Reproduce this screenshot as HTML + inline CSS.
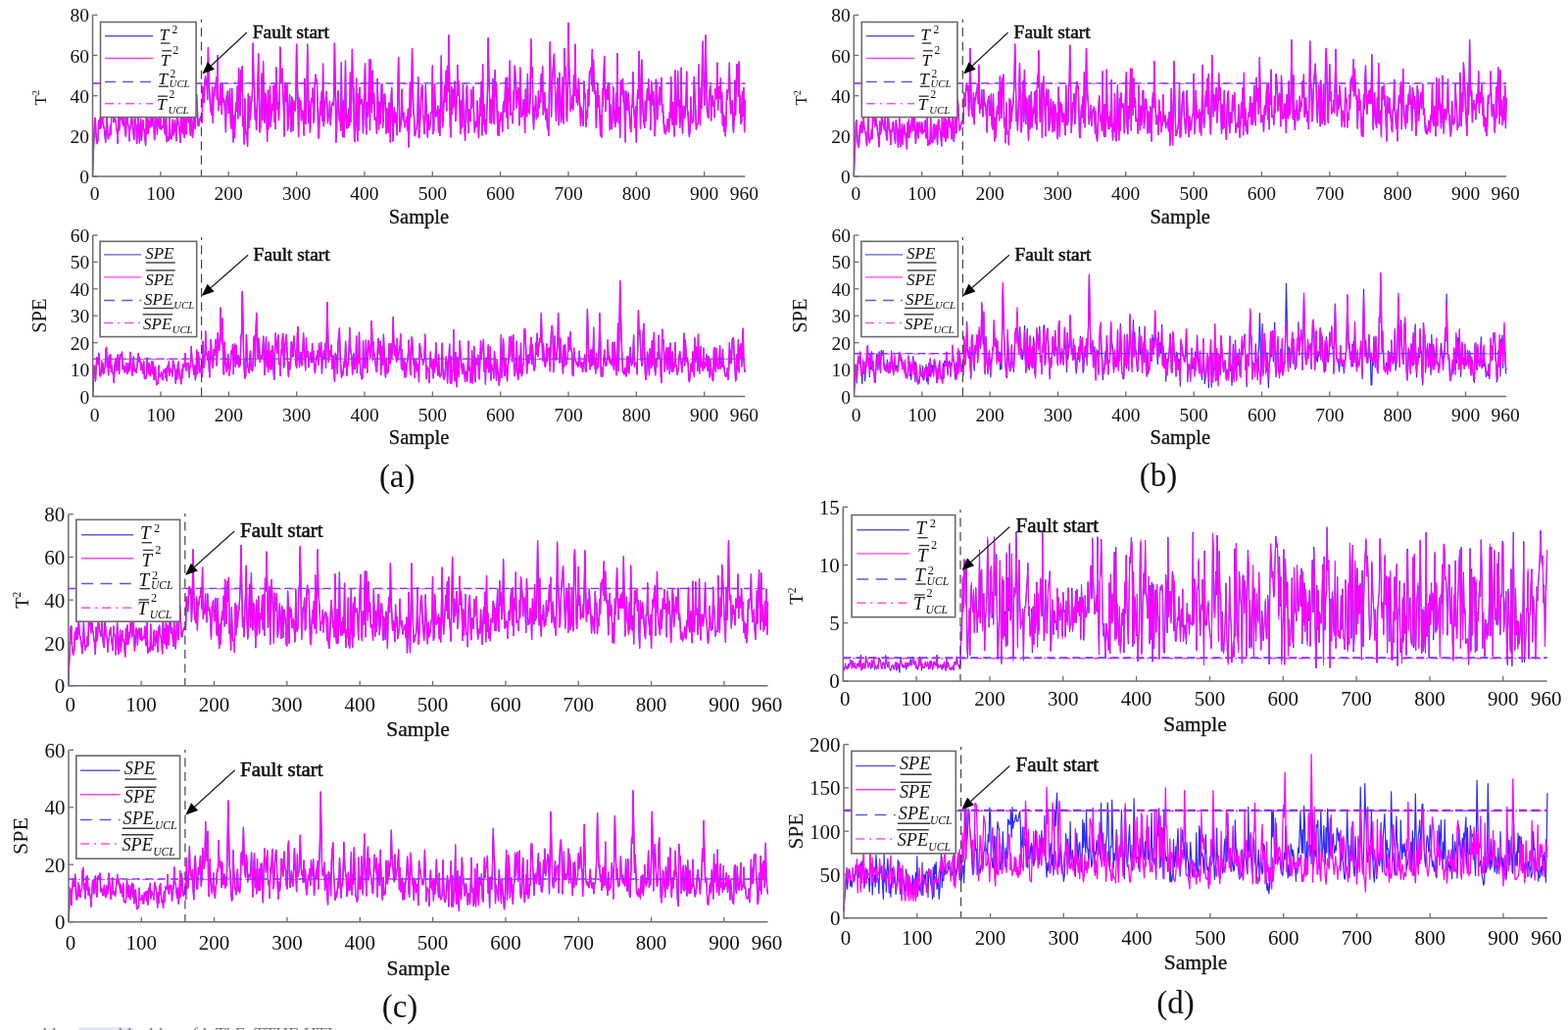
<!DOCTYPE html>
<html><head><meta charset="utf-8"><title>Fault detection charts</title>
<style>html,body{margin:0;padding:0;background:#fff;}svg{display:block;filter:blur(0.4px);}</style></head>
<body>
<svg width="1600" height="1051" viewBox="0 0 1600 1051" font-family='"Liberation Serif", "Times New Roman", serif' fill="#111">
<rect width="1600" height="1051" fill="#fff" stroke="none"/>
<polyline points="94.5,180.0 95.2,159.4 95.9,140.9 96.6,120.3 97.3,120.3 98.0,137.1 98.7,144.8 99.4,146.7 100.0,141.8 100.7,123.2 101.4,131.4 102.1,120.3 102.8,131.0 103.5,129.4 104.2,106.4 104.9,124.0 105.6,128.5 106.3,131.0 107.0,137.5 107.7,145.1 108.4,131.3 109.1,114.4 109.8,135.2 110.5,141.9 111.1,137.5 111.8,138.5 112.5,128.1 113.2,137.5 113.9,109.0 114.6,106.7 115.3,116.9 116.0,124.8 116.7,110.4 117.4,122.4 118.1,122.9 118.8,131.0 119.5,135.5 120.2,146.2 120.9,119.0 121.5,132.8 122.2,129.2 122.9,112.2 123.6,116.3 124.3,122.9 125.0,125.1 125.7,128.2 126.4,113.5 127.1,127.4 127.8,136.6 128.5,139.1 129.2,111.9 129.9,118.5 130.6,128.4 131.3,127.9 132.0,143.8 132.6,132.4 133.3,129.3 134.0,122.1 134.7,119.2 135.4,130.5 136.1,136.2 136.8,142.3 137.5,117.8 138.2,125.7 138.9,127.1 139.6,146.5 140.3,137.6 141.0,114.6 141.7,127.9 142.4,145.8 143.0,133.5 143.7,121.5 144.4,143.5 145.1,130.7 145.8,122.4 146.5,132.3 147.2,131.7 147.9,140.9 148.6,148.5 149.3,120.1 150.0,136.1 150.7,116.8 151.4,136.1 152.1,124.2 152.8,130.4 153.5,118.6 154.1,105.4 154.8,129.1 155.5,125.3 156.2,101.6 156.9,125.7 157.6,142.7 158.3,131.3 159.0,119.8 159.7,122.2 160.4,136.8 161.1,121.8 161.8,119.9 162.5,129.0 163.2,131.2 163.9,119.9 164.5,132.4 165.2,128.4 165.9,130.3 166.6,130.2 167.3,118.1 168.0,135.1 168.7,137.6 169.4,114.3 170.1,144.7 170.8,142.8 171.5,139.7 172.2,143.3 172.9,115.7 173.6,141.1 174.3,138.1 175.0,141.8 175.6,124.6 176.3,122.1 177.0,138.0 177.7,133.8 178.4,122.8 179.1,132.6 179.8,143.7 180.5,119.3 181.2,117.1 181.9,126.6 182.6,128.7 183.3,135.7 184.0,145.4 184.7,107.3 185.4,134.8 186.0,120.3 186.7,136.4 187.4,113.7 188.1,140.4 188.8,117.0 189.5,135.6 190.2,137.0 190.9,111.1 191.6,109.7 192.3,124.8 193.0,119.4 193.7,128.4 194.4,138.1 195.1,111.6 195.8,129.3 196.5,140.4 197.1,131.7 197.8,106.5 198.5,126.0 199.2,131.4 199.9,111.5 200.6,96.1 201.3,107.1 202.0,128.0 202.7,128.6 203.4,124.0 204.1,120.9 204.8,119.0 205.5,124.3 206.2,125.1 206.9,88.7 207.5,94.4 208.2,104.7 208.9,85.1 209.6,77.7 210.3,86.4 211.0,80.9 211.7,101.2 212.4,48.7 213.1,85.4 213.8,94.7 214.5,107.1 215.2,114.0 215.9,117.1 216.6,88.8 217.3,125.3 218.0,94.6 218.6,98.0 219.3,88.4 220.0,89.2 220.7,79.0 221.4,101.6 222.1,56.6 222.8,112.7 223.5,102.9 224.2,106.8 224.9,85.5 225.6,107.2 226.3,116.4 227.0,85.6 227.7,104.0 228.4,100.5 229.0,103.6 229.7,115.9 230.4,134.8 231.1,99.9 231.8,95.6 232.5,92.8 233.2,115.5 233.9,113.6 234.6,90.3 235.3,125.9 236.0,131.2 236.7,90.4 237.4,126.0 238.1,145.0 238.8,118.0 239.5,140.5 240.1,115.8 240.8,104.8 241.5,113.6 242.2,88.0 242.9,121.1 243.6,69.7 244.3,93.9 245.0,118.0 245.7,71.9 246.4,93.5 247.1,67.7 247.8,128.8 248.5,118.2 249.2,147.0 249.9,100.5 250.5,129.6 251.2,137.0 251.9,137.9 252.6,149.4 253.3,95.9 254.0,130.6 254.7,98.3 255.4,122.0 256.1,107.5 256.8,103.6 257.5,93.1 258.2,44.1 258.9,82.2 259.6,92.1 260.3,121.7 260.9,111.1 261.6,132.5 262.3,107.8 263.0,87.2 263.7,54.8 264.4,106.7 265.1,134.8 265.8,129.2 266.5,91.8 267.2,75.0 267.9,122.5 268.6,62.5 269.3,102.9 270.0,125.2 270.7,95.2 271.4,99.7 272.0,118.7 272.7,144.2 273.4,92.1 274.1,131.2 274.8,103.8 275.5,88.0 276.2,129.2 276.9,117.7 277.6,106.5 278.3,112.6 279.0,87.6 279.7,124.4 280.4,86.2 281.1,131.3 281.8,68.9 282.4,82.4 283.1,111.5 283.8,104.7 284.5,122.6 285.2,100.9 285.9,48.2 286.6,85.1 287.3,81.3 288.0,69.9 288.7,92.3 289.4,109.3 290.1,139.1 290.8,84.7 291.5,92.8 292.2,103.7 292.9,85.3 293.5,132.9 294.2,127.3 294.9,110.8 295.6,96.3 296.3,116.5 297.0,134.3 297.7,98.9 298.4,104.3 299.1,133.2 299.8,102.8 300.5,110.6 301.2,113.1 301.9,99.1 302.6,45.2 303.3,82.4 303.9,99.3 304.6,139.6 305.3,100.2 306.0,111.1 306.7,102.7 307.4,122.8 308.1,112.9 308.8,113.4 309.5,125.3 310.2,138.0 310.9,80.4 311.6,125.2 312.3,126.4 313.0,99.1 313.7,45.2 314.4,76.8 315.0,125.0 315.7,103.2 316.4,135.1 317.1,119.6 317.8,100.4 318.5,103.6 319.2,90.0 319.9,125.3 320.6,122.1 321.3,86.0 322.0,76.1 322.7,84.0 323.4,81.2 324.1,110.0 324.8,140.5 325.4,141.1 326.1,117.7 326.8,103.5 327.5,117.6 328.2,93.8 328.9,123.6 329.6,65.1 330.3,128.7 331.0,122.3 331.7,105.9 332.4,99.5 333.1,93.4 333.8,106.1 334.5,125.6 335.2,116.7 335.9,118.1 336.5,103.4 337.2,127.4 337.9,114.2 338.6,107.5 339.3,105.2 340.0,107.4 340.7,98.5 341.4,44.1 342.1,82.2 342.8,145.1 343.5,131.9 344.2,104.1 344.9,92.5 345.6,108.7 346.3,122.6 346.9,115.6 347.6,132.9 348.3,63.9 349.0,125.1 349.7,139.3 350.4,102.4 351.1,139.9 351.8,115.6 352.5,62.0 353.2,118.4 353.9,130.9 354.6,116.8 355.3,130.5 356.0,111.0 356.7,128.1 357.4,74.0 358.0,124.2 358.7,102.2 359.4,50.3 360.1,86.6 360.8,89.9 361.5,140.7 362.2,144.7 362.9,127.0 363.6,80.0 364.3,122.5 365.0,143.8 365.7,95.6 366.4,132.7 367.1,89.2 367.8,106.1 368.4,102.9 369.1,101.6 369.8,110.3 370.5,135.7 371.2,108.7 371.9,83.6 372.6,64.8 373.3,127.4 374.0,136.8 374.7,104.5 375.4,119.1 376.1,102.8 376.8,60.9 377.5,132.6 378.2,61.0 378.9,90.4 379.5,114.8 380.2,72.1 380.9,105.5 381.6,95.2 382.3,122.2 383.0,119.6 383.7,120.6 384.4,136.1 385.1,80.4 385.8,105.4 386.5,131.9 387.2,104.1 387.9,126.4 388.6,112.3 389.3,86.3 389.9,86.8 390.6,130.2 391.3,118.6 392.0,96.6 392.7,96.1 393.4,108.5 394.1,136.1 394.8,110.3 395.5,115.1 396.2,135.3 396.9,104.9 397.6,110.3 398.3,145.2 399.0,101.6 399.7,89.3 400.4,117.5 401.0,143.9 401.7,122.6 402.4,109.7 403.1,125.4 403.8,115.0 404.5,121.6 405.2,137.7 405.9,97.4 406.6,58.5 407.3,92.5 408.0,134.5 408.7,129.6 409.4,122.8 410.1,91.1 410.8,117.1 411.4,122.6 412.1,115.2 412.8,129.8 413.5,124.2 414.2,123.8 414.9,119.7 415.6,133.4 416.3,111.2 417.0,150.0 417.7,130.8 418.4,84.0 419.1,119.4 419.8,101.7 420.5,49.5 421.2,80.9 421.9,115.2 422.5,118.7 423.2,138.7 423.9,136.7 424.6,132.2 425.3,130.1 426.0,119.6 426.7,78.7 427.4,140.5 428.1,139.6 428.8,119.4 429.5,100.0 430.2,89.7 430.9,87.2 431.6,117.2 432.3,122.5 432.9,136.5 433.6,120.7 434.3,86.6 435.0,106.8 435.7,134.7 436.4,140.1 437.1,116.6 437.8,132.4 438.5,131.2 439.2,124.0 439.9,114.6 440.6,113.6 441.3,67.0 442.0,136.4 442.7,133.3 443.4,86.3 444.0,102.7 444.7,119.1 445.4,117.1 446.1,114.2 446.8,108.2 447.5,134.8 448.2,111.9 448.9,138.2 449.6,101.1 450.3,56.8 451.0,111.3 451.7,129.5 452.4,117.5 453.1,101.6 453.8,87.0 454.4,104.1 455.1,72.3 455.8,113.1 456.5,67.3 457.2,93.5 457.9,35.9 458.6,76.2 459.3,127.4 460.0,139.8 460.7,88.5 461.4,116.6 462.1,91.0 462.8,109.7 463.5,101.5 464.2,83.0 464.9,123.4 465.5,116.9 466.2,96.5 466.9,66.5 467.6,97.5 468.3,83.1 469.0,107.0 469.7,136.4 470.4,102.8 471.1,130.8 471.8,113.3 472.5,86.4 473.2,129.3 473.9,130.5 474.6,143.3 475.3,107.9 475.9,91.3 476.6,87.0 477.3,123.7 478.0,135.6 478.7,111.9 479.4,114.1 480.1,123.9 480.8,91.6 481.5,110.1 482.2,103.7 482.9,88.7 483.6,119.1 484.3,135.0 485.0,128.8 485.7,123.9 486.4,128.9 487.0,102.8 487.7,122.2 488.4,140.7 489.1,121.0 489.8,100.2 490.5,118.1 491.2,83.5 491.9,137.9 492.6,65.7 493.3,126.7 494.0,106.8 494.7,133.9 495.4,122.2 496.1,136.7 496.8,113.6 497.4,95.3 498.1,38.8 498.8,78.3 499.5,97.2 500.2,125.5 500.9,101.3 501.6,125.8 502.3,103.7 503.0,80.6 503.7,122.9 504.4,126.6 505.1,71.5 505.8,98.2 506.5,84.1 507.2,113.3 507.9,137.5 508.5,114.0 509.2,138.4 509.9,123.3 510.6,122.3 511.3,114.9 512.0,117.7 512.7,134.2 513.4,107.4 514.1,103.7 514.8,114.5 515.5,89.2 516.2,79.8 516.9,119.9 517.6,78.8 518.3,131.2 518.9,90.4 519.6,102.6 520.3,62.1 521.0,117.1 521.7,115.8 522.4,115.8 523.1,125.8 523.8,93.0 524.5,111.9 525.2,67.2 525.9,75.1 526.6,86.7 527.3,110.1 528.0,100.0 528.7,89.5 529.4,97.9 530.0,127.8 530.7,69.0 531.4,89.7 532.1,119.3 532.8,114.3 533.5,117.8 534.2,101.6 534.9,106.7 535.6,135.3 536.3,91.0 537.0,116.0 537.7,118.8 538.4,75.5 539.1,114.7 539.8,111.9 540.4,115.8 541.1,96.0 541.8,40.0 542.5,79.2 543.2,68.7 543.9,116.5 544.6,131.9 545.3,109.2 546.0,113.2 546.7,97.9 547.4,121.3 548.1,114.7 548.8,119.4 549.5,92.6 550.2,110.0 550.9,100.0 551.5,104.6 552.2,75.8 552.9,93.7 553.6,67.6 554.3,116.9 555.0,111.1 555.7,94.4 556.4,112.3 557.1,122.1 557.8,110.9 558.5,130.8 559.2,131.0 559.9,138.3 560.6,79.1 561.3,42.9 561.9,81.3 562.6,119.1 563.3,87.6 564.0,75.0 564.7,63.8 565.4,55.2 566.1,76.3 566.8,101.5 567.5,123.2 568.2,103.6 568.9,79.9 569.6,88.4 570.3,127.6 571.0,74.4 571.7,99.5 572.4,124.8 573.0,120.5 573.7,78.8 574.4,117.3 575.1,126.0 575.8,49.6 576.5,78.0 577.2,68.3 577.9,114.7 578.6,123.6 579.3,86.1 580.0,23.5 580.7,67.3 581.4,87.7 582.1,113.2 582.8,107.0 583.4,110.5 584.1,97.6 584.8,112.0 585.5,77.0 586.2,97.5 586.9,45.2 587.6,82.9 588.3,104.6 589.0,91.9 589.7,107.2 590.4,80.4 591.1,97.7 591.8,107.3 592.5,128.4 593.2,109.8 593.8,113.9 594.5,120.6 595.2,128.4 595.9,82.9 596.6,99.4 597.3,95.9 598.0,129.2 598.7,113.3 599.4,120.5 600.1,91.5 600.8,107.9 601.5,73.2 602.2,73.6 602.9,69.5 603.6,86.8 604.3,50.3 604.9,92.8 605.6,61.1 606.3,85.3 607.0,95.7 607.7,92.3 608.4,130.4 609.1,106.3 609.8,84.8 610.5,109.3 611.2,97.9 611.9,113.7 612.6,138.6 613.3,117.9 614.0,139.9 614.7,90.9 615.3,107.9 616.0,78.6 616.7,57.3 617.4,97.9 618.1,113.4 618.8,91.1 619.5,100.9 620.2,86.7 620.9,101.1 621.6,84.5 622.3,132.4 623.0,107.0 623.7,130.1 624.4,131.5 625.1,116.4 625.8,88.8 626.4,110.6 627.1,122.7 627.8,129.5 628.5,95.2 629.2,124.1 629.9,54.6 630.6,111.0 631.3,125.2 632.0,109.7 632.7,140.2 633.4,82.3 634.1,96.6 634.8,83.0 635.5,80.3 636.2,103.8 636.8,92.5 637.5,125.0 638.2,145.0 638.9,93.2 639.6,109.0 640.3,112.5 641.0,94.9 641.7,106.4 642.4,117.5 643.1,129.0 643.8,134.4 644.5,108.2 645.2,108.8 645.9,73.6 646.6,111.4 647.3,118.6 647.9,130.2 648.6,108.9 649.3,144.9 650.0,109.3 650.7,92.0 651.4,100.5 652.1,52.4 652.8,76.6 653.5,131.1 654.2,101.3 654.9,61.2 655.6,101.0 656.3,116.9 657.0,124.1 657.7,130.3 658.3,103.0 659.0,123.7 659.7,112.6 660.4,90.9 661.1,101.8 661.8,80.9 662.5,102.2 663.2,96.9 663.9,132.6 664.6,83.1 665.3,89.5 666.0,107.2 666.7,93.4 667.4,113.2 668.1,138.6 668.8,124.8 669.4,81.0 670.1,87.4 670.8,121.7 671.5,109.5 672.2,99.8 672.9,89.0 673.6,107.3 674.3,91.8 675.0,79.3 675.7,114.1 676.4,106.7 677.1,123.8 677.8,135.0 678.5,127.3 679.2,136.9 679.8,133.1 680.5,133.1 681.2,121.5 681.9,125.5 682.6,134.7 683.3,114.7 684.0,119.7 684.7,78.7 685.4,123.6 686.1,127.3 686.8,104.4 687.5,121.9 688.2,139.0 688.9,71.8 689.6,125.4 690.3,127.2 690.9,106.2 691.6,72.7 692.3,108.2 693.0,101.9 693.7,130.1 694.4,118.0 695.1,69.1 695.8,117.7 696.5,136.0 697.2,108.5 697.9,108.2 698.6,120.6 699.3,112.5 700.0,102.6 700.7,73.2 701.3,111.8 702.0,114.7 702.7,130.3 703.4,139.5 704.1,132.9 704.8,99.0 705.5,112.7 706.2,125.8 706.9,123.4 707.6,124.2 708.3,78.3 709.0,97.4 709.7,108.6 710.4,132.0 711.1,127.8 711.8,126.4 712.4,126.7 713.1,65.8 713.8,117.8 714.5,127.7 715.2,89.5 715.9,110.2 716.6,53.9 717.3,42.1 718.0,80.7 718.7,107.4 719.4,93.5 720.1,35.9 720.8,76.2 721.5,114.0 722.2,118.3 722.8,120.3 723.5,99.1 724.2,92.7 724.9,87.0 725.6,123.0 726.3,107.1 727.0,97.7 727.7,108.0 728.4,103.1 729.1,119.6 729.8,90.8 730.5,101.1 731.2,99.0 731.9,64.1 732.6,112.1 733.3,88.4 733.9,100.7 734.6,94.4 735.3,79.8 736.0,114.9 736.7,94.3 737.4,127.9 738.1,116.4 738.8,134.0 739.5,118.4 740.2,138.8 740.9,127.2 741.6,92.2 742.3,101.5 743.0,91.5 743.7,90.2 744.3,64.0 745.0,100.9 745.7,116.1 746.4,110.1 747.1,102.5 747.8,124.6 748.5,135.2 749.2,118.0 749.9,82.2 750.6,117.8 751.3,85.6 752.0,65.6 752.7,66.8 753.4,98.5 754.1,63.0 754.8,115.2 755.4,97.8 756.1,126.2 756.8,123.9 757.5,93.5 758.2,118.2 758.9,89.4 759.6,134.7 760.3,101.8" fill="none" stroke="#2b2bff" stroke-width="1.209" stroke-linejoin="round"/>
<polyline points="94.5,180.0 95.2,159.4 95.9,140.9 96.6,120.3 97.3,120.3 98.0,137.1 98.7,144.8 99.4,146.7 100.0,141.8 100.7,123.2 101.4,131.4 102.1,120.3 102.8,131.0 103.5,129.4 104.2,106.4 104.9,124.0 105.6,128.5 106.3,131.0 107.0,137.5 107.7,145.1 108.4,131.3 109.1,114.4 109.8,135.2 110.5,141.9 111.1,137.5 111.8,138.5 112.5,128.1 113.2,137.5 113.9,109.0 114.6,106.7 115.3,116.9 116.0,124.8 116.7,110.4 117.4,122.4 118.1,122.9 118.8,131.0 119.5,135.5 120.2,146.2 120.9,119.0 121.5,132.8 122.2,129.2 122.9,112.2 123.6,116.3 124.3,122.9 125.0,125.1 125.7,128.2 126.4,113.5 127.1,127.4 127.8,136.6 128.5,139.1 129.2,111.9 129.9,118.5 130.6,128.4 131.3,127.9 132.0,143.8 132.6,132.4 133.3,129.3 134.0,122.1 134.7,119.2 135.4,130.5 136.1,136.2 136.8,142.3 137.5,117.8 138.2,125.7 138.9,127.1 139.6,146.5 140.3,137.6 141.0,114.6 141.7,127.9 142.4,145.8 143.0,133.5 143.7,121.5 144.4,143.5 145.1,130.7 145.8,122.4 146.5,132.3 147.2,131.7 147.9,140.9 148.6,148.5 149.3,120.1 150.0,136.1 150.7,116.8 151.4,136.1 152.1,124.2 152.8,130.4 153.5,118.6 154.1,105.4 154.8,129.1 155.5,125.3 156.2,101.6 156.9,125.7 157.6,142.7 158.3,131.3 159.0,119.8 159.7,122.2 160.4,136.8 161.1,121.8 161.8,119.9 162.5,129.0 163.2,131.2 163.9,119.9 164.5,132.4 165.2,128.4 165.9,130.3 166.6,130.2 167.3,118.1 168.0,135.1 168.7,137.6 169.4,114.3 170.1,144.7 170.8,142.8 171.5,139.7 172.2,143.3 172.9,115.7 173.6,141.1 174.3,138.1 175.0,141.8 175.6,124.6 176.3,122.1 177.0,138.0 177.7,133.8 178.4,122.8 179.1,132.6 179.8,143.7 180.5,119.3 181.2,117.1 181.9,126.6 182.6,128.7 183.3,135.7 184.0,145.4 184.7,107.3 185.4,134.8 186.0,120.3 186.7,136.4 187.4,113.7 188.1,140.4 188.8,117.0 189.5,135.6 190.2,137.0 190.9,111.1 191.6,109.7 192.3,124.8 193.0,119.4 193.7,128.4 194.4,138.1 195.1,111.6 195.8,129.3 196.5,140.4 197.1,131.7 197.8,106.5 198.5,126.0 199.2,131.4 199.9,111.5 200.6,96.1 201.3,107.1 202.0,128.0 202.7,128.6 203.4,124.0 204.1,120.9 204.8,119.0 205.5,124.3 206.2,125.1 206.9,88.7 207.5,94.4 208.2,104.7 208.9,85.1 209.6,77.7 210.3,86.4 211.0,80.9 211.7,101.2 212.4,48.7 213.1,85.4 213.8,94.7 214.5,107.1 215.2,114.0 215.9,117.1 216.6,88.8 217.3,125.3 218.0,94.6 218.6,98.0 219.3,88.4 220.0,89.2 220.7,79.0 221.4,101.6 222.1,56.6 222.8,112.7 223.5,102.9 224.2,106.8 224.9,85.5 225.6,107.2 226.3,116.4 227.0,85.6 227.7,104.0 228.4,100.5 229.0,103.6 229.7,115.9 230.4,134.8 231.1,99.9 231.8,95.6 232.5,92.8 233.2,115.5 233.9,113.6 234.6,90.3 235.3,125.9 236.0,131.2 236.7,90.4 237.4,126.0 238.1,145.0 238.8,118.0 239.5,140.5 240.1,115.8 240.8,104.8 241.5,113.6 242.2,88.0 242.9,121.1 243.6,69.7 244.3,93.9 245.0,118.0 245.7,71.9 246.4,93.5 247.1,67.7 247.8,128.8 248.5,118.2 249.2,147.0 249.9,100.5 250.5,129.6 251.2,137.0 251.9,137.9 252.6,149.4 253.3,95.9 254.0,130.6 254.7,98.3 255.4,122.0 256.1,107.5 256.8,103.6 257.5,93.1 258.2,44.1 258.9,82.2 259.6,92.1 260.3,121.7 260.9,111.1 261.6,132.5 262.3,107.8 263.0,87.2 263.7,54.8 264.4,106.7 265.1,134.8 265.8,129.2 266.5,91.8 267.2,75.0 267.9,122.5 268.6,62.5 269.3,102.9 270.0,125.2 270.7,95.2 271.4,99.7 272.0,118.7 272.7,144.2 273.4,92.1 274.1,131.2 274.8,103.8 275.5,88.0 276.2,129.2 276.9,117.7 277.6,106.5 278.3,112.6 279.0,87.6 279.7,124.4 280.4,86.2 281.1,131.3 281.8,68.9 282.4,82.4 283.1,111.5 283.8,104.7 284.5,122.6 285.2,100.9 285.9,48.2 286.6,85.1 287.3,81.3 288.0,69.9 288.7,92.3 289.4,109.3 290.1,139.1 290.8,84.7 291.5,92.8 292.2,103.7 292.9,85.3 293.5,132.9 294.2,127.3 294.9,110.8 295.6,96.3 296.3,116.5 297.0,134.3 297.7,98.9 298.4,104.3 299.1,133.2 299.8,102.8 300.5,110.6 301.2,113.1 301.9,99.1 302.6,45.2 303.3,82.4 303.9,99.3 304.6,139.6 305.3,100.2 306.0,111.1 306.7,102.7 307.4,122.8 308.1,112.9 308.8,113.4 309.5,125.3 310.2,138.0 310.9,80.4 311.6,125.2 312.3,126.4 313.0,99.1 313.7,45.2 314.4,76.8 315.0,125.0 315.7,103.2 316.4,135.1 317.1,119.6 317.8,100.4 318.5,103.6 319.2,90.0 319.9,125.3 320.6,122.1 321.3,86.0 322.0,76.1 322.7,84.0 323.4,81.2 324.1,110.0 324.8,140.5 325.4,141.1 326.1,117.7 326.8,103.5 327.5,117.6 328.2,93.8 328.9,123.6 329.6,65.1 330.3,128.7 331.0,122.3 331.7,105.9 332.4,99.5 333.1,93.4 333.8,106.1 334.5,125.6 335.2,116.7 335.9,118.1 336.5,103.4 337.2,127.4 337.9,114.2 338.6,107.5 339.3,105.2 340.0,107.4 340.7,98.5 341.4,44.1 342.1,82.2 342.8,145.1 343.5,131.9 344.2,104.1 344.9,92.5 345.6,108.7 346.3,122.6 346.9,115.6 347.6,132.9 348.3,63.9 349.0,125.1 349.7,139.3 350.4,102.4 351.1,139.9 351.8,115.6 352.5,62.0 353.2,118.4 353.9,130.9 354.6,116.8 355.3,130.5 356.0,111.0 356.7,128.1 357.4,74.0 358.0,124.2 358.7,102.2 359.4,50.3 360.1,86.6 360.8,89.9 361.5,140.7 362.2,144.7 362.9,127.0 363.6,80.0 364.3,122.5 365.0,143.8 365.7,95.6 366.4,132.7 367.1,89.2 367.8,106.1 368.4,102.9 369.1,101.6 369.8,110.3 370.5,135.7 371.2,108.7 371.9,83.6 372.6,64.8 373.3,127.4 374.0,136.8 374.7,104.5 375.4,119.1 376.1,102.8 376.8,60.9 377.5,132.6 378.2,61.0 378.9,90.4 379.5,114.8 380.2,72.1 380.9,105.5 381.6,95.2 382.3,122.2 383.0,119.6 383.7,120.6 384.4,136.1 385.1,80.4 385.8,105.4 386.5,131.9 387.2,104.1 387.9,126.4 388.6,112.3 389.3,86.3 389.9,86.8 390.6,130.2 391.3,118.6 392.0,96.6 392.7,96.1 393.4,108.5 394.1,136.1 394.8,110.3 395.5,115.1 396.2,135.3 396.9,104.9 397.6,110.3 398.3,145.2 399.0,101.6 399.7,89.3 400.4,117.5 401.0,143.9 401.7,122.6 402.4,109.7 403.1,125.4 403.8,115.0 404.5,121.6 405.2,137.7 405.9,97.4 406.6,58.5 407.3,92.5 408.0,134.5 408.7,129.6 409.4,122.8 410.1,91.1 410.8,117.1 411.4,122.6 412.1,115.2 412.8,129.8 413.5,124.2 414.2,123.8 414.9,119.7 415.6,133.4 416.3,111.2 417.0,150.0 417.7,130.8 418.4,84.0 419.1,119.4 419.8,101.7 420.5,49.5 421.2,80.9 421.9,115.2 422.5,118.7 423.2,138.7 423.9,136.7 424.6,132.2 425.3,130.1 426.0,119.6 426.7,78.7 427.4,140.5 428.1,139.6 428.8,119.4 429.5,100.0 430.2,89.7 430.9,87.2 431.6,117.2 432.3,122.5 432.9,136.5 433.6,120.7 434.3,86.6 435.0,106.8 435.7,134.7 436.4,140.1 437.1,116.6 437.8,132.4 438.5,131.2 439.2,124.0 439.9,114.6 440.6,113.6 441.3,67.0 442.0,136.4 442.7,133.3 443.4,86.3 444.0,102.7 444.7,119.1 445.4,117.1 446.1,114.2 446.8,108.2 447.5,134.8 448.2,111.9 448.9,138.2 449.6,101.1 450.3,56.8 451.0,111.3 451.7,129.5 452.4,117.5 453.1,101.6 453.8,87.0 454.4,104.1 455.1,72.3 455.8,113.1 456.5,67.3 457.2,93.5 457.9,35.9 458.6,76.2 459.3,127.4 460.0,139.8 460.7,88.5 461.4,116.6 462.1,91.0 462.8,109.7 463.5,101.5 464.2,83.0 464.9,123.4 465.5,116.9 466.2,96.5 466.9,66.5 467.6,97.5 468.3,83.1 469.0,107.0 469.7,136.4 470.4,102.8 471.1,130.8 471.8,113.3 472.5,86.4 473.2,129.3 473.9,130.5 474.6,143.3 475.3,107.9 475.9,91.3 476.6,87.0 477.3,123.7 478.0,135.6 478.7,111.9 479.4,114.1 480.1,123.9 480.8,91.6 481.5,110.1 482.2,103.7 482.9,88.7 483.6,119.1 484.3,135.0 485.0,128.8 485.7,123.9 486.4,128.9 487.0,102.8 487.7,122.2 488.4,140.7 489.1,121.0 489.8,100.2 490.5,118.1 491.2,83.5 491.9,137.9 492.6,65.7 493.3,126.7 494.0,106.8 494.7,133.9 495.4,122.2 496.1,136.7 496.8,113.6 497.4,95.3 498.1,38.8 498.8,78.3 499.5,97.2 500.2,125.5 500.9,101.3 501.6,125.8 502.3,103.7 503.0,80.6 503.7,122.9 504.4,126.6 505.1,71.5 505.8,98.2 506.5,84.1 507.2,113.3 507.9,137.5 508.5,114.0 509.2,138.4 509.9,123.3 510.6,122.3 511.3,114.9 512.0,117.7 512.7,134.2 513.4,107.4 514.1,103.7 514.8,114.5 515.5,89.2 516.2,79.8 516.9,119.9 517.6,78.8 518.3,131.2 518.9,90.4 519.6,102.6 520.3,62.1 521.0,117.1 521.7,115.8 522.4,115.8 523.1,125.8 523.8,93.0 524.5,111.9 525.2,67.2 525.9,75.1 526.6,86.7 527.3,110.1 528.0,100.0 528.7,89.5 529.4,97.9 530.0,127.8 530.7,69.0 531.4,89.7 532.1,119.3 532.8,114.3 533.5,117.8 534.2,101.6 534.9,106.7 535.6,135.3 536.3,91.0 537.0,116.0 537.7,118.8 538.4,75.5 539.1,114.7 539.8,111.9 540.4,115.8 541.1,96.0 541.8,40.0 542.5,79.2 543.2,68.7 543.9,116.5 544.6,131.9 545.3,109.2 546.0,113.2 546.7,97.9 547.4,121.3 548.1,114.7 548.8,119.4 549.5,92.6 550.2,110.0 550.9,100.0 551.5,104.6 552.2,75.8 552.9,93.7 553.6,67.6 554.3,116.9 555.0,111.1 555.7,94.4 556.4,112.3 557.1,122.1 557.8,110.9 558.5,130.8 559.2,131.0 559.9,138.3 560.6,79.1 561.3,42.9 561.9,81.3 562.6,119.1 563.3,87.6 564.0,75.0 564.7,63.8 565.4,55.2 566.1,76.3 566.8,101.5 567.5,123.2 568.2,103.6 568.9,79.9 569.6,88.4 570.3,127.6 571.0,74.4 571.7,99.5 572.4,124.8 573.0,120.5 573.7,78.8 574.4,117.3 575.1,126.0 575.8,49.6 576.5,78.0 577.2,68.3 577.9,114.7 578.6,123.6 579.3,86.1 580.0,23.5 580.7,67.3 581.4,87.7 582.1,113.2 582.8,107.0 583.4,110.5 584.1,97.6 584.8,112.0 585.5,77.0 586.2,97.5 586.9,45.2 587.6,82.9 588.3,104.6 589.0,91.9 589.7,107.2 590.4,80.4 591.1,97.7 591.8,107.3 592.5,128.4 593.2,109.8 593.8,113.9 594.5,120.6 595.2,128.4 595.9,82.9 596.6,99.4 597.3,95.9 598.0,129.2 598.7,113.3 599.4,120.5 600.1,91.5 600.8,107.9 601.5,73.2 602.2,73.6 602.9,69.5 603.6,86.8 604.3,50.3 604.9,92.8 605.6,61.1 606.3,85.3 607.0,95.7 607.7,92.3 608.4,130.4 609.1,106.3 609.8,84.8 610.5,109.3 611.2,97.9 611.9,113.7 612.6,138.6 613.3,117.9 614.0,139.9 614.7,90.9 615.3,107.9 616.0,78.6 616.7,57.3 617.4,97.9 618.1,113.4 618.8,91.1 619.5,100.9 620.2,86.7 620.9,101.1 621.6,84.5 622.3,132.4 623.0,107.0 623.7,130.1 624.4,131.5 625.1,116.4 625.8,88.8 626.4,110.6 627.1,122.7 627.8,129.5 628.5,95.2 629.2,124.1 629.9,54.6 630.6,111.0 631.3,125.2 632.0,109.7 632.7,140.2 633.4,82.3 634.1,96.6 634.8,83.0 635.5,80.3 636.2,103.8 636.8,92.5 637.5,125.0 638.2,145.0 638.9,93.2 639.6,109.0 640.3,112.5 641.0,94.9 641.7,106.4 642.4,117.5 643.1,129.0 643.8,134.4 644.5,108.2 645.2,108.8 645.9,73.6 646.6,111.4 647.3,118.6 647.9,130.2 648.6,108.9 649.3,144.9 650.0,109.3 650.7,92.0 651.4,100.5 652.1,52.4 652.8,76.6 653.5,131.1 654.2,101.3 654.9,61.2 655.6,101.0 656.3,116.9 657.0,124.1 657.7,130.3 658.3,103.0 659.0,123.7 659.7,112.6 660.4,90.9 661.1,101.8 661.8,80.9 662.5,102.2 663.2,96.9 663.9,132.6 664.6,83.1 665.3,89.5 666.0,107.2 666.7,93.4 667.4,113.2 668.1,138.6 668.8,124.8 669.4,81.0 670.1,87.4 670.8,121.7 671.5,109.5 672.2,99.8 672.9,89.0 673.6,107.3 674.3,91.8 675.0,79.3 675.7,114.1 676.4,106.7 677.1,123.8 677.8,135.0 678.5,127.3 679.2,136.9 679.8,133.1 680.5,133.1 681.2,121.5 681.9,125.5 682.6,134.7 683.3,114.7 684.0,119.7 684.7,78.7 685.4,123.6 686.1,127.3 686.8,104.4 687.5,121.9 688.2,139.0 688.9,71.8 689.6,125.4 690.3,127.2 690.9,106.2 691.6,72.7 692.3,108.2 693.0,101.9 693.7,130.1 694.4,118.0 695.1,69.1 695.8,117.7 696.5,136.0 697.2,108.5 697.9,108.2 698.6,120.6 699.3,112.5 700.0,102.6 700.7,73.2 701.3,111.8 702.0,114.7 702.7,130.3 703.4,139.5 704.1,132.9 704.8,99.0 705.5,112.7 706.2,125.8 706.9,123.4 707.6,124.2 708.3,78.3 709.0,97.4 709.7,108.6 710.4,132.0 711.1,127.8 711.8,126.4 712.4,126.7 713.1,65.8 713.8,117.8 714.5,127.7 715.2,89.5 715.9,110.2 716.6,53.9 717.3,42.1 718.0,80.7 718.7,107.4 719.4,93.5 720.1,35.9 720.8,76.2 721.5,114.0 722.2,118.3 722.8,120.3 723.5,99.1 724.2,92.7 724.9,87.0 725.6,123.0 726.3,107.1 727.0,97.7 727.7,108.0 728.4,103.1 729.1,119.6 729.8,90.8 730.5,101.1 731.2,99.0 731.9,64.1 732.6,112.1 733.3,88.4 733.9,100.7 734.6,94.4 735.3,79.8 736.0,114.9 736.7,94.3 737.4,127.9 738.1,116.4 738.8,134.0 739.5,118.4 740.2,138.8 740.9,127.2 741.6,92.2 742.3,101.5 743.0,91.5 743.7,90.2 744.3,64.0 745.0,100.9 745.7,116.1 746.4,110.1 747.1,102.5 747.8,124.6 748.5,135.2 749.2,118.0 749.9,82.2 750.6,117.8 751.3,85.6 752.0,65.6 752.7,66.8 753.4,98.5 754.1,63.0 754.8,115.2 755.4,97.8 756.1,126.2 756.8,123.9 757.5,93.5 758.2,118.2 758.9,89.4 759.6,134.7 760.3,101.8" fill="none" stroke="#ff00ff" stroke-width="1.3" stroke-linejoin="round"/>
<line x1="94.5" y1="84.9" x2="760.3" y2="84.9" stroke="#4a4aff" stroke-width="1.2" stroke-dasharray="8,5"/>
<line x1="94.5" y1="85.4" x2="760.3" y2="85.4" stroke="#ff00ff" stroke-width="1.0" stroke-dasharray="7,3,2,3" opacity="0.8"/>
<line x1="205.5" y1="19.7" x2="205.5" y2="180.0" stroke="#444" stroke-width="1.2" stroke-dasharray="9,5.5" stroke-dashoffset="6"/>
<path d="M94.5,15.3 V180.0 H760.3" fill="none" stroke="#6e6e6e" stroke-width="1.5"/>
<line x1="94.5" y1="180.0" x2="99.5" y2="180.0" stroke="#6e6e6e" stroke-width="1.3"/>
<text x="91.0" y="180.5" font-size="19.5" text-anchor="end" dominant-baseline="central">0</text>
<line x1="94.5" y1="138.8" x2="99.5" y2="138.8" stroke="#6e6e6e" stroke-width="1.3"/>
<text x="91.0" y="139.3" font-size="19.5" text-anchor="end" dominant-baseline="central">20</text>
<line x1="94.5" y1="97.7" x2="99.5" y2="97.7" stroke="#6e6e6e" stroke-width="1.3"/>
<text x="91.0" y="98.2" font-size="19.5" text-anchor="end" dominant-baseline="central">40</text>
<line x1="94.5" y1="56.5" x2="99.5" y2="56.5" stroke="#6e6e6e" stroke-width="1.3"/>
<text x="91.0" y="57.0" font-size="19.5" text-anchor="end" dominant-baseline="central">60</text>
<line x1="94.5" y1="15.3" x2="99.5" y2="15.3" stroke="#6e6e6e" stroke-width="1.3"/>
<text x="91.0" y="15.8" font-size="19.5" text-anchor="end" dominant-baseline="central">80</text>
<text x="96.5" y="203.5" font-size="19.5" text-anchor="middle">0</text>
<line x1="163.9" y1="180.0" x2="163.9" y2="175.0" stroke="#6e6e6e" stroke-width="1.3"/>
<text x="163.9" y="203.5" font-size="19.5" text-anchor="middle">100</text>
<line x1="233.2" y1="180.0" x2="233.2" y2="175.0" stroke="#6e6e6e" stroke-width="1.3"/>
<text x="233.2" y="203.5" font-size="19.5" text-anchor="middle">200</text>
<line x1="302.6" y1="180.0" x2="302.6" y2="175.0" stroke="#6e6e6e" stroke-width="1.3"/>
<text x="302.6" y="203.5" font-size="19.5" text-anchor="middle">300</text>
<line x1="371.9" y1="180.0" x2="371.9" y2="175.0" stroke="#6e6e6e" stroke-width="1.3"/>
<text x="371.9" y="203.5" font-size="19.5" text-anchor="middle">400</text>
<line x1="441.3" y1="180.0" x2="441.3" y2="175.0" stroke="#6e6e6e" stroke-width="1.3"/>
<text x="441.3" y="203.5" font-size="19.5" text-anchor="middle">500</text>
<line x1="510.6" y1="180.0" x2="510.6" y2="175.0" stroke="#6e6e6e" stroke-width="1.3"/>
<text x="510.6" y="203.5" font-size="19.5" text-anchor="middle">600</text>
<line x1="580.0" y1="180.0" x2="580.0" y2="175.0" stroke="#6e6e6e" stroke-width="1.3"/>
<text x="580.0" y="203.5" font-size="19.5" text-anchor="middle">700</text>
<line x1="649.3" y1="180.0" x2="649.3" y2="175.0" stroke="#6e6e6e" stroke-width="1.3"/>
<text x="649.3" y="203.5" font-size="19.5" text-anchor="middle">800</text>
<line x1="718.7" y1="180.0" x2="718.7" y2="175.0" stroke="#6e6e6e" stroke-width="1.3"/>
<text x="718.7" y="203.5" font-size="19.5" text-anchor="middle">900</text>
<text x="759.3" y="203.5" font-size="19.5" text-anchor="middle">960</text>
<text x="427.4" y="228.0" font-size="20.5" text-anchor="middle" stroke="#111" stroke-width="0.3">Sample</text>
<text transform="translate(46.6,99.7) rotate(-90)" font-size="17" text-anchor="middle">T<tspan font-size="10.5" dy="-6.8">2</tspan></text>
<rect x="102.5" y="22.5" width="97.6" height="97.1" fill="#fff" stroke="#6a6a6a" stroke-width="1.6"/>
<line x1="107.0" y1="36.7" x2="156.2" y2="36.7" stroke="#5a5ae0" stroke-width="1.4"/>
<line x1="107.0" y1="59.5" x2="156.2" y2="59.5" stroke="#ff40f0" stroke-width="1.4"/>
<line x1="107.0" y1="83.5" x2="156.2" y2="83.5" stroke="#5a5ae0" stroke-width="1.5" stroke-dasharray="11.0,7.0"/>
<line x1="107.0" y1="105.8" x2="156.2" y2="105.8" stroke="#ff50f0" stroke-width="1.4" stroke-dasharray="9,5,2,5"/>
<text x="162.4" y="40.6" font-size="17.6" font-style="italic">T</text>
<text x="175.6" y="34.4" font-size="11.5">2</text>
<line x1="164.0" y1="44.1" x2="173.5" y2="44.1" stroke="#3a3a3a" stroke-width="1.4"/>
<line x1="165.3" y1="51.8" x2="175.0" y2="51.8" stroke="#3a3a3a" stroke-width="1.4"/>
<text x="163.8" y="66.8" font-size="17.6" font-style="italic">T</text>
<text x="176.6" y="54.8" font-size="11.5">2</text>
<text x="161.2" y="85.6" font-size="17.6" font-style="italic">T</text>
<text x="173.6" y="78.8" font-size="11.5">2</text>
<text x="172.6" y="88.8" font-size="10.8" font-style="italic">UCL</text>
<line x1="162.0" y1="88.2" x2="171.9" y2="88.2" stroke="#3a3a3a" stroke-width="1.4"/>
<line x1="161.0" y1="98.2" x2="170.9" y2="98.2" stroke="#3a3a3a" stroke-width="1.4"/>
<text x="172.6" y="100.3" font-size="11.5">2</text>
<text x="159.9" y="112.3" font-size="17.6" font-style="italic">T</text>
<text x="171.5" y="116.0" font-size="10.8" font-style="italic">UCL</text>
<text x="257.8" y="38.9" font-size="19.4" stroke="#111" stroke-width="0.55">Fault start</text>
<line x1="251.7" y1="33.3" x2="215.5" y2="67.0" stroke="#222" stroke-width="1.3"/>
<polygon points="206.3,75.5 211.9,63.2 219.0,70.8" fill="#000"/>
<polyline points="94.7,404.5 95.4,390.8 96.1,373.0 96.8,375.7 97.5,388.9 98.2,374.0 98.9,364.5 99.6,371.6 100.2,371.2 100.9,360.4 101.6,378.3 102.3,384.0 103.0,382.5 103.7,368.0 104.4,380.4 105.1,371.0 105.8,381.7 106.5,376.6 107.2,374.6 107.9,357.1 108.6,354.3 109.3,374.5 110.0,369.0 110.6,382.8 111.3,362.7 112.0,374.7 112.7,361.6 113.4,379.5 114.1,372.7 114.8,378.8 115.5,381.9 116.2,390.3 116.9,377.6 117.6,366.1 118.3,365.7 119.0,378.3 119.7,364.8 120.4,361.7 121.0,376.3 121.7,381.3 122.4,362.4 123.1,361.9 123.8,364.2 124.5,359.2 125.2,376.8 125.9,373.0 126.6,373.9 127.3,380.0 128.0,378.1 128.7,370.4 129.4,380.1 130.1,381.7 130.8,370.8 131.4,379.0 132.1,376.9 132.8,359.4 133.5,365.4 134.2,376.3 134.9,383.2 135.6,376.0 136.3,363.7 137.0,378.8 137.7,378.7 138.4,376.5 139.1,380.5 139.8,373.6 140.5,366.9 141.2,360.6 141.8,369.1 142.5,365.0 143.2,370.7 143.9,377.5 144.6,370.2 145.3,376.6 146.0,380.8 146.7,368.4 147.4,386.1 148.1,384.5 148.8,386.7 149.5,381.7 150.2,365.2 150.9,374.5 151.6,381.4 152.2,370.5 152.9,382.0 153.6,383.7 154.3,372.3 155.0,368.5 155.7,381.5 156.4,369.8 157.1,387.3 157.8,377.4 158.5,374.1 159.2,387.0 159.9,392.6 160.6,390.4 161.3,391.3 162.0,373.0 162.6,383.9 163.3,384.3 164.0,383.0 164.7,379.7 165.4,386.8 166.1,387.7 166.8,377.3 167.5,379.8 168.2,376.6 168.9,385.1 169.6,375.8 170.3,388.6 171.0,373.2 171.7,378.2 172.4,368.8 173.0,383.1 173.7,375.9 174.4,378.9 175.1,379.1 175.8,383.9 176.5,367.8 177.2,370.1 177.9,373.3 178.6,379.7 179.3,391.2 180.0,377.0 180.7,386.9 181.4,372.2 182.1,369.0 182.8,379.4 183.4,386.2 184.1,385.1 184.8,391.6 185.5,376.4 186.2,385.7 186.9,371.6 187.6,374.0 188.3,374.4 189.0,360.5 189.7,376.1 190.4,378.6 191.1,370.5 191.8,370.3 192.5,370.9 193.2,384.8 193.8,374.0 194.5,373.9 195.2,353.7 195.9,366.8 196.6,369.9 197.3,377.3 198.0,382.1 198.7,372.9 199.4,387.6 200.1,380.2 200.8,357.1 201.5,381.4 202.2,359.6 202.9,364.9 203.6,379.8 204.2,380.1 204.9,375.7 205.6,371.1 206.3,384.5 207.0,348.1 207.7,375.1 208.4,374.3 209.1,360.4 209.8,338.0 210.5,360.0 211.2,363.2 211.9,367.4 212.6,358.4 213.3,376.5 214.0,384.8 214.6,351.2 215.3,346.3 216.0,364.4 216.7,375.5 217.4,375.3 218.1,356.6 218.8,362.7 219.5,354.9 220.2,346.4 220.9,373.0 221.6,366.0 222.3,339.5 223.0,350.0 223.7,357.7 224.4,350.2 225.0,314.0 225.7,339.4 226.4,350.7 227.1,324.8 227.8,380.3 228.5,382.1 229.2,349.0 229.9,366.4 230.6,374.7 231.3,379.5 232.0,371.6 232.7,361.4 233.4,377.3 234.1,383.4 234.8,374.5 235.4,369.7 236.1,357.8 236.8,360.5 237.5,351.7 238.2,381.7 238.9,357.0 239.6,350.9 240.3,374.2 241.0,352.3 241.7,370.3 242.4,371.8 243.1,362.5 243.8,374.6 244.5,365.1 245.2,372.6 245.8,344.1 246.5,340.3 247.2,297.6 247.9,327.5 248.6,362.6 249.3,377.7 250.0,386.0 250.7,383.8 251.4,341.6 252.1,359.8 252.8,374.4 253.5,376.4 254.2,380.5 254.9,362.8 255.6,358.2 256.2,377.5 256.9,374.1 257.6,378.7 258.3,367.4 259.0,344.2 259.7,342.7 260.4,373.7 261.1,335.9 261.8,319.5 262.5,343.3 263.2,365.4 263.9,345.4 264.6,352.3 265.3,369.4 266.0,362.5 266.6,364.1 267.3,365.1 268.0,360.0 268.7,343.1 269.4,367.6 270.1,382.5 270.8,359.7 271.5,344.0 272.2,374.4 272.9,358.5 273.6,379.5 274.3,349.1 275.0,372.9 275.7,376.8 276.4,357.9 277.0,376.8 277.7,353.3 278.4,353.1 279.1,379.6 279.8,387.3 280.5,356.7 281.2,339.9 281.9,348.2 282.6,360.7 283.3,351.7 284.0,341.9 284.7,371.8 285.4,368.5 286.1,383.4 286.8,356.8 287.4,361.6 288.1,345.8 288.8,340.4 289.5,375.2 290.2,371.8 290.9,353.0 291.6,344.5 292.3,341.3 293.0,360.2 293.7,373.0 294.4,384.3 295.1,369.2 295.8,377.2 296.5,371.0 297.2,348.8 297.8,349.3 298.5,364.2 299.2,363.3 299.9,342.8 300.6,357.6 301.3,358.2 302.0,372.4 302.7,375.3 303.4,340.1 304.1,333.3 304.8,360.1 305.5,374.1 306.2,366.5 306.9,359.3 307.6,369.7 308.2,373.0 308.9,358.6 309.6,339.8 310.3,354.9 311.0,364.5 311.7,377.8 312.4,344.9 313.1,364.4 313.8,359.7 314.5,358.8 315.2,374.7 315.9,366.7 316.6,363.0 317.3,359.6 318.0,369.7 318.6,350.4 319.3,369.2 320.0,358.4 320.7,375.9 321.4,380.5 322.1,373.3 322.8,363.3 323.5,367.5 324.2,357.7 324.9,372.2 325.6,350.2 326.3,359.9 327.0,364.2 327.7,349.3 328.4,381.0 329.0,370.3 329.7,365.2 330.4,357.6 331.1,366.0 331.8,350.8 332.5,375.3 333.2,346.9 333.9,308.5 334.6,335.4 335.3,369.4 336.0,357.7 336.7,364.0 337.4,360.0 338.1,352.1 338.8,376.6 339.4,367.6 340.1,362.6 340.8,382.1 341.5,389.1 342.2,360.4 342.9,362.1 343.6,367.1 344.3,381.5 345.0,350.6 345.7,341.8 346.4,334.8 347.1,361.9 347.8,373.6 348.5,385.1 349.2,378.5 349.8,382.8 350.5,375.9 351.2,368.4 351.9,374.6 352.6,348.2 353.3,361.9 354.0,383.3 354.7,371.2 355.4,372.7 356.1,358.7 356.8,334.4 357.5,354.0 358.2,360.6 358.9,363.7 359.6,382.0 360.2,377.6 360.9,360.7 361.6,375.7 362.3,376.7 363.0,367.0 363.7,343.0 364.4,380.7 365.1,362.8 365.8,371.1 366.5,339.1 367.2,359.6 367.9,381.4 368.6,383.2 369.3,386.8 370.0,384.8 370.6,347.8 371.3,375.2 372.0,365.2 372.7,375.8 373.4,346.8 374.1,363.8 374.8,380.4 375.5,356.3 376.2,347.6 376.9,355.0 377.6,366.0 378.3,358.4 379.0,327.7 379.7,338.5 380.4,367.6 381.0,348.6 381.7,361.0 382.4,363.7 383.1,370.6 383.8,378.4 384.5,379.4 385.2,358.1 385.9,345.4 386.6,355.5 387.3,361.5 388.0,348.1 388.7,382.4 389.4,365.2 390.1,353.3 390.8,372.5 391.4,341.1 392.1,360.1 392.8,377.8 393.5,385.1 394.2,365.3 394.9,380.9 395.6,377.3 396.3,379.6 397.0,350.6 397.7,369.8 398.4,371.2 399.1,350.6 399.8,364.9 400.5,353.0 401.2,323.6 401.8,346.3 402.5,362.5 403.2,353.1 403.9,363.0 404.6,369.1 405.3,345.3 406.0,367.1 406.7,360.5 407.4,358.7 408.1,353.7 408.8,340.8 409.5,376.1 410.2,356.8 410.9,378.0 411.6,370.2 412.2,366.0 412.9,384.8 413.6,369.7 414.3,384.7 415.0,372.8 415.7,368.8 416.4,362.5 417.1,347.1 417.8,355.3 418.5,378.8 419.2,382.5 419.9,343.8 420.6,345.9 421.3,361.0 422.0,371.9 422.6,366.0 423.3,385.4 424.0,367.4 424.7,368.2 425.4,378.8 426.1,372.8 426.8,371.4 427.5,389.7 428.2,350.7 428.9,355.1 429.6,360.3 430.3,366.2 431.0,366.5 431.7,371.9 432.4,371.1 433.0,365.1 433.7,341.1 434.4,359.7 435.1,386.4 435.8,374.2 436.5,375.9 437.2,376.4 437.9,390.4 438.6,371.2 439.3,359.0 440.0,374.1 440.7,376.3 441.4,368.1 442.1,385.8 442.8,366.4 443.4,380.0 444.1,369.3 444.8,349.7 445.5,370.9 446.2,374.8 446.9,382.9 447.6,361.6 448.3,381.8 449.0,384.7 449.7,383.5 450.4,379.8 451.1,350.1 451.8,374.2 452.5,385.8 453.2,387.1 453.8,383.3 454.5,375.7 455.2,363.9 455.9,369.6 456.6,391.0 457.3,370.2 458.0,365.8 458.7,351.1 459.4,390.9 460.1,363.6 460.8,391.0 461.5,379.5 462.2,376.6 462.9,336.6 463.6,387.8 464.2,388.8 464.9,359.6 465.6,385.2 466.3,394.6 467.0,364.3 467.7,374.3 468.4,384.6 469.1,347.9 469.8,357.8 470.5,367.9 471.2,376.2 471.9,381.5 472.6,370.7 473.3,372.2 474.0,382.4 474.6,389.5 475.3,379.2 476.0,382.0 476.7,388.9 477.4,368.7 478.1,348.1 478.8,378.4 479.5,374.8 480.2,390.5 480.9,387.1 481.6,357.6 482.3,391.0 483.0,378.3 483.7,353.3 484.4,378.1 485.0,389.7 485.7,365.2 486.4,369.7 487.1,372.1 487.8,362.2 488.5,384.2 489.2,386.8 489.9,366.2 490.6,348.0 491.3,365.8 492.0,356.5 492.7,355.1 493.4,346.3 494.1,379.1 494.8,366.0 495.4,392.0 496.1,365.1 496.8,365.7 497.5,375.7 498.2,352.0 498.9,379.9 499.6,376.0 500.3,354.0 501.0,388.0 501.7,371.8 502.4,376.5 503.1,377.3 503.8,385.9 504.5,358.7 505.2,368.7 505.8,374.4 506.5,388.1 507.2,366.9 507.9,378.8 508.6,382.3 509.3,393.2 510.0,386.0 510.7,364.7 511.4,341.5 512.1,385.2 512.8,374.6 513.5,345.8 514.2,354.4 514.9,383.4 515.6,373.7 516.2,365.7 516.9,380.6 517.6,388.8 518.3,372.5 519.0,368.5 519.7,343.7 520.4,364.6 521.1,346.3 521.8,343.1 522.5,368.9 523.2,355.7 523.9,341.9 524.6,377.6 525.3,383.6 526.0,377.3 526.6,357.0 527.3,348.2 528.0,380.2 528.7,387.3 529.4,379.8 530.1,362.8 530.8,380.2 531.5,350.2 532.2,383.8 532.9,381.5 533.6,371.5 534.3,372.3 535.0,335.8 535.7,335.7 536.4,348.5 537.0,365.5 537.7,380.9 538.4,363.5 539.1,362.0 539.8,370.7 540.5,366.5 541.2,354.5 541.9,344.3 542.6,371.6 543.3,352.0 544.0,364.4 544.7,377.7 545.4,377.9 546.1,371.9 546.8,349.9 547.4,361.6 548.1,340.1 548.8,363.9 549.5,355.5 550.2,350.1 550.9,345.1 551.6,349.1 552.3,319.5 553.0,343.3 553.7,368.4 554.4,350.3 555.1,363.5 555.8,373.2 556.5,374.5 557.2,365.2 557.8,350.9 558.5,368.8 559.2,357.5 559.9,355.9 560.6,354.6 561.3,378.7 562.0,351.8 562.7,333.7 563.4,332.3 564.1,344.3 564.8,379.7 565.5,367.6 566.2,342.8 566.9,366.7 567.6,367.2 568.2,362.4 568.9,353.5 569.6,319.5 570.3,340.1 571.0,370.2 571.7,344.9 572.4,353.9 573.1,369.1 573.8,371.2 574.5,381.1 575.2,352.5 575.9,373.8 576.6,351.6 577.3,365.8 578.0,372.0 578.6,366.5 579.3,364.5 580.0,344.0 580.7,357.6 581.4,351.4 582.1,338.7 582.8,356.7 583.5,358.9 584.2,381.9 584.9,383.6 585.6,355.0 586.3,363.2 587.0,367.3 587.7,370.4 588.4,371.9 589.0,369.2 589.7,374.3 590.4,372.3 591.1,358.4 591.8,367.9 592.5,373.4 593.2,374.9 593.9,369.8 594.6,379.4 595.3,370.6 596.0,370.3 596.7,362.2 597.4,378.4 598.1,379.3 598.8,351.0 599.4,315.4 600.1,340.3 600.8,368.7 601.5,362.8 602.2,376.8 602.9,357.2 603.6,373.7 604.3,356.3 605.0,372.3 605.7,334.2 606.4,364.5 607.1,373.5 607.8,380.9 608.5,360.6 609.2,376.6 609.8,374.8 610.5,374.3 611.2,353.5 611.9,319.5 612.6,343.3 613.3,384.0 614.0,375.2 614.7,384.2 615.4,374.9 616.1,366.7 616.8,357.2 617.5,369.2 618.2,373.4 618.9,372.3 619.6,364.6 620.2,346.8 620.9,363.6 621.6,369.1 622.3,363.5 623.0,371.0 623.7,368.0 624.4,372.8 625.1,349.5 625.8,367.7 626.5,377.4 627.2,349.2 627.9,362.7 628.6,380.6 629.3,382.7 630.0,361.7 630.6,330.1 631.3,378.6 632.0,333.8 632.7,286.6 633.4,319.6 634.1,345.6 634.8,363.1 635.5,379.9 636.2,377.7 636.9,382.1 637.6,375.4 638.3,378.4 639.0,383.9 639.7,364.2 640.4,378.8 641.0,363.3 641.7,381.0 642.4,369.6 643.1,354.3 643.8,368.3 644.5,373.0 645.2,369.6 645.9,362.1 646.6,341.9 647.3,374.1 648.0,370.5 648.7,371.4 649.4,370.1 650.1,381.9 650.8,351.9 651.4,316.8 652.1,341.3 652.8,336.3 653.5,352.0 654.2,366.8 654.9,373.2 655.6,371.0 656.3,337.8 657.0,330.4 657.7,356.5 658.4,382.1 659.1,387.4 659.8,379.7 660.5,359.1 661.2,363.0 661.8,372.9 662.5,382.6 663.2,355.9 663.9,366.0 664.6,375.5 665.3,347.8 666.0,372.7 666.7,353.0 667.4,339.3 668.1,376.7 668.8,382.8 669.5,366.0 670.2,374.5 670.9,360.0 671.6,365.6 672.2,342.1 672.9,361.8 673.6,365.9 674.3,384.3 675.0,390.5 675.7,336.1 676.4,346.4 677.1,346.6 677.8,379.2 678.5,374.7 679.2,359.8 679.9,354.9 680.6,377.1 681.3,375.8 682.0,354.7 682.6,358.5 683.3,381.6 684.0,350.2 684.7,370.6 685.4,379.3 686.1,358.9 686.8,379.1 687.5,371.1 688.2,374.8 688.9,349.6 689.6,373.3 690.3,372.8 691.0,382.2 691.7,379.7 692.4,374.8 693.0,363.3 693.7,358.6 694.4,366.2 695.1,370.5 695.8,379.8 696.5,368.4 697.2,367.5 697.9,340.0 698.6,373.1 699.3,347.0 700.0,358.4 700.7,369.3 701.4,365.2 702.1,370.3 702.8,387.1 703.4,389.6 704.1,384.4 704.8,373.7 705.5,370.3 706.2,379.3 706.9,358.8 707.6,367.0 708.3,384.1 709.0,344.9 709.7,369.7 710.4,354.0 711.1,355.1 711.8,378.4 712.5,341.1 713.2,372.8 713.8,380.9 714.5,365.9 715.2,353.5 715.9,374.2 716.6,370.4 717.3,378.2 718.0,355.1 718.7,375.8 719.4,371.1 720.1,373.5 720.8,361.5 721.5,371.6 722.2,378.5 722.9,363.6 723.6,368.0 724.2,384.9 724.9,367.7 725.6,375.9 726.3,383.2 727.0,387.2 727.7,388.7 728.4,356.5 729.1,354.5 729.8,375.6 730.5,379.4 731.2,355.6 731.9,370.9 732.6,376.0 733.3,376.4 734.0,364.2 734.6,352.7 735.3,376.2 736.0,372.9 736.7,373.6 737.4,356.4 738.1,374.6 738.8,373.4 739.5,380.0 740.2,383.7 740.9,384.2 741.6,382.7 742.3,375.3 743.0,387.3 743.7,373.9 744.4,349.7 745.0,370.9 745.7,357.3 746.4,370.2 747.1,347.3 747.8,344.9 748.5,344.9 749.2,363.2 749.9,372.8 750.6,388.8 751.3,386.1 752.0,361.6 752.7,376.8 753.4,346.7 754.1,379.9 754.8,353.4 755.4,365.7 756.1,350.9 756.8,374.0 757.5,352.2 758.2,335.1 758.9,366.0 759.6,375.9 760.3,380.0" fill="none" stroke="#2b2bff" stroke-width="1.209" stroke-linejoin="round"/>
<polyline points="94.7,404.5 95.4,390.8 96.1,373.0 96.8,375.7 97.5,388.9 98.2,374.0 98.9,364.5 99.6,371.6 100.2,371.2 100.9,360.4 101.6,378.3 102.3,384.0 103.0,382.5 103.7,368.0 104.4,380.4 105.1,371.0 105.8,381.7 106.5,376.6 107.2,374.6 107.9,357.1 108.6,354.3 109.3,374.5 110.0,369.0 110.6,382.8 111.3,362.7 112.0,374.7 112.7,361.6 113.4,379.5 114.1,372.7 114.8,378.8 115.5,381.9 116.2,390.3 116.9,377.6 117.6,366.1 118.3,365.7 119.0,378.3 119.7,364.8 120.4,361.7 121.0,376.3 121.7,381.3 122.4,362.4 123.1,361.9 123.8,364.2 124.5,359.2 125.2,376.8 125.9,373.0 126.6,373.9 127.3,380.0 128.0,378.1 128.7,370.4 129.4,380.1 130.1,381.7 130.8,370.8 131.4,379.0 132.1,376.9 132.8,359.4 133.5,365.4 134.2,376.3 134.9,383.2 135.6,376.0 136.3,363.7 137.0,378.8 137.7,378.7 138.4,376.5 139.1,380.5 139.8,373.6 140.5,366.9 141.2,360.6 141.8,369.1 142.5,365.0 143.2,370.7 143.9,377.5 144.6,370.2 145.3,376.6 146.0,380.8 146.7,368.4 147.4,386.1 148.1,384.5 148.8,386.7 149.5,381.7 150.2,365.2 150.9,374.5 151.6,381.4 152.2,370.5 152.9,382.0 153.6,383.7 154.3,372.3 155.0,368.5 155.7,381.5 156.4,369.8 157.1,387.3 157.8,377.4 158.5,374.1 159.2,387.0 159.9,392.6 160.6,390.4 161.3,391.3 162.0,373.0 162.6,383.9 163.3,384.3 164.0,383.0 164.7,379.7 165.4,386.8 166.1,387.7 166.8,377.3 167.5,379.8 168.2,376.6 168.9,385.1 169.6,375.8 170.3,388.6 171.0,373.2 171.7,378.2 172.4,368.8 173.0,383.1 173.7,375.9 174.4,378.9 175.1,379.1 175.8,383.9 176.5,367.8 177.2,370.1 177.9,373.3 178.6,379.7 179.3,391.2 180.0,377.0 180.7,386.9 181.4,372.2 182.1,369.0 182.8,379.4 183.4,386.2 184.1,385.1 184.8,391.6 185.5,376.4 186.2,385.7 186.9,371.6 187.6,374.0 188.3,374.4 189.0,360.5 189.7,376.1 190.4,378.6 191.1,370.5 191.8,370.3 192.5,370.9 193.2,384.8 193.8,374.0 194.5,373.9 195.2,353.7 195.9,366.8 196.6,369.9 197.3,377.3 198.0,382.1 198.7,372.9 199.4,387.6 200.1,380.2 200.8,357.1 201.5,381.4 202.2,359.6 202.9,364.9 203.6,379.8 204.2,380.1 204.9,375.7 205.6,371.1 206.3,384.5 207.0,348.1 207.7,375.1 208.4,374.3 209.1,360.4 209.8,338.0 210.5,360.0 211.2,363.2 211.9,367.4 212.6,358.4 213.3,376.5 214.0,384.8 214.6,351.2 215.3,346.3 216.0,364.4 216.7,375.5 217.4,375.3 218.1,356.6 218.8,362.7 219.5,354.9 220.2,346.4 220.9,373.0 221.6,366.0 222.3,339.5 223.0,350.0 223.7,357.7 224.4,350.2 225.0,314.0 225.7,339.4 226.4,350.7 227.1,324.8 227.8,380.3 228.5,382.1 229.2,349.0 229.9,366.4 230.6,374.7 231.3,379.5 232.0,371.6 232.7,361.4 233.4,377.3 234.1,383.4 234.8,374.5 235.4,369.7 236.1,357.8 236.8,360.5 237.5,351.7 238.2,381.7 238.9,357.0 239.6,350.9 240.3,374.2 241.0,352.3 241.7,370.3 242.4,371.8 243.1,362.5 243.8,374.6 244.5,365.1 245.2,372.6 245.8,344.1 246.5,340.3 247.2,297.6 247.9,327.5 248.6,362.6 249.3,377.7 250.0,386.0 250.7,383.8 251.4,341.6 252.1,359.8 252.8,374.4 253.5,376.4 254.2,380.5 254.9,362.8 255.6,358.2 256.2,377.5 256.9,374.1 257.6,378.7 258.3,367.4 259.0,344.2 259.7,342.7 260.4,373.7 261.1,335.9 261.8,319.5 262.5,343.3 263.2,365.4 263.9,345.4 264.6,352.3 265.3,369.4 266.0,362.5 266.6,364.1 267.3,365.1 268.0,360.0 268.7,343.1 269.4,367.6 270.1,382.5 270.8,359.7 271.5,344.0 272.2,374.4 272.9,358.5 273.6,379.5 274.3,349.1 275.0,372.9 275.7,376.8 276.4,357.9 277.0,376.8 277.7,353.3 278.4,353.1 279.1,379.6 279.8,387.3 280.5,356.7 281.2,339.9 281.9,348.2 282.6,360.7 283.3,351.7 284.0,341.9 284.7,371.8 285.4,368.5 286.1,383.4 286.8,356.8 287.4,361.6 288.1,345.8 288.8,340.4 289.5,375.2 290.2,371.8 290.9,353.0 291.6,344.5 292.3,341.3 293.0,360.2 293.7,373.0 294.4,384.3 295.1,369.2 295.8,377.2 296.5,371.0 297.2,348.8 297.8,349.3 298.5,364.2 299.2,363.3 299.9,342.8 300.6,357.6 301.3,358.2 302.0,372.4 302.7,375.3 303.4,340.1 304.1,333.3 304.8,360.1 305.5,374.1 306.2,366.5 306.9,359.3 307.6,369.7 308.2,373.0 308.9,358.6 309.6,339.8 310.3,354.9 311.0,364.5 311.7,377.8 312.4,344.9 313.1,364.4 313.8,359.7 314.5,358.8 315.2,374.7 315.9,366.7 316.6,363.0 317.3,359.6 318.0,369.7 318.6,350.4 319.3,369.2 320.0,358.4 320.7,375.9 321.4,380.5 322.1,373.3 322.8,363.3 323.5,367.5 324.2,357.7 324.9,372.2 325.6,350.2 326.3,359.9 327.0,364.2 327.7,349.3 328.4,381.0 329.0,370.3 329.7,365.2 330.4,357.6 331.1,366.0 331.8,350.8 332.5,375.3 333.2,346.9 333.9,308.5 334.6,335.4 335.3,369.4 336.0,357.7 336.7,364.0 337.4,360.0 338.1,352.1 338.8,376.6 339.4,367.6 340.1,362.6 340.8,382.1 341.5,389.1 342.2,360.4 342.9,362.1 343.6,367.1 344.3,381.5 345.0,350.6 345.7,341.8 346.4,334.8 347.1,361.9 347.8,373.6 348.5,385.1 349.2,378.5 349.8,382.8 350.5,375.9 351.2,368.4 351.9,374.6 352.6,348.2 353.3,361.9 354.0,383.3 354.7,371.2 355.4,372.7 356.1,358.7 356.8,334.4 357.5,354.0 358.2,360.6 358.9,363.7 359.6,382.0 360.2,377.6 360.9,360.7 361.6,375.7 362.3,376.7 363.0,367.0 363.7,343.0 364.4,380.7 365.1,362.8 365.8,371.1 366.5,339.1 367.2,359.6 367.9,381.4 368.6,383.2 369.3,386.8 370.0,384.8 370.6,347.8 371.3,375.2 372.0,365.2 372.7,375.8 373.4,346.8 374.1,363.8 374.8,380.4 375.5,356.3 376.2,347.6 376.9,355.0 377.6,366.0 378.3,358.4 379.0,327.7 379.7,338.5 380.4,367.6 381.0,348.6 381.7,361.0 382.4,363.7 383.1,370.6 383.8,378.4 384.5,379.4 385.2,358.1 385.9,345.4 386.6,355.5 387.3,361.5 388.0,348.1 388.7,382.4 389.4,365.2 390.1,353.3 390.8,372.5 391.4,341.1 392.1,360.1 392.8,377.8 393.5,385.1 394.2,365.3 394.9,380.9 395.6,377.3 396.3,379.6 397.0,350.6 397.7,369.8 398.4,371.2 399.1,350.6 399.8,364.9 400.5,353.0 401.2,323.6 401.8,346.3 402.5,362.5 403.2,353.1 403.9,363.0 404.6,369.1 405.3,345.3 406.0,367.1 406.7,360.5 407.4,358.7 408.1,353.7 408.8,340.8 409.5,376.1 410.2,356.8 410.9,378.0 411.6,370.2 412.2,366.0 412.9,384.8 413.6,369.7 414.3,384.7 415.0,372.8 415.7,368.8 416.4,362.5 417.1,347.1 417.8,355.3 418.5,378.8 419.2,382.5 419.9,343.8 420.6,345.9 421.3,361.0 422.0,371.9 422.6,366.0 423.3,385.4 424.0,367.4 424.7,368.2 425.4,378.8 426.1,372.8 426.8,371.4 427.5,389.7 428.2,350.7 428.9,355.1 429.6,360.3 430.3,366.2 431.0,366.5 431.7,371.9 432.4,371.1 433.0,365.1 433.7,341.1 434.4,359.7 435.1,386.4 435.8,374.2 436.5,375.9 437.2,376.4 437.9,390.4 438.6,371.2 439.3,359.0 440.0,374.1 440.7,376.3 441.4,368.1 442.1,385.8 442.8,366.4 443.4,380.0 444.1,369.3 444.8,349.7 445.5,370.9 446.2,374.8 446.9,382.9 447.6,361.6 448.3,381.8 449.0,384.7 449.7,383.5 450.4,379.8 451.1,350.1 451.8,374.2 452.5,385.8 453.2,387.1 453.8,383.3 454.5,375.7 455.2,363.9 455.9,369.6 456.6,391.0 457.3,370.2 458.0,365.8 458.7,351.1 459.4,390.9 460.1,363.6 460.8,391.0 461.5,379.5 462.2,376.6 462.9,336.6 463.6,387.8 464.2,388.8 464.9,359.6 465.6,385.2 466.3,394.6 467.0,364.3 467.7,374.3 468.4,384.6 469.1,347.9 469.8,357.8 470.5,367.9 471.2,376.2 471.9,381.5 472.6,370.7 473.3,372.2 474.0,382.4 474.6,389.5 475.3,379.2 476.0,382.0 476.7,388.9 477.4,368.7 478.1,348.1 478.8,378.4 479.5,374.8 480.2,390.5 480.9,387.1 481.6,357.6 482.3,391.0 483.0,378.3 483.7,353.3 484.4,378.1 485.0,389.7 485.7,365.2 486.4,369.7 487.1,372.1 487.8,362.2 488.5,384.2 489.2,386.8 489.9,366.2 490.6,348.0 491.3,365.8 492.0,356.5 492.7,355.1 493.4,346.3 494.1,379.1 494.8,366.0 495.4,392.0 496.1,365.1 496.8,365.7 497.5,375.7 498.2,352.0 498.9,379.9 499.6,376.0 500.3,354.0 501.0,388.0 501.7,371.8 502.4,376.5 503.1,377.3 503.8,385.9 504.5,358.7 505.2,368.7 505.8,374.4 506.5,388.1 507.2,366.9 507.9,378.8 508.6,382.3 509.3,393.2 510.0,386.0 510.7,364.7 511.4,341.5 512.1,385.2 512.8,374.6 513.5,345.8 514.2,354.4 514.9,383.4 515.6,373.7 516.2,365.7 516.9,380.6 517.6,388.8 518.3,372.5 519.0,368.5 519.7,343.7 520.4,364.6 521.1,346.3 521.8,343.1 522.5,368.9 523.2,355.7 523.9,341.9 524.6,377.6 525.3,383.6 526.0,377.3 526.6,357.0 527.3,348.2 528.0,380.2 528.7,387.3 529.4,379.8 530.1,362.8 530.8,380.2 531.5,350.2 532.2,383.8 532.9,381.5 533.6,371.5 534.3,372.3 535.0,335.8 535.7,335.7 536.4,348.5 537.0,365.5 537.7,380.9 538.4,363.5 539.1,362.0 539.8,370.7 540.5,366.5 541.2,354.5 541.9,344.3 542.6,371.6 543.3,352.0 544.0,364.4 544.7,377.7 545.4,377.9 546.1,371.9 546.8,349.9 547.4,361.6 548.1,340.1 548.8,363.9 549.5,355.5 550.2,350.1 550.9,345.1 551.6,349.1 552.3,319.5 553.0,343.3 553.7,368.4 554.4,350.3 555.1,363.5 555.8,373.2 556.5,374.5 557.2,365.2 557.8,350.9 558.5,368.8 559.2,357.5 559.9,355.9 560.6,354.6 561.3,378.7 562.0,351.8 562.7,333.7 563.4,332.3 564.1,344.3 564.8,379.7 565.5,367.6 566.2,342.8 566.9,366.7 567.6,367.2 568.2,362.4 568.9,353.5 569.6,319.5 570.3,340.1 571.0,370.2 571.7,344.9 572.4,353.9 573.1,369.1 573.8,371.2 574.5,381.1 575.2,352.5 575.9,373.8 576.6,351.6 577.3,365.8 578.0,372.0 578.6,366.5 579.3,364.5 580.0,344.0 580.7,357.6 581.4,351.4 582.1,338.7 582.8,356.7 583.5,358.9 584.2,381.9 584.9,383.6 585.6,355.0 586.3,363.2 587.0,367.3 587.7,370.4 588.4,371.9 589.0,369.2 589.7,374.3 590.4,372.3 591.1,358.4 591.8,367.9 592.5,373.4 593.2,374.9 593.9,369.8 594.6,379.4 595.3,370.6 596.0,370.3 596.7,362.2 597.4,378.4 598.1,379.3 598.8,351.0 599.4,315.4 600.1,340.3 600.8,368.7 601.5,362.8 602.2,376.8 602.9,357.2 603.6,373.7 604.3,356.3 605.0,372.3 605.7,334.2 606.4,364.5 607.1,373.5 607.8,380.9 608.5,360.6 609.2,376.6 609.8,374.8 610.5,374.3 611.2,353.5 611.9,319.5 612.6,343.3 613.3,384.0 614.0,375.2 614.7,384.2 615.4,374.9 616.1,366.7 616.8,357.2 617.5,369.2 618.2,373.4 618.9,372.3 619.6,364.6 620.2,346.8 620.9,363.6 621.6,369.1 622.3,363.5 623.0,371.0 623.7,368.0 624.4,372.8 625.1,349.5 625.8,367.7 626.5,377.4 627.2,349.2 627.9,362.7 628.6,380.6 629.3,382.7 630.0,361.7 630.6,330.1 631.3,378.6 632.0,333.8 632.7,286.6 633.4,319.6 634.1,345.6 634.8,363.1 635.5,379.9 636.2,377.7 636.9,382.1 637.6,375.4 638.3,378.4 639.0,383.9 639.7,364.2 640.4,378.8 641.0,363.3 641.7,381.0 642.4,369.6 643.1,354.3 643.8,368.3 644.5,373.0 645.2,369.6 645.9,362.1 646.6,341.9 647.3,374.1 648.0,370.5 648.7,371.4 649.4,370.1 650.1,381.9 650.8,351.9 651.4,316.8 652.1,341.3 652.8,336.3 653.5,352.0 654.2,366.8 654.9,373.2 655.6,371.0 656.3,337.8 657.0,330.4 657.7,356.5 658.4,382.1 659.1,387.4 659.8,379.7 660.5,359.1 661.2,363.0 661.8,372.9 662.5,382.6 663.2,355.9 663.9,366.0 664.6,375.5 665.3,347.8 666.0,372.7 666.7,353.0 667.4,339.3 668.1,376.7 668.8,382.8 669.5,366.0 670.2,374.5 670.9,360.0 671.6,365.6 672.2,342.1 672.9,361.8 673.6,365.9 674.3,384.3 675.0,390.5 675.7,336.1 676.4,346.4 677.1,346.6 677.8,379.2 678.5,374.7 679.2,359.8 679.9,354.9 680.6,377.1 681.3,375.8 682.0,354.7 682.6,358.5 683.3,381.6 684.0,350.2 684.7,370.6 685.4,379.3 686.1,358.9 686.8,379.1 687.5,371.1 688.2,374.8 688.9,349.6 689.6,373.3 690.3,372.8 691.0,382.2 691.7,379.7 692.4,374.8 693.0,363.3 693.7,358.6 694.4,366.2 695.1,370.5 695.8,379.8 696.5,368.4 697.2,367.5 697.9,340.0 698.6,373.1 699.3,347.0 700.0,358.4 700.7,369.3 701.4,365.2 702.1,370.3 702.8,387.1 703.4,389.6 704.1,384.4 704.8,373.7 705.5,370.3 706.2,379.3 706.9,358.8 707.6,367.0 708.3,384.1 709.0,344.9 709.7,369.7 710.4,354.0 711.1,355.1 711.8,378.4 712.5,341.1 713.2,372.8 713.8,380.9 714.5,365.9 715.2,353.5 715.9,374.2 716.6,370.4 717.3,378.2 718.0,355.1 718.7,375.8 719.4,371.1 720.1,373.5 720.8,361.5 721.5,371.6 722.2,378.5 722.9,363.6 723.6,368.0 724.2,384.9 724.9,367.7 725.6,375.9 726.3,383.2 727.0,387.2 727.7,388.7 728.4,356.5 729.1,354.5 729.8,375.6 730.5,379.4 731.2,355.6 731.9,370.9 732.6,376.0 733.3,376.4 734.0,364.2 734.6,352.7 735.3,376.2 736.0,372.9 736.7,373.6 737.4,356.4 738.1,374.6 738.8,373.4 739.5,380.0 740.2,383.7 740.9,384.2 741.6,382.7 742.3,375.3 743.0,387.3 743.7,373.9 744.4,349.7 745.0,370.9 745.7,357.3 746.4,370.2 747.1,347.3 747.8,344.9 748.5,344.9 749.2,363.2 749.9,372.8 750.6,388.8 751.3,386.1 752.0,361.6 752.7,376.8 753.4,346.7 754.1,379.9 754.8,353.4 755.4,365.7 756.1,350.9 756.8,374.0 757.5,352.2 758.2,335.1 758.9,366.0 759.6,375.9 760.3,380.0" fill="none" stroke="#ff00ff" stroke-width="1.3" stroke-linejoin="round"/>
<line x1="94.7" y1="366.1" x2="760.3" y2="366.1" stroke="#4a4aff" stroke-width="1.2" stroke-dasharray="8,5"/>
<line x1="94.7" y1="366.6" x2="760.3" y2="366.6" stroke="#ff00ff" stroke-width="1.0" stroke-dasharray="7,3,2,3" opacity="0.8"/>
<line x1="205.6" y1="242.0" x2="205.6" y2="404.5" stroke="#444" stroke-width="1.2" stroke-dasharray="9,5.5" stroke-dashoffset="6"/>
<path d="M94.7,240.0 V404.5 H760.3" fill="none" stroke="#6e6e6e" stroke-width="1.5"/>
<line x1="94.7" y1="404.5" x2="99.7" y2="404.5" stroke="#6e6e6e" stroke-width="1.3"/>
<text x="91.2" y="405.0" font-size="19.5" text-anchor="end" dominant-baseline="central">0</text>
<line x1="94.7" y1="377.1" x2="99.7" y2="377.1" stroke="#6e6e6e" stroke-width="1.3"/>
<text x="91.2" y="377.6" font-size="19.5" text-anchor="end" dominant-baseline="central">10</text>
<line x1="94.7" y1="349.7" x2="99.7" y2="349.7" stroke="#6e6e6e" stroke-width="1.3"/>
<text x="91.2" y="350.2" font-size="19.5" text-anchor="end" dominant-baseline="central">20</text>
<line x1="94.7" y1="322.2" x2="99.7" y2="322.2" stroke="#6e6e6e" stroke-width="1.3"/>
<text x="91.2" y="322.8" font-size="19.5" text-anchor="end" dominant-baseline="central">30</text>
<line x1="94.7" y1="294.8" x2="99.7" y2="294.8" stroke="#6e6e6e" stroke-width="1.3"/>
<text x="91.2" y="295.3" font-size="19.5" text-anchor="end" dominant-baseline="central">40</text>
<line x1="94.7" y1="267.4" x2="99.7" y2="267.4" stroke="#6e6e6e" stroke-width="1.3"/>
<text x="91.2" y="267.9" font-size="19.5" text-anchor="end" dominant-baseline="central">50</text>
<line x1="94.7" y1="240.0" x2="99.7" y2="240.0" stroke="#6e6e6e" stroke-width="1.3"/>
<text x="91.2" y="240.5" font-size="19.5" text-anchor="end" dominant-baseline="central">60</text>
<text x="96.7" y="429.5" font-size="19.5" text-anchor="middle">0</text>
<line x1="164.0" y1="404.5" x2="164.0" y2="399.5" stroke="#6e6e6e" stroke-width="1.3"/>
<text x="164.0" y="429.5" font-size="19.5" text-anchor="middle">100</text>
<line x1="233.4" y1="404.5" x2="233.4" y2="399.5" stroke="#6e6e6e" stroke-width="1.3"/>
<text x="233.4" y="429.5" font-size="19.5" text-anchor="middle">200</text>
<line x1="302.7" y1="404.5" x2="302.7" y2="399.5" stroke="#6e6e6e" stroke-width="1.3"/>
<text x="302.7" y="429.5" font-size="19.5" text-anchor="middle">300</text>
<line x1="372.0" y1="404.5" x2="372.0" y2="399.5" stroke="#6e6e6e" stroke-width="1.3"/>
<text x="372.0" y="429.5" font-size="19.5" text-anchor="middle">400</text>
<line x1="441.4" y1="404.5" x2="441.4" y2="399.5" stroke="#6e6e6e" stroke-width="1.3"/>
<text x="441.4" y="429.5" font-size="19.5" text-anchor="middle">500</text>
<line x1="510.7" y1="404.5" x2="510.7" y2="399.5" stroke="#6e6e6e" stroke-width="1.3"/>
<text x="510.7" y="429.5" font-size="19.5" text-anchor="middle">600</text>
<line x1="580.0" y1="404.5" x2="580.0" y2="399.5" stroke="#6e6e6e" stroke-width="1.3"/>
<text x="580.0" y="429.5" font-size="19.5" text-anchor="middle">700</text>
<line x1="649.4" y1="404.5" x2="649.4" y2="399.5" stroke="#6e6e6e" stroke-width="1.3"/>
<text x="649.4" y="429.5" font-size="19.5" text-anchor="middle">800</text>
<line x1="718.7" y1="404.5" x2="718.7" y2="399.5" stroke="#6e6e6e" stroke-width="1.3"/>
<text x="718.7" y="429.5" font-size="19.5" text-anchor="middle">900</text>
<text x="759.3" y="429.5" font-size="19.5" text-anchor="middle">960</text>
<text x="427.5" y="452.8" font-size="20.5" text-anchor="middle" stroke="#111" stroke-width="0.3">Sample</text>
<text transform="translate(46.6,322.2) rotate(-90)" font-size="20.5" text-anchor="middle">SPE</text>
<rect x="102.1" y="246.3" width="98.6" height="97.3" fill="#fff" stroke="#6a6a6a" stroke-width="1.6"/>
<line x1="106.0" y1="259.9" x2="144.2" y2="259.9" stroke="#5a5ae0" stroke-width="1.4"/>
<line x1="106.0" y1="282.9" x2="144.2" y2="282.9" stroke="#ff40f0" stroke-width="1.4"/>
<line x1="106.0" y1="306.4" x2="144.2" y2="306.4" stroke="#5a5ae0" stroke-width="1.5" stroke-dasharray="11.1,7.1"/>
<line x1="106.0" y1="329.5" x2="144.2" y2="329.5" stroke="#ff50f0" stroke-width="1.4" stroke-dasharray="9,5,2,5"/>
<text x="148.2" y="263.5" font-size="17.0" font-style="italic">SPE</text>
<line x1="148.9" y1="268.0" x2="178.7" y2="268.0" stroke="#3a3a3a" stroke-width="1.4"/>
<line x1="148.9" y1="275.9" x2="178.7" y2="275.9" stroke="#3a3a3a" stroke-width="1.4"/>
<text x="148.2" y="290.7" font-size="17.0" font-style="italic">SPE</text>
<text x="147.1" y="310.6" font-size="17.0" font-style="italic">SPE</text>
<text x="177.2" y="315.3" font-size="10.8" font-style="italic">UCL</text>
<line x1="146.3" y1="314.5" x2="177.6" y2="314.5" stroke="#3a3a3a" stroke-width="1.4"/>
<line x1="145.7" y1="320.8" x2="176.1" y2="320.8" stroke="#3a3a3a" stroke-width="1.4"/>
<text x="146.1" y="335.7" font-size="17.0" font-style="italic">SPE</text>
<text x="175.6" y="340.4" font-size="10.8" font-style="italic">UCL</text>
<text x="258.6" y="265.8" font-size="19.4" stroke="#111" stroke-width="0.55">Fault start</text>
<line x1="253.1" y1="260.2" x2="215.2" y2="293.6" stroke="#222" stroke-width="1.3"/>
<polygon points="205.8,301.9 211.7,289.7 218.6,297.5" fill="#000"/>
<polyline points="871.3,180.0 872.0,161.5 872.7,145.0 873.4,124.0 874.1,122.7 874.8,141.1 875.5,148.4 876.2,150.2 876.8,145.6 877.5,127.9 878.2,135.7 878.9,124.2 879.6,135.3 880.3,133.8 881.0,111.9 881.7,128.6 882.4,133.0 883.1,135.3 883.8,141.5 884.5,148.7 885.2,135.6 885.9,119.5 886.6,139.2 887.3,145.7 887.9,141.5 888.6,142.4 889.3,132.5 890.0,141.4 890.7,114.4 891.4,112.2 892.1,121.9 892.8,129.3 893.5,115.7 894.2,127.1 894.9,127.5 895.6,135.3 896.3,139.6 897.0,149.7 897.7,123.8 898.3,137.0 899.0,133.6 899.7,117.4 900.4,121.3 901.1,127.5 901.8,129.7 902.5,132.6 903.2,118.7 903.9,131.8 904.6,140.6 905.3,143.0 906.0,117.1 906.7,123.4 907.4,132.8 908.1,132.4 908.8,147.5 909.4,136.6 910.1,133.7 910.8,126.8 911.5,124.1 912.2,134.8 912.9,140.2 913.6,146.0 914.3,122.7 915.0,130.3 915.7,131.6 916.4,150.1 917.1,141.6 917.8,119.6 918.5,132.3 919.2,149.4 919.8,137.7 920.5,126.3 921.2,147.2 921.9,135.0 922.6,127.1 923.3,136.5 924.0,135.9 924.7,144.7 925.4,152.0 926.1,124.9 926.8,140.2 927.5,121.8 928.2,140.1 928.9,128.9 929.6,134.7 930.3,123.5 930.9,110.9 931.6,133.5 932.3,129.9 933.0,107.3 933.7,130.2 934.4,146.4 935.1,135.6 935.8,124.6 936.5,126.9 937.2,140.9 937.9,126.5 938.6,124.8 939.3,133.4 940.0,135.5 940.7,124.7 941.3,136.6 942.0,132.8 942.7,134.7 943.4,134.5 944.1,123.0 944.8,139.2 945.5,141.5 946.2,119.4 946.9,148.4 947.6,146.6 948.3,143.6 949.0,147.0 949.7,120.8 950.4,144.9 951.1,142.0 951.8,145.6 952.4,129.2 953.1,126.8 953.8,142.0 954.5,138.0 955.2,127.5 955.9,136.8 956.6,147.3 957.3,124.2 958.0,122.0 958.7,131.1 959.4,133.1 960.1,139.7 960.8,149.0 961.5,112.7 962.2,138.9 962.8,125.1 963.5,140.4 964.2,118.8 964.9,144.2 965.6,122.0 966.3,139.7 967.0,141.0 967.7,116.3 968.4,115.0 969.1,129.4 969.8,124.3 970.5,132.8 971.2,142.0 971.9,116.8 972.6,133.7 973.3,144.3 973.9,136.0 974.6,111.9 975.3,130.5 976.0,135.7 976.7,116.7 977.4,102.0 978.1,112.5 978.8,132.4 979.5,133.0 980.2,128.6 980.9,125.7 981.6,123.9 982.3,125.8 983.0,126.4 983.7,94.5 984.3,99.5 985.0,108.5 985.7,91.3 986.4,84.8 987.1,92.5 987.8,87.6 988.5,118.5 989.2,101.6 989.9,49.3 990.6,85.9 991.3,110.6 992.0,116.7 992.7,119.4 993.4,94.6 994.1,126.6 994.8,99.7 995.4,102.6 996.1,94.2 996.8,94.9 997.5,85.9 998.2,105.8 998.9,66.3 999.6,115.6 1000.3,106.9 1001.0,110.4 1001.7,91.6 1002.4,110.7 1003.1,118.8 1003.8,91.8 1004.5,107.9 1005.2,104.8 1005.8,107.6 1006.5,118.4 1007.2,135.0 1007.9,104.3 1008.6,100.5 1009.3,98.1 1010.0,118.0 1010.7,116.3 1011.4,95.9 1012.1,127.1 1012.8,131.8 1013.5,96.0 1014.2,127.2 1014.9,143.9 1015.6,120.2 1016.3,140.0 1016.9,118.2 1017.6,108.6 1018.3,116.3 1019.0,93.8 1019.7,122.9 1020.4,77.8 1021.1,99.1 1021.8,120.2 1022.5,79.8 1023.2,98.7 1023.9,76.1 1024.6,129.7 1025.3,120.4 1026.0,145.6 1026.7,104.8 1027.3,130.4 1028.0,136.9 1028.7,137.6 1029.4,147.7 1030.1,100.8 1030.8,131.2 1031.5,102.9 1032.2,123.7 1032.9,111.0 1033.6,107.6 1034.3,98.3 1035.0,81.6 1035.7,45.2 1036.4,82.9 1037.1,123.5 1037.8,114.1 1038.4,132.9 1039.1,111.3 1039.8,93.2 1040.5,64.7 1041.2,110.3 1041.9,134.9 1042.6,130.0 1043.3,97.2 1044.0,82.5 1044.7,124.2 1045.4,71.5 1046.1,107.0 1046.8,126.5 1047.5,100.2 1048.2,104.1 1048.8,120.8 1049.5,143.2 1050.2,97.5 1050.9,131.7 1051.6,107.7 1052.3,93.9 1053.0,130.0 1053.7,119.9 1054.4,110.1 1055.1,115.5 1055.8,93.6 1056.5,125.8 1057.2,92.3 1057.9,131.9 1058.6,77.1 1059.2,89.0 1059.9,51.5 1060.6,87.5 1061.3,124.3 1062.0,111.1 1062.7,84.8 1063.4,140.2 1064.1,88.0 1064.8,78.0 1065.5,97.7 1066.2,112.6 1066.9,138.7 1067.6,91.0 1068.3,98.0 1069.0,107.7 1069.7,91.5 1070.3,133.3 1071.0,128.3 1071.7,113.9 1072.4,101.1 1073.1,118.9 1073.8,134.5 1074.5,103.5 1075.2,108.2 1075.9,133.6 1076.6,106.9 1077.3,113.7 1078.0,115.9 1078.7,139.9 1079.4,141.7 1080.1,88.9 1080.7,103.8 1081.4,139.1 1082.1,104.6 1082.8,114.1 1083.5,106.7 1084.2,124.4 1084.9,115.7 1085.6,116.1 1086.3,126.6 1087.0,137.7 1087.7,87.2 1088.4,126.6 1089.1,127.6 1089.8,124.6 1090.5,90.0 1091.2,84.1 1091.8,46.2 1092.5,83.7 1093.2,135.2 1093.9,121.6 1094.6,104.7 1095.3,107.5 1096.0,95.7 1096.7,126.6 1097.4,123.8 1098.1,92.1 1098.8,83.5 1099.5,90.4 1100.2,87.9 1100.9,113.1 1101.6,140.0 1102.2,140.4 1102.9,119.9 1103.6,107.4 1104.3,119.8 1105.0,98.9 1105.7,125.1 1106.4,73.8 1107.1,129.6 1107.8,101.6 1108.5,49.3 1109.2,85.9 1109.9,98.6 1110.6,109.7 1111.3,126.8 1112.0,119.1 1112.7,120.3 1113.3,107.4 1114.0,128.4 1114.7,116.9 1115.4,111.0 1116.1,109.0 1116.8,110.9 1117.5,136.2 1118.2,114.0 1118.9,139.4 1119.6,144.0 1120.3,132.4 1121.0,108.0 1121.7,97.8 1122.4,112.0 1123.1,124.2 1123.7,118.1 1124.4,133.2 1125.1,72.8 1125.8,126.4 1126.5,138.9 1127.2,106.5 1127.9,139.4 1128.6,118.1 1129.3,71.1 1130.0,120.5 1130.7,131.5 1131.4,119.2 1132.1,131.2 1132.8,114.1 1133.5,129.0 1134.2,81.6 1134.8,125.7 1135.5,142.9 1136.2,125.9 1136.9,133.2 1137.6,95.6 1138.3,140.1 1139.0,143.6 1139.7,128.1 1140.4,86.9 1141.1,124.2 1141.8,142.8 1142.5,100.5 1143.2,133.1 1143.9,94.9 1144.6,109.8 1145.2,107.0 1145.9,105.8 1146.6,113.4 1147.3,135.8 1148.0,112.1 1148.7,90.1 1149.4,73.6 1150.1,128.4 1150.8,136.7 1151.5,108.4 1152.2,121.1 1152.9,106.8 1153.6,70.1 1154.3,133.0 1155.0,70.2 1155.7,96.0 1156.3,117.4 1157.0,79.9 1157.7,109.2 1158.4,100.2 1159.1,123.8 1159.8,121.6 1160.5,122.4 1161.2,136.1 1161.9,87.2 1162.6,109.1 1163.3,132.4 1164.0,108.0 1164.7,127.6 1165.4,115.2 1166.1,92.4 1166.7,92.8 1167.4,130.9 1168.1,120.7 1168.8,101.4 1169.5,101.0 1170.2,111.8 1170.9,136.0 1171.6,113.5 1172.3,117.6 1173.0,135.4 1173.7,108.7 1174.4,113.5 1175.1,144.1 1175.8,105.8 1176.5,95.0 1177.2,109.6 1177.8,62.7 1178.5,95.5 1179.2,112.9 1179.9,126.6 1180.6,117.5 1181.3,123.3 1182.0,137.5 1182.7,102.1 1183.4,123.2 1184.1,114.0 1184.8,134.7 1185.5,130.3 1186.2,124.4 1186.9,96.6 1187.6,119.4 1188.2,124.2 1188.9,117.8 1189.6,130.6 1190.3,125.7 1191.0,125.3 1191.7,121.7 1192.4,133.7 1193.1,114.3 1193.8,148.3 1194.5,131.4 1195.2,90.4 1195.9,121.5 1196.6,147.9 1197.3,109.6 1198.0,62.7 1198.7,95.5 1199.3,120.8 1200.0,138.4 1200.7,136.6 1201.4,132.6 1202.1,130.8 1202.8,121.6 1203.5,85.7 1204.2,139.9 1204.9,139.1 1205.6,121.4 1206.3,104.4 1207.0,95.4 1207.7,93.1 1208.4,119.5 1209.1,124.1 1209.7,136.4 1210.4,122.6 1211.1,92.6 1211.8,110.4 1212.5,134.8 1213.2,139.6 1213.9,118.9 1214.6,132.8 1215.3,131.8 1216.0,125.5 1216.7,117.3 1217.4,116.4 1218.1,75.4 1218.8,136.3 1219.5,133.6 1220.2,92.4 1220.8,106.8 1221.5,121.1 1222.2,119.4 1222.9,116.9 1223.6,111.6 1224.3,135.0 1225.0,114.8 1225.7,137.9 1226.4,105.4 1227.1,66.5 1227.8,114.3 1228.5,130.3 1229.2,119.8 1229.9,105.8 1230.6,93.0 1231.2,108.0 1231.9,80.1 1232.6,115.9 1233.3,75.7 1234.0,114.7 1234.7,125.1 1235.4,137.0 1236.1,105.9 1236.8,56.5 1237.5,91.1 1238.2,118.9 1238.9,96.6 1239.6,112.9 1240.3,105.7 1241.0,89.5 1241.7,125.0 1242.3,119.2 1243.0,101.3 1243.7,75.0 1244.4,102.2 1245.1,89.6 1245.8,110.6 1246.5,136.3 1247.2,106.8 1247.9,131.5 1248.6,116.1 1249.3,92.5 1250.0,130.1 1250.7,131.2 1251.4,142.4 1252.1,111.3 1252.7,96.8 1253.4,93.0 1254.1,125.2 1254.8,135.7 1255.5,114.9 1256.2,116.8 1256.9,125.4 1257.6,97.1 1258.3,113.3 1259.0,107.7 1259.7,94.5 1260.4,121.2 1261.1,135.1 1261.8,129.7 1262.5,125.4 1263.2,129.7 1263.8,106.9 1264.5,123.9 1265.2,140.1 1265.9,122.8 1266.6,104.5 1267.3,120.3 1268.0,89.9 1268.7,137.6 1269.4,74.3 1270.1,127.8 1270.8,110.3 1271.5,134.1 1272.2,123.8 1272.9,136.6 1273.6,116.4 1274.2,114.9 1274.9,118.9 1275.6,98.7 1276.3,102.0 1277.0,126.8 1277.7,105.5 1278.4,127.0 1279.1,107.7 1279.8,87.4 1280.5,124.5 1281.2,127.7 1281.9,79.4 1282.6,102.8 1283.3,90.5 1284.0,116.1 1284.7,107.1 1285.3,58.5 1286.0,92.5 1286.7,124.8 1287.4,124.0 1288.1,117.5 1288.8,119.9 1289.5,134.4 1290.2,110.9 1290.9,107.6 1291.6,117.1 1292.3,95.0 1293.0,86.7 1293.7,121.9 1294.4,85.8 1295.1,131.7 1295.7,96.0 1296.4,106.7 1297.1,71.1 1297.8,119.4 1298.5,118.2 1299.2,118.2 1299.9,127.0 1300.6,98.2 1301.3,114.8 1302.0,75.6 1302.7,82.6 1303.4,92.7 1304.1,113.2 1304.8,104.4 1305.5,95.2 1306.2,102.5 1306.8,128.8 1307.5,77.2 1308.2,95.3 1308.9,121.3 1309.6,117.0 1310.3,120.0 1311.0,105.8 1311.7,110.3 1312.4,135.4 1313.1,96.5 1313.8,118.5 1314.5,120.9 1315.2,82.9 1315.9,117.3 1316.6,114.8 1317.2,96.5 1317.9,40.8 1318.6,79.8 1319.3,121.7 1320.0,77.0 1320.7,118.9 1321.4,132.4 1322.1,112.5 1322.8,116.0 1323.5,102.5 1324.2,123.1 1324.9,117.3 1325.6,121.4 1326.3,98.0 1327.0,113.2 1327.7,104.4 1328.3,108.4 1329.0,83.2 1329.7,98.9 1330.4,76.0 1331.1,119.3 1331.8,114.2 1332.5,99.5 1333.2,115.2 1333.9,123.8 1334.6,114.0 1335.3,131.4 1336.0,97.2 1336.7,42.1 1337.4,80.7 1338.1,92.1 1338.7,123.8 1339.4,121.1 1340.1,93.5 1340.8,82.5 1341.5,72.7 1342.2,65.1 1342.9,83.6 1343.6,105.7 1344.3,124.8 1345.0,107.6 1345.7,86.7 1346.4,94.3 1347.1,128.7 1347.8,82.0 1348.5,104.0 1349.2,126.2 1349.8,122.4 1350.5,85.8 1351.2,119.6 1351.9,127.2 1352.6,60.2 1353.3,49.3 1354.0,76.6 1354.7,117.3 1355.4,125.1 1356.1,93.0 1356.8,65.7 1357.5,102.7 1358.2,93.6 1358.9,116.0 1359.6,110.6 1360.2,113.6 1360.9,102.3 1361.6,114.9 1362.3,84.2 1363.0,50.3 1363.7,86.6 1364.4,118.3 1365.1,108.5 1365.8,97.3 1366.5,110.8 1367.2,87.3 1367.9,102.4 1368.6,110.8 1369.3,129.3 1370.0,113.0 1370.6,116.6 1371.3,122.5 1372.0,129.3 1372.7,89.4 1373.4,103.9 1374.1,100.8 1374.8,130.0 1375.5,116.1 1376.2,122.4 1376.9,96.9 1377.6,111.3 1378.3,80.9 1379.0,81.2 1379.7,77.7 1380.4,92.8 1381.1,60.8 1381.7,98.1 1382.4,70.3 1383.1,91.5 1383.8,100.6 1384.5,97.7 1385.2,131.0 1385.9,109.9 1386.6,91.1 1387.3,112.6 1388.0,102.6 1388.7,116.4 1389.4,138.3 1390.1,120.1 1390.8,139.4 1391.5,96.5 1392.1,111.3 1392.8,85.6 1393.5,66.9 1394.2,102.6 1394.9,116.1 1395.6,96.6 1396.3,105.2 1397.0,92.7 1397.7,105.4 1398.4,90.8 1399.1,105.4 1399.8,55.7 1400.5,90.5 1401.2,132.1 1401.9,118.8 1402.6,94.6 1403.2,113.7 1403.9,124.3 1404.6,130.3 1405.3,100.2 1406.0,125.5 1406.7,64.6 1407.4,114.1 1408.1,126.5 1408.8,112.9 1409.5,139.6 1410.2,88.9 1410.9,101.4 1411.6,89.5 1412.3,87.2 1413.0,107.7 1413.6,97.8 1414.3,126.4 1415.0,143.9 1415.7,98.5 1416.4,112.3 1417.1,115.4 1417.8,100.0 1418.5,110.0 1419.2,119.8 1419.9,129.9 1420.6,134.6 1421.3,111.6 1422.0,112.1 1422.7,81.3 1423.4,114.4 1424.1,120.7 1424.7,130.9 1425.4,112.2 1426.1,143.8 1426.8,112.6 1427.5,97.4 1428.2,104.8 1428.9,90.5 1429.6,83.8 1430.3,131.7 1431.0,105.5 1431.7,70.4 1432.4,105.3 1433.1,119.3 1433.8,125.5 1434.5,131.0 1435.1,107.1 1435.8,125.2 1436.5,115.5 1437.2,96.4 1437.9,106.0 1438.6,87.6 1439.3,106.3 1440.0,101.7 1440.7,133.0 1441.4,89.6 1442.1,95.2 1442.8,110.7 1443.5,98.6 1444.2,116.0 1444.9,138.3 1445.6,126.1 1446.2,87.7 1446.9,93.4 1447.6,123.4 1448.3,112.7 1449.0,104.2 1449.7,94.8 1450.4,110.8 1451.1,97.2 1451.8,86.3 1452.5,116.8 1453.2,110.3 1453.9,125.3 1454.6,135.1 1455.3,128.4 1456.0,136.8 1456.6,133.4 1457.3,133.5 1458.0,123.2 1458.7,126.8 1459.4,134.9 1460.1,117.3 1460.8,121.7 1461.5,85.8 1462.2,125.1 1462.9,128.4 1463.6,108.3 1464.3,123.6 1465.0,138.6 1465.7,79.6 1466.4,126.6 1467.1,128.3 1467.7,109.8 1468.4,80.4 1469.1,111.6 1469.8,106.1 1470.5,130.8 1471.2,120.2 1471.9,77.3 1472.6,119.9 1473.3,136.0 1474.0,111.9 1474.7,111.6 1475.4,122.4 1476.1,115.4 1476.8,106.7 1477.5,80.9 1478.1,114.7 1478.8,117.3 1479.5,131.0 1480.2,139.0 1480.9,133.2 1481.6,103.5 1482.3,115.6 1483.0,127.1 1483.7,124.9 1484.4,125.6 1485.1,85.4 1485.8,102.1 1486.5,112.0 1487.2,132.4 1487.9,128.8 1488.6,127.6 1489.2,127.8 1489.9,74.4 1490.6,120.0 1491.3,128.7 1492.0,95.2 1492.7,113.4 1493.4,64.0 1494.1,76.3 1494.8,90.6 1495.5,110.9 1496.2,123.4 1496.9,138.1 1497.6,85.3 1498.3,116.7 1499.0,96.5 1499.6,40.8 1500.3,79.8 1501.0,98.0 1501.7,93.0 1502.4,124.6 1503.1,110.6 1503.8,102.4 1504.5,111.4 1505.2,107.1 1505.9,121.6 1506.6,96.3 1507.3,105.4 1508.0,103.6 1508.7,72.9 1509.4,115.0 1510.1,94.2 1510.7,105.0 1511.4,99.5 1512.1,86.7 1512.8,117.5 1513.5,99.4 1514.2,128.8 1514.9,118.8 1515.6,134.2 1516.3,120.6 1517.0,138.5 1517.7,128.2 1518.4,97.6 1519.1,105.7 1519.8,97.0 1520.5,95.8 1521.1,72.9 1521.8,105.2 1522.5,118.6 1523.2,113.3 1523.9,106.6 1524.6,126.0 1525.3,135.3 1526.0,120.2 1526.7,88.8 1527.4,120.0 1528.1,91.8 1528.8,68.8 1529.5,100.0 1530.2,125.9 1530.9,71.9 1531.6,117.8 1532.2,102.4 1532.9,127.4 1533.6,125.4 1534.3,98.7 1535.0,122.4 1535.7,87.4 1536.4,130.6 1537.1,99.7" fill="none" stroke="#2b2bff" stroke-width="1.209" stroke-linejoin="round"/>
<polyline points="871.3,180.0 872.0,161.5 872.7,145.0 873.4,124.0 874.1,122.7 874.8,141.1 875.5,148.4 876.2,150.2 876.8,145.6 877.5,127.9 878.2,135.7 878.9,124.2 879.6,135.3 880.3,133.8 881.0,111.9 881.7,128.6 882.4,133.0 883.1,135.3 883.8,141.5 884.5,148.7 885.2,135.6 885.9,119.5 886.6,139.2 887.3,145.7 887.9,141.5 888.6,142.4 889.3,132.5 890.0,141.4 890.7,114.4 891.4,112.2 892.1,121.9 892.8,129.3 893.5,115.7 894.2,127.1 894.9,127.5 895.6,135.3 896.3,139.6 897.0,149.7 897.7,123.8 898.3,137.0 899.0,133.6 899.7,117.4 900.4,121.3 901.1,127.5 901.8,129.7 902.5,132.6 903.2,118.7 903.9,131.8 904.6,140.6 905.3,143.0 906.0,117.1 906.7,123.4 907.4,132.8 908.1,132.4 908.8,147.5 909.4,136.6 910.1,133.7 910.8,126.8 911.5,124.1 912.2,134.8 912.9,140.2 913.6,146.0 914.3,122.7 915.0,130.3 915.7,131.6 916.4,150.1 917.1,141.6 917.8,119.6 918.5,132.3 919.2,149.4 919.8,137.7 920.5,126.3 921.2,147.2 921.9,135.0 922.6,127.1 923.3,136.5 924.0,135.9 924.7,144.7 925.4,152.0 926.1,124.9 926.8,140.2 927.5,121.8 928.2,140.1 928.9,128.9 929.6,134.7 930.3,123.5 930.9,110.9 931.6,133.5 932.3,129.9 933.0,107.3 933.7,130.2 934.4,146.4 935.1,135.6 935.8,124.6 936.5,126.9 937.2,140.9 937.9,126.5 938.6,124.8 939.3,133.4 940.0,135.5 940.7,124.7 941.3,136.6 942.0,132.8 942.7,134.7 943.4,134.5 944.1,123.0 944.8,139.2 945.5,141.5 946.2,119.4 946.9,148.4 947.6,146.6 948.3,143.6 949.0,147.0 949.7,120.8 950.4,144.9 951.1,142.0 951.8,145.6 952.4,129.2 953.1,126.8 953.8,142.0 954.5,138.0 955.2,127.5 955.9,136.8 956.6,147.3 957.3,124.2 958.0,122.0 958.7,131.1 959.4,133.1 960.1,139.7 960.8,149.0 961.5,112.7 962.2,138.9 962.8,125.1 963.5,140.4 964.2,118.8 964.9,144.2 965.6,122.0 966.3,139.7 967.0,141.0 967.7,116.3 968.4,115.0 969.1,129.4 969.8,124.3 970.5,132.8 971.2,142.0 971.9,116.8 972.6,133.7 973.3,144.3 973.9,136.0 974.6,111.9 975.3,130.5 976.0,135.7 976.7,116.7 977.4,102.0 978.1,112.5 978.8,132.4 979.5,133.0 980.2,128.6 980.9,125.7 981.6,123.9 982.3,125.8 983.0,126.4 983.7,94.5 984.3,99.5 985.0,108.5 985.7,91.3 986.4,84.8 987.1,92.5 987.8,87.6 988.5,118.5 989.2,101.6 989.9,49.3 990.6,85.9 991.3,110.6 992.0,116.7 992.7,119.4 993.4,94.6 994.1,126.6 994.8,99.7 995.4,102.6 996.1,94.2 996.8,94.9 997.5,85.9 998.2,105.8 998.9,66.3 999.6,115.6 1000.3,106.9 1001.0,110.4 1001.7,91.6 1002.4,110.7 1003.1,118.8 1003.8,91.8 1004.5,107.9 1005.2,104.8 1005.8,107.6 1006.5,118.4 1007.2,135.0 1007.9,104.3 1008.6,100.5 1009.3,98.1 1010.0,118.0 1010.7,116.3 1011.4,95.9 1012.1,127.1 1012.8,131.8 1013.5,96.0 1014.2,127.2 1014.9,143.9 1015.6,120.2 1016.3,140.0 1016.9,118.2 1017.6,108.6 1018.3,116.3 1019.0,93.8 1019.7,122.9 1020.4,77.8 1021.1,99.1 1021.8,120.2 1022.5,79.8 1023.2,98.7 1023.9,76.1 1024.6,129.7 1025.3,120.4 1026.0,145.6 1026.7,104.8 1027.3,130.4 1028.0,136.9 1028.7,137.6 1029.4,147.7 1030.1,100.8 1030.8,131.2 1031.5,102.9 1032.2,123.7 1032.9,111.0 1033.6,107.6 1034.3,98.3 1035.0,81.6 1035.7,45.2 1036.4,82.9 1037.1,123.5 1037.8,114.1 1038.4,132.9 1039.1,111.3 1039.8,93.2 1040.5,64.7 1041.2,110.3 1041.9,134.9 1042.6,130.0 1043.3,97.2 1044.0,82.5 1044.7,124.2 1045.4,71.5 1046.1,107.0 1046.8,126.5 1047.5,100.2 1048.2,104.1 1048.8,120.8 1049.5,143.2 1050.2,97.5 1050.9,131.7 1051.6,107.7 1052.3,93.9 1053.0,130.0 1053.7,119.9 1054.4,110.1 1055.1,115.5 1055.8,93.6 1056.5,125.8 1057.2,92.3 1057.9,131.9 1058.6,77.1 1059.2,89.0 1059.9,51.5 1060.6,87.5 1061.3,124.3 1062.0,111.1 1062.7,84.8 1063.4,140.2 1064.1,88.0 1064.8,78.0 1065.5,97.7 1066.2,112.6 1066.9,138.7 1067.6,91.0 1068.3,98.0 1069.0,107.7 1069.7,91.5 1070.3,133.3 1071.0,128.3 1071.7,113.9 1072.4,101.1 1073.1,118.9 1073.8,134.5 1074.5,103.5 1075.2,108.2 1075.9,133.6 1076.6,106.9 1077.3,113.7 1078.0,115.9 1078.7,139.9 1079.4,141.7 1080.1,88.9 1080.7,103.8 1081.4,139.1 1082.1,104.6 1082.8,114.1 1083.5,106.7 1084.2,124.4 1084.9,115.7 1085.6,116.1 1086.3,126.6 1087.0,137.7 1087.7,87.2 1088.4,126.6 1089.1,127.6 1089.8,124.6 1090.5,90.0 1091.2,84.1 1091.8,46.2 1092.5,83.7 1093.2,135.2 1093.9,121.6 1094.6,104.7 1095.3,107.5 1096.0,95.7 1096.7,126.6 1097.4,123.8 1098.1,92.1 1098.8,83.5 1099.5,90.4 1100.2,87.9 1100.9,113.1 1101.6,140.0 1102.2,140.4 1102.9,119.9 1103.6,107.4 1104.3,119.8 1105.0,98.9 1105.7,125.1 1106.4,73.8 1107.1,129.6 1107.8,101.6 1108.5,49.3 1109.2,85.9 1109.9,98.6 1110.6,109.7 1111.3,126.8 1112.0,119.1 1112.7,120.3 1113.3,107.4 1114.0,128.4 1114.7,116.9 1115.4,111.0 1116.1,109.0 1116.8,110.9 1117.5,136.2 1118.2,114.0 1118.9,139.4 1119.6,144.0 1120.3,132.4 1121.0,108.0 1121.7,97.8 1122.4,112.0 1123.1,124.2 1123.7,118.1 1124.4,133.2 1125.1,72.8 1125.8,126.4 1126.5,138.9 1127.2,106.5 1127.9,139.4 1128.6,118.1 1129.3,71.1 1130.0,120.5 1130.7,131.5 1131.4,119.2 1132.1,131.2 1132.8,114.1 1133.5,129.0 1134.2,81.6 1134.8,125.7 1135.5,142.9 1136.2,125.9 1136.9,133.2 1137.6,95.6 1138.3,140.1 1139.0,143.6 1139.7,128.1 1140.4,86.9 1141.1,124.2 1141.8,142.8 1142.5,100.5 1143.2,133.1 1143.9,94.9 1144.6,109.8 1145.2,107.0 1145.9,105.8 1146.6,113.4 1147.3,135.8 1148.0,112.1 1148.7,90.1 1149.4,73.6 1150.1,128.4 1150.8,136.7 1151.5,108.4 1152.2,121.1 1152.9,106.8 1153.6,70.1 1154.3,133.0 1155.0,70.2 1155.7,96.0 1156.3,117.4 1157.0,79.9 1157.7,109.2 1158.4,100.2 1159.1,123.8 1159.8,121.6 1160.5,122.4 1161.2,136.1 1161.9,87.2 1162.6,109.1 1163.3,132.4 1164.0,108.0 1164.7,127.6 1165.4,115.2 1166.1,92.4 1166.7,92.8 1167.4,130.9 1168.1,120.7 1168.8,101.4 1169.5,101.0 1170.2,111.8 1170.9,136.0 1171.6,113.5 1172.3,117.6 1173.0,135.4 1173.7,108.7 1174.4,113.5 1175.1,144.1 1175.8,105.8 1176.5,95.0 1177.2,109.6 1177.8,62.7 1178.5,95.5 1179.2,112.9 1179.9,126.6 1180.6,117.5 1181.3,123.3 1182.0,137.5 1182.7,102.1 1183.4,123.2 1184.1,114.0 1184.8,134.7 1185.5,130.3 1186.2,124.4 1186.9,96.6 1187.6,119.4 1188.2,124.2 1188.9,117.8 1189.6,130.6 1190.3,125.7 1191.0,125.3 1191.7,121.7 1192.4,133.7 1193.1,114.3 1193.8,148.3 1194.5,131.4 1195.2,90.4 1195.9,121.5 1196.6,147.9 1197.3,109.6 1198.0,62.7 1198.7,95.5 1199.3,120.8 1200.0,138.4 1200.7,136.6 1201.4,132.6 1202.1,130.8 1202.8,121.6 1203.5,85.7 1204.2,139.9 1204.9,139.1 1205.6,121.4 1206.3,104.4 1207.0,95.4 1207.7,93.1 1208.4,119.5 1209.1,124.1 1209.7,136.4 1210.4,122.6 1211.1,92.6 1211.8,110.4 1212.5,134.8 1213.2,139.6 1213.9,118.9 1214.6,132.8 1215.3,131.8 1216.0,125.5 1216.7,117.3 1217.4,116.4 1218.1,75.4 1218.8,136.3 1219.5,133.6 1220.2,92.4 1220.8,106.8 1221.5,121.1 1222.2,119.4 1222.9,116.9 1223.6,111.6 1224.3,135.0 1225.0,114.8 1225.7,137.9 1226.4,105.4 1227.1,66.5 1227.8,114.3 1228.5,130.3 1229.2,119.8 1229.9,105.8 1230.6,93.0 1231.2,108.0 1231.9,80.1 1232.6,115.9 1233.3,75.7 1234.0,114.7 1234.7,125.1 1235.4,137.0 1236.1,105.9 1236.8,56.5 1237.5,91.1 1238.2,118.9 1238.9,96.6 1239.6,112.9 1240.3,105.7 1241.0,89.5 1241.7,125.0 1242.3,119.2 1243.0,101.3 1243.7,75.0 1244.4,102.2 1245.1,89.6 1245.8,110.6 1246.5,136.3 1247.2,106.8 1247.9,131.5 1248.6,116.1 1249.3,92.5 1250.0,130.1 1250.7,131.2 1251.4,142.4 1252.1,111.3 1252.7,96.8 1253.4,93.0 1254.1,125.2 1254.8,135.7 1255.5,114.9 1256.2,116.8 1256.9,125.4 1257.6,97.1 1258.3,113.3 1259.0,107.7 1259.7,94.5 1260.4,121.2 1261.1,135.1 1261.8,129.7 1262.5,125.4 1263.2,129.7 1263.8,106.9 1264.5,123.9 1265.2,140.1 1265.9,122.8 1266.6,104.5 1267.3,120.3 1268.0,89.9 1268.7,137.6 1269.4,74.3 1270.1,127.8 1270.8,110.3 1271.5,134.1 1272.2,123.8 1272.9,136.6 1273.6,116.4 1274.2,114.9 1274.9,118.9 1275.6,98.7 1276.3,102.0 1277.0,126.8 1277.7,105.5 1278.4,127.0 1279.1,107.7 1279.8,87.4 1280.5,124.5 1281.2,127.7 1281.9,79.4 1282.6,102.8 1283.3,90.5 1284.0,116.1 1284.7,107.1 1285.3,58.5 1286.0,92.5 1286.7,124.8 1287.4,124.0 1288.1,117.5 1288.8,119.9 1289.5,134.4 1290.2,110.9 1290.9,107.6 1291.6,117.1 1292.3,95.0 1293.0,86.7 1293.7,121.9 1294.4,85.8 1295.1,131.7 1295.7,96.0 1296.4,106.7 1297.1,71.1 1297.8,119.4 1298.5,118.2 1299.2,118.2 1299.9,127.0 1300.6,98.2 1301.3,114.8 1302.0,75.6 1302.7,82.6 1303.4,92.7 1304.1,113.2 1304.8,104.4 1305.5,95.2 1306.2,102.5 1306.8,128.8 1307.5,77.2 1308.2,95.3 1308.9,121.3 1309.6,117.0 1310.3,120.0 1311.0,105.8 1311.7,110.3 1312.4,135.4 1313.1,96.5 1313.8,118.5 1314.5,120.9 1315.2,82.9 1315.9,117.3 1316.6,114.8 1317.2,96.5 1317.9,40.8 1318.6,79.8 1319.3,121.7 1320.0,77.0 1320.7,118.9 1321.4,132.4 1322.1,112.5 1322.8,116.0 1323.5,102.5 1324.2,123.1 1324.9,117.3 1325.6,121.4 1326.3,98.0 1327.0,113.2 1327.7,104.4 1328.3,108.4 1329.0,83.2 1329.7,98.9 1330.4,76.0 1331.1,119.3 1331.8,114.2 1332.5,99.5 1333.2,115.2 1333.9,123.8 1334.6,114.0 1335.3,131.4 1336.0,97.2 1336.7,42.1 1337.4,80.7 1338.1,92.1 1338.7,123.8 1339.4,121.1 1340.1,93.5 1340.8,82.5 1341.5,72.7 1342.2,65.1 1342.9,83.6 1343.6,105.7 1344.3,124.8 1345.0,107.6 1345.7,86.7 1346.4,94.3 1347.1,128.7 1347.8,82.0 1348.5,104.0 1349.2,126.2 1349.8,122.4 1350.5,85.8 1351.2,119.6 1351.9,127.2 1352.6,60.2 1353.3,49.3 1354.0,76.6 1354.7,117.3 1355.4,125.1 1356.1,93.0 1356.8,65.7 1357.5,102.7 1358.2,93.6 1358.9,116.0 1359.6,110.6 1360.2,113.6 1360.9,102.3 1361.6,114.9 1362.3,84.2 1363.0,50.3 1363.7,86.6 1364.4,118.3 1365.1,108.5 1365.8,97.3 1366.5,110.8 1367.2,87.3 1367.9,102.4 1368.6,110.8 1369.3,129.3 1370.0,113.0 1370.6,116.6 1371.3,122.5 1372.0,129.3 1372.7,89.4 1373.4,103.9 1374.1,100.8 1374.8,130.0 1375.5,116.1 1376.2,122.4 1376.9,96.9 1377.6,111.3 1378.3,80.9 1379.0,81.2 1379.7,77.7 1380.4,92.8 1381.1,60.8 1381.7,98.1 1382.4,70.3 1383.1,91.5 1383.8,100.6 1384.5,97.7 1385.2,131.0 1385.9,109.9 1386.6,91.1 1387.3,112.6 1388.0,102.6 1388.7,116.4 1389.4,138.3 1390.1,120.1 1390.8,139.4 1391.5,96.5 1392.1,111.3 1392.8,85.6 1393.5,66.9 1394.2,102.6 1394.9,116.1 1395.6,96.6 1396.3,105.2 1397.0,92.7 1397.7,105.4 1398.4,90.8 1399.1,105.4 1399.8,55.7 1400.5,90.5 1401.2,132.1 1401.9,118.8 1402.6,94.6 1403.2,113.7 1403.9,124.3 1404.6,130.3 1405.3,100.2 1406.0,125.5 1406.7,64.6 1407.4,114.1 1408.1,126.5 1408.8,112.9 1409.5,139.6 1410.2,88.9 1410.9,101.4 1411.6,89.5 1412.3,87.2 1413.0,107.7 1413.6,97.8 1414.3,126.4 1415.0,143.9 1415.7,98.5 1416.4,112.3 1417.1,115.4 1417.8,100.0 1418.5,110.0 1419.2,119.8 1419.9,129.9 1420.6,134.6 1421.3,111.6 1422.0,112.1 1422.7,81.3 1423.4,114.4 1424.1,120.7 1424.7,130.9 1425.4,112.2 1426.1,143.8 1426.8,112.6 1427.5,97.4 1428.2,104.8 1428.9,90.5 1429.6,83.8 1430.3,131.7 1431.0,105.5 1431.7,70.4 1432.4,105.3 1433.1,119.3 1433.8,125.5 1434.5,131.0 1435.1,107.1 1435.8,125.2 1436.5,115.5 1437.2,96.4 1437.9,106.0 1438.6,87.6 1439.3,106.3 1440.0,101.7 1440.7,133.0 1441.4,89.6 1442.1,95.2 1442.8,110.7 1443.5,98.6 1444.2,116.0 1444.9,138.3 1445.6,126.1 1446.2,87.7 1446.9,93.4 1447.6,123.4 1448.3,112.7 1449.0,104.2 1449.7,94.8 1450.4,110.8 1451.1,97.2 1451.8,86.3 1452.5,116.8 1453.2,110.3 1453.9,125.3 1454.6,135.1 1455.3,128.4 1456.0,136.8 1456.6,133.4 1457.3,133.5 1458.0,123.2 1458.7,126.8 1459.4,134.9 1460.1,117.3 1460.8,121.7 1461.5,85.8 1462.2,125.1 1462.9,128.4 1463.6,108.3 1464.3,123.6 1465.0,138.6 1465.7,79.6 1466.4,126.6 1467.1,128.3 1467.7,109.8 1468.4,80.4 1469.1,111.6 1469.8,106.1 1470.5,130.8 1471.2,120.2 1471.9,77.3 1472.6,119.9 1473.3,136.0 1474.0,111.9 1474.7,111.6 1475.4,122.4 1476.1,115.4 1476.8,106.7 1477.5,80.9 1478.1,114.7 1478.8,117.3 1479.5,131.0 1480.2,139.0 1480.9,133.2 1481.6,103.5 1482.3,115.6 1483.0,127.1 1483.7,124.9 1484.4,125.6 1485.1,85.4 1485.8,102.1 1486.5,112.0 1487.2,132.4 1487.9,128.8 1488.6,127.6 1489.2,127.8 1489.9,74.4 1490.6,120.0 1491.3,128.7 1492.0,95.2 1492.7,113.4 1493.4,64.0 1494.1,76.3 1494.8,90.6 1495.5,110.9 1496.2,123.4 1496.9,138.1 1497.6,85.3 1498.3,116.7 1499.0,96.5 1499.6,40.8 1500.3,79.8 1501.0,98.0 1501.7,93.0 1502.4,124.6 1503.1,110.6 1503.8,102.4 1504.5,111.4 1505.2,107.1 1505.9,121.6 1506.6,96.3 1507.3,105.4 1508.0,103.6 1508.7,72.9 1509.4,115.0 1510.1,94.2 1510.7,105.0 1511.4,99.5 1512.1,86.7 1512.8,117.5 1513.5,99.4 1514.2,128.8 1514.9,118.8 1515.6,134.2 1516.3,120.6 1517.0,138.5 1517.7,128.2 1518.4,97.6 1519.1,105.7 1519.8,97.0 1520.5,95.8 1521.1,72.9 1521.8,105.2 1522.5,118.6 1523.2,113.3 1523.9,106.6 1524.6,126.0 1525.3,135.3 1526.0,120.2 1526.7,88.8 1527.4,120.0 1528.1,91.8 1528.8,68.8 1529.5,100.0 1530.2,125.9 1530.9,71.9 1531.6,117.8 1532.2,102.4 1532.9,127.4 1533.6,125.4 1534.3,98.7 1535.0,122.4 1535.7,87.4 1536.4,130.6 1537.1,99.7" fill="none" stroke="#ff00ff" stroke-width="1.3" stroke-linejoin="round"/>
<line x1="871.3" y1="84.9" x2="1537.1" y2="84.9" stroke="#4a4aff" stroke-width="1.2" stroke-dasharray="8,5"/>
<line x1="871.3" y1="85.4" x2="1537.1" y2="85.4" stroke="#ff00ff" stroke-width="1.0" stroke-dasharray="7,3,2,3" opacity="0.8"/>
<line x1="982.3" y1="19.7" x2="982.3" y2="180.0" stroke="#444" stroke-width="1.2" stroke-dasharray="9,5.5" stroke-dashoffset="6"/>
<path d="M871.3,15.3 V180.0 H1537.1" fill="none" stroke="#6e6e6e" stroke-width="1.5"/>
<line x1="871.3" y1="180.0" x2="876.3" y2="180.0" stroke="#6e6e6e" stroke-width="1.3"/>
<text x="867.8" y="180.5" font-size="19.5" text-anchor="end" dominant-baseline="central">0</text>
<line x1="871.3" y1="138.8" x2="876.3" y2="138.8" stroke="#6e6e6e" stroke-width="1.3"/>
<text x="867.8" y="139.3" font-size="19.5" text-anchor="end" dominant-baseline="central">20</text>
<line x1="871.3" y1="97.7" x2="876.3" y2="97.7" stroke="#6e6e6e" stroke-width="1.3"/>
<text x="867.8" y="98.2" font-size="19.5" text-anchor="end" dominant-baseline="central">40</text>
<line x1="871.3" y1="56.5" x2="876.3" y2="56.5" stroke="#6e6e6e" stroke-width="1.3"/>
<text x="867.8" y="57.0" font-size="19.5" text-anchor="end" dominant-baseline="central">60</text>
<line x1="871.3" y1="15.3" x2="876.3" y2="15.3" stroke="#6e6e6e" stroke-width="1.3"/>
<text x="867.8" y="15.8" font-size="19.5" text-anchor="end" dominant-baseline="central">80</text>
<text x="873.3" y="203.5" font-size="19.5" text-anchor="middle">0</text>
<line x1="940.7" y1="180.0" x2="940.7" y2="175.0" stroke="#6e6e6e" stroke-width="1.3"/>
<text x="940.7" y="203.5" font-size="19.5" text-anchor="middle">100</text>
<line x1="1010.0" y1="180.0" x2="1010.0" y2="175.0" stroke="#6e6e6e" stroke-width="1.3"/>
<text x="1010.0" y="203.5" font-size="19.5" text-anchor="middle">200</text>
<line x1="1079.4" y1="180.0" x2="1079.4" y2="175.0" stroke="#6e6e6e" stroke-width="1.3"/>
<text x="1079.4" y="203.5" font-size="19.5" text-anchor="middle">300</text>
<line x1="1148.7" y1="180.0" x2="1148.7" y2="175.0" stroke="#6e6e6e" stroke-width="1.3"/>
<text x="1148.7" y="203.5" font-size="19.5" text-anchor="middle">400</text>
<line x1="1218.1" y1="180.0" x2="1218.1" y2="175.0" stroke="#6e6e6e" stroke-width="1.3"/>
<text x="1218.1" y="203.5" font-size="19.5" text-anchor="middle">500</text>
<line x1="1287.4" y1="180.0" x2="1287.4" y2="175.0" stroke="#6e6e6e" stroke-width="1.3"/>
<text x="1287.4" y="203.5" font-size="19.5" text-anchor="middle">600</text>
<line x1="1356.8" y1="180.0" x2="1356.8" y2="175.0" stroke="#6e6e6e" stroke-width="1.3"/>
<text x="1356.8" y="203.5" font-size="19.5" text-anchor="middle">700</text>
<line x1="1426.1" y1="180.0" x2="1426.1" y2="175.0" stroke="#6e6e6e" stroke-width="1.3"/>
<text x="1426.1" y="203.5" font-size="19.5" text-anchor="middle">800</text>
<line x1="1495.5" y1="180.0" x2="1495.5" y2="175.0" stroke="#6e6e6e" stroke-width="1.3"/>
<text x="1495.5" y="203.5" font-size="19.5" text-anchor="middle">900</text>
<text x="1536.1" y="203.5" font-size="19.5" text-anchor="middle">960</text>
<text x="1204.2" y="228.0" font-size="20.5" text-anchor="middle" stroke="#111" stroke-width="0.3">Sample</text>
<text transform="translate(823.4,99.7) rotate(-90)" font-size="17" text-anchor="middle">T<tspan font-size="10.5" dy="-6.8">2</tspan></text>
<rect x="879.3" y="22.5" width="97.6" height="97.1" fill="#fff" stroke="#6a6a6a" stroke-width="1.6"/>
<line x1="883.8" y1="36.7" x2="933.0" y2="36.7" stroke="#5a5ae0" stroke-width="1.4"/>
<line x1="883.8" y1="59.5" x2="933.0" y2="59.5" stroke="#ff40f0" stroke-width="1.4"/>
<line x1="883.8" y1="83.5" x2="933.0" y2="83.5" stroke="#5a5ae0" stroke-width="1.5" stroke-dasharray="11.0,7.0"/>
<line x1="883.8" y1="105.8" x2="933.0" y2="105.8" stroke="#ff50f0" stroke-width="1.4" stroke-dasharray="9,5,2,5"/>
<text x="939.2" y="40.6" font-size="17.6" font-style="italic">T</text>
<text x="952.4" y="34.4" font-size="11.5">2</text>
<line x1="940.8" y1="44.1" x2="950.3" y2="44.1" stroke="#3a3a3a" stroke-width="1.4"/>
<line x1="942.1" y1="51.8" x2="951.8" y2="51.8" stroke="#3a3a3a" stroke-width="1.4"/>
<text x="940.6" y="66.8" font-size="17.6" font-style="italic">T</text>
<text x="953.4" y="54.8" font-size="11.5">2</text>
<text x="938.0" y="85.6" font-size="17.6" font-style="italic">T</text>
<text x="950.4" y="78.8" font-size="11.5">2</text>
<text x="949.4" y="88.8" font-size="10.8" font-style="italic">UCL</text>
<line x1="938.8" y1="88.2" x2="948.7" y2="88.2" stroke="#3a3a3a" stroke-width="1.4"/>
<line x1="937.8" y1="98.2" x2="947.7" y2="98.2" stroke="#3a3a3a" stroke-width="1.4"/>
<text x="949.4" y="100.3" font-size="11.5">2</text>
<text x="936.7" y="112.3" font-size="17.6" font-style="italic">T</text>
<text x="948.3" y="116.0" font-size="10.8" font-style="italic">UCL</text>
<text x="1034.6" y="38.9" font-size="19.4" stroke="#111" stroke-width="0.55">Fault start</text>
<line x1="1028.5" y1="33.3" x2="992.3" y2="67.0" stroke="#222" stroke-width="1.3"/>
<polygon points="983.1,75.5 988.7,63.2 995.8,70.8" fill="#000"/>
<polyline points="871.5,396.3 872.2,392.8 872.9,372.0 873.6,378.4 874.3,391.0 875.0,376.5 875.7,364.1 876.4,369.6 877.0,370.9 877.7,360.0 878.4,376.3 879.1,380.7 879.8,391.4 880.5,370.4 881.2,380.8 881.9,369.0 882.6,388.6 883.3,377.3 884.0,369.7 884.7,355.9 885.4,352.5 886.1,370.7 886.8,365.9 887.4,384.6 888.1,360.9 888.8,376.4 889.5,358.8 890.2,376.5 890.9,368.6 891.6,376.8 892.3,389.8 893.0,390.3 893.7,379.6 894.4,362.6 895.1,360.9 895.8,376.5 896.5,365.2 897.2,358.9 897.8,372.8 898.5,376.9 899.2,357.7 899.9,361.4 900.6,362.3 901.3,357.8 902.0,372.0 902.7,376.9 903.4,378.1 904.1,375.6 904.8,373.7 905.5,367.1 906.2,379.8 906.9,377.8 907.6,370.0 908.2,380.4 908.9,374.0 909.6,361.8 910.3,363.2 911.0,376.2 911.7,382.2 912.4,369.2 913.1,367.0 913.8,376.9 914.5,374.0 915.2,372.8 915.9,378.5 916.6,375.6 917.3,361.3 918.0,360.6 918.6,361.5 919.3,363.8 920.0,366.3 920.7,373.7 921.4,370.7 922.1,376.0 922.8,376.3 923.5,368.6 924.2,382.8 924.9,384.7 925.6,384.1 926.3,380.4 927.0,363.1 927.7,369.2 928.4,383.5 929.0,372.5 929.7,387.4 930.4,373.0 931.1,372.8 931.8,363.6 932.5,381.8 933.2,370.3 933.9,389.4 934.6,369.8 935.3,375.8 936.0,389.8 936.7,390.9 937.4,388.0 938.1,389.7 938.8,375.3 939.4,383.0 940.1,380.8 940.8,384.7 941.5,373.7 942.2,388.0 942.9,385.6 943.6,375.8 944.3,380.0 945.0,372.3 945.7,389.1 946.4,375.1 947.1,392.0 947.8,370.7 948.5,383.4 949.2,365.5 949.8,384.5 950.5,372.0 951.2,379.4 951.9,373.1 952.6,384.0 953.3,367.7 954.0,371.0 954.7,373.8 955.4,383.7 956.1,390.3 956.8,382.0 957.5,386.8 958.2,373.0 958.9,369.1 959.6,381.5 960.2,386.7 960.9,385.0 961.6,390.7 962.3,370.9 963.0,386.3 963.7,368.3 964.4,370.2 965.1,370.9 965.8,359.9 966.5,368.7 967.2,382.6 967.9,371.4 968.6,368.2 969.3,372.1 970.0,383.8 970.6,370.9 971.3,373.2 972.0,353.3 972.7,364.1 973.4,370.0 974.1,378.3 974.8,387.1 975.5,369.9 976.2,381.6 976.9,382.8 977.6,357.8 978.3,376.5 979.0,362.3 979.7,367.0 980.4,377.5 981.0,379.3 981.7,372.8 982.4,372.9 983.1,380.3 983.8,345.5 984.5,368.9 985.2,369.1 985.9,358.4 986.6,328.7 987.3,356.9 988.0,363.0 988.7,365.6 989.4,359.0 990.1,374.9 990.8,386.3 991.4,342.9 992.1,344.8 992.8,356.9 993.5,370.5 994.2,378.2 994.9,352.9 995.6,359.9 996.3,352.6 997.0,342.1 997.7,363.7 998.4,363.2 999.1,337.8 999.8,348.3 1000.5,355.4 1001.2,339.6 1001.8,310.2 1002.5,330.7 1003.2,350.9 1003.9,319.5 1004.6,379.6 1005.3,381.6 1006.0,343.4 1006.7,361.9 1007.4,372.7 1008.1,381.8 1008.8,368.2 1009.5,357.9 1010.2,372.8 1010.9,384.6 1011.6,367.8 1012.2,365.8 1012.9,357.9 1013.6,354.1 1014.3,330.0 1015.0,350.9 1015.7,353.9 1016.4,345.4 1017.1,364.1 1017.8,348.6 1018.5,365.6 1019.2,367.5 1019.9,359.8 1020.6,377.1 1021.3,361.6 1022.0,376.5 1022.6,333.8 1023.3,293.4 1024.0,320.1 1024.7,348.4 1025.4,361.4 1026.1,373.5 1026.8,380.6 1027.5,385.6 1028.2,343.1 1028.9,358.1 1029.6,371.0 1030.3,377.4 1031.0,378.6 1031.7,358.5 1032.4,351.9 1033.0,371.4 1033.7,370.3 1034.4,379.3 1035.1,365.2 1035.8,344.3 1036.5,335.2 1037.2,343.5 1037.9,318.5 1038.6,337.7 1039.3,354.9 1040.0,352.2 1040.7,333.5 1041.4,349.1 1042.1,363.1 1042.8,356.3 1043.4,366.4 1044.1,361.2 1044.8,357.0 1045.5,332.3 1046.2,365.1 1046.9,378.9 1047.6,350.9 1048.3,335.4 1049.0,375.9 1049.7,354.5 1050.4,376.1 1051.1,342.5 1051.8,371.0 1052.5,371.2 1053.2,356.3 1053.8,375.8 1054.5,344.0 1055.2,349.5 1055.9,382.0 1056.6,381.1 1057.3,356.8 1058.0,336.6 1058.7,342.4 1059.4,354.2 1060.1,344.6 1060.8,333.1 1061.5,366.3 1062.2,363.4 1062.9,381.3 1063.6,353.6 1064.2,359.6 1064.9,333.2 1065.6,331.8 1066.3,371.7 1067.0,365.0 1067.7,346.6 1068.4,337.2 1069.1,334.9 1069.8,354.3 1070.5,369.5 1071.2,386.7 1071.9,365.2 1072.6,372.7 1073.3,367.8 1074.0,344.6 1074.6,343.7 1075.3,360.8 1076.0,363.3 1076.7,337.6 1077.4,355.9 1078.1,358.2 1078.8,368.2 1079.5,371.8 1080.2,331.6 1080.9,327.9 1081.6,354.6 1082.3,370.9 1083.0,361.2 1083.7,357.9 1084.4,363.5 1085.0,372.4 1085.7,361.1 1086.4,334.3 1087.1,355.4 1087.8,357.7 1088.5,379.5 1089.2,339.5 1089.9,366.3 1090.6,354.5 1091.3,349.9 1092.0,322.5 1092.7,340.7 1093.4,359.9 1094.1,359.4 1094.8,367.5 1095.4,348.3 1096.1,364.1 1096.8,352.6 1097.5,367.8 1098.2,381.0 1098.9,370.9 1099.6,361.7 1100.3,366.8 1101.0,354.7 1101.7,367.5 1102.4,343.3 1103.1,352.5 1103.8,361.7 1104.5,345.0 1105.2,380.3 1105.8,378.6 1106.5,361.7 1107.2,353.4 1107.9,364.4 1108.6,345.6 1109.3,369.2 1110.0,351.8 1110.7,328.5 1111.4,282.1 1112.1,315.4 1112.8,354.2 1113.5,361.3 1114.2,351.2 1114.9,347.9 1115.6,375.0 1116.2,367.9 1116.9,353.6 1117.6,378.6 1118.3,387.7 1119.0,359.3 1119.7,359.5 1120.4,358.4 1121.1,382.3 1121.8,349.2 1122.5,331.8 1123.2,332.0 1123.9,355.9 1124.6,364.6 1125.3,387.5 1126.0,379.5 1126.6,376.6 1127.3,369.0 1128.0,358.5 1128.7,371.1 1129.4,342.6 1130.1,361.9 1130.8,382.2 1131.5,368.4 1132.2,368.9 1132.9,357.5 1133.6,329.0 1134.3,346.3 1135.0,351.5 1135.7,358.1 1136.4,377.2 1137.0,370.2 1137.7,363.3 1138.4,366.8 1139.1,374.3 1139.8,369.2 1140.5,336.5 1141.2,376.2 1141.9,361.0 1142.6,364.1 1143.3,330.3 1144.0,347.9 1144.7,379.5 1145.4,381.2 1146.1,386.7 1146.8,386.5 1147.4,341.5 1148.1,365.5 1148.8,363.7 1149.5,375.9 1150.2,341.2 1150.9,362.4 1151.6,376.6 1152.3,352.8 1153.0,321.9 1153.7,345.6 1154.4,362.4 1155.1,374.6 1155.8,351.2 1156.5,326.5 1157.2,363.1 1157.8,339.0 1158.5,354.1 1159.2,358.1 1159.9,370.4 1160.6,378.9 1161.3,374.5 1162.0,352.2 1162.7,333.4 1163.4,361.8 1164.1,359.7 1164.8,351.8 1165.5,373.9 1166.2,364.1 1166.9,353.8 1167.6,367.6 1168.2,333.2 1168.9,360.4 1169.6,377.9 1170.3,384.1 1171.0,356.9 1171.7,381.5 1172.4,375.2 1173.1,374.2 1173.8,345.5 1174.5,368.1 1175.2,368.0 1175.9,341.6 1176.6,361.5 1177.3,345.2 1178.0,354.5 1178.6,317.8 1179.3,343.5 1180.0,345.3 1180.7,363.2 1181.4,371.6 1182.1,338.7 1182.8,360.2 1183.5,349.6 1184.2,360.1 1184.9,353.5 1185.6,331.0 1186.3,371.5 1187.0,354.2 1187.7,374.8 1188.4,363.5 1189.0,360.7 1189.7,389.1 1190.4,366.7 1191.1,382.3 1191.8,366.3 1192.5,361.6 1193.2,358.4 1193.9,340.3 1194.6,352.2 1195.3,379.5 1196.0,379.8 1196.7,343.3 1197.4,347.7 1198.1,361.7 1198.8,367.2 1199.4,362.4 1200.1,384.1 1200.8,359.1 1201.5,363.8 1202.2,377.7 1202.9,366.1 1203.6,368.6 1204.3,393.9 1205.0,348.1 1205.7,352.7 1206.4,355.6 1207.1,363.4 1207.8,361.6 1208.5,369.1 1209.2,369.2 1209.8,362.8 1210.5,336.3 1211.2,357.2 1211.9,389.7 1212.6,374.4 1213.3,371.7 1214.0,377.7 1214.7,384.8 1215.4,367.2 1216.1,355.7 1216.8,376.7 1217.5,374.6 1218.2,366.1 1218.9,382.5 1219.6,359.2 1220.2,374.6 1220.9,363.9 1221.6,342.0 1222.3,362.2 1223.0,369.8 1223.7,378.9 1224.4,359.7 1225.1,379.5 1225.8,381.1 1226.5,387.3 1227.2,371.2 1227.9,345.8 1228.6,369.4 1229.3,391.5 1230.0,385.2 1230.6,385.2 1231.3,373.6 1232.0,364.2 1232.7,370.1 1233.4,395.5 1234.1,363.1 1234.8,365.0 1235.5,350.2 1236.2,394.9 1236.9,360.6 1237.6,384.7 1238.3,377.7 1239.0,377.3 1239.7,331.2 1240.4,388.7 1241.0,388.3 1241.7,358.3 1242.4,378.8 1243.1,386.6 1243.8,362.1 1244.5,374.9 1245.2,382.2 1245.9,342.6 1246.6,350.5 1247.3,366.5 1248.0,374.4 1248.7,379.5 1249.4,368.4 1250.1,368.0 1250.8,378.9 1251.4,386.8 1252.1,383.0 1252.8,378.2 1253.5,386.9 1254.2,371.9 1254.9,343.0 1255.6,378.4 1256.3,372.7 1257.0,393.2 1257.7,383.0 1258.4,351.3 1259.1,386.5 1259.8,374.4 1260.5,347.1 1261.2,373.9 1261.8,384.3 1262.5,361.7 1263.2,363.8 1263.9,373.2 1264.6,356.0 1265.3,383.0 1266.0,379.8 1266.7,361.2 1267.4,346.0 1268.1,360.9 1268.8,353.7 1269.5,347.0 1270.2,341.1 1270.9,377.3 1271.6,362.6 1272.2,394.6 1272.9,361.2 1273.6,363.1 1274.3,372.9 1275.0,343.8 1275.7,319.0 1276.4,340.4 1277.1,344.7 1277.8,387.1 1278.5,370.2 1279.2,373.4 1279.9,371.0 1280.6,384.0 1281.3,350.9 1282.0,368.9 1282.6,367.2 1283.3,387.6 1284.0,361.5 1284.7,353.5 1285.4,319.5 1286.1,343.3 1286.8,383.6 1287.5,362.6 1288.2,330.5 1288.9,380.9 1289.6,364.6 1290.3,340.5 1291.0,354.2 1291.7,380.2 1292.4,376.9 1293.0,359.5 1293.7,378.2 1294.4,395.2 1295.1,370.1 1295.8,368.4 1296.5,344.5 1297.2,364.1 1297.9,344.1 1298.6,337.4 1299.3,369.0 1300.0,347.3 1300.7,329.2 1301.4,373.4 1302.1,384.6 1302.8,375.0 1303.4,352.9 1304.1,346.3 1304.8,379.0 1305.5,381.5 1306.2,380.4 1306.9,356.2 1307.6,378.9 1308.3,348.8 1309.0,383.0 1309.7,376.6 1310.4,368.9 1311.1,371.5 1311.8,330.7 1312.5,289.4 1313.2,321.6 1313.8,359.1 1314.5,375.5 1315.2,353.9 1315.9,356.2 1316.6,375.2 1317.3,361.9 1318.0,354.8 1318.7,340.5 1319.4,371.1 1320.1,345.9 1320.8,361.2 1321.5,376.9 1322.2,375.4 1322.9,374.3 1323.6,348.5 1324.2,355.9 1324.9,328.6 1325.6,362.4 1326.3,347.1 1327.0,346.3 1327.7,336.1 1328.4,348.4 1329.1,376.8 1329.8,337.6 1330.5,303.2 1331.2,328.8 1331.9,363.2 1332.6,371.6 1333.3,370.9 1334.0,362.9 1334.6,348.5 1335.3,365.2 1336.0,356.0 1336.7,353.1 1337.4,352.9 1338.1,375.9 1338.8,350.1 1339.5,330.8 1340.2,329.4 1340.9,343.2 1341.6,376.4 1342.3,361.4 1343.0,338.1 1343.7,367.6 1344.4,369.4 1345.0,360.4 1345.7,363.3 1346.4,359.7 1347.1,335.0 1347.8,365.6 1348.5,342.6 1349.2,343.3 1349.9,369.6 1350.6,369.6 1351.3,379.8 1352.0,350.8 1352.7,378.3 1353.4,343.6 1354.1,351.3 1354.8,365.6 1355.4,369.3 1356.1,361.0 1356.8,339.7 1357.5,349.7 1358.2,346.5 1358.9,333.8 1359.6,355.3 1360.3,353.7 1361.0,381.3 1361.7,347.8 1362.4,310.1 1363.1,337.4 1363.8,364.3 1364.5,368.6 1365.2,369.4 1365.8,370.8 1366.5,379.0 1367.2,370.4 1367.9,352.3 1368.6,366.4 1369.3,373.5 1370.0,372.3 1370.7,370.3 1371.4,380.8 1372.1,369.3 1372.8,367.3 1373.5,358.8 1374.2,338.0 1374.9,301.6 1375.6,334.6 1376.2,355.6 1376.9,352.2 1377.6,366.5 1378.3,363.4 1379.0,372.8 1379.7,351.7 1380.4,373.9 1381.1,348.5 1381.8,370.1 1382.5,331.4 1383.2,363.0 1383.9,373.3 1384.6,375.7 1385.3,359.0 1386.0,370.4 1386.6,371.1 1387.3,372.0 1388.0,357.8 1388.7,348.7 1389.4,364.1 1390.1,386.5 1390.8,340.7 1391.5,295.1 1392.2,334.9 1392.9,363.5 1393.6,347.2 1394.3,359.8 1395.0,365.4 1395.7,369.8 1396.4,356.6 1397.0,341.5 1397.7,363.4 1398.4,364.9 1399.1,392.7 1399.8,392.7 1400.5,366.6 1401.2,372.9 1401.9,343.5 1402.6,362.5 1403.3,369.4 1404.0,343.1 1404.7,360.6 1405.4,378.3 1406.1,371.3 1406.8,364.2 1407.4,323.7 1408.1,323.5 1408.8,278.4 1409.5,317.0 1410.2,359.2 1410.9,337.8 1411.6,362.6 1412.3,376.9 1413.0,375.1 1413.7,378.0 1414.4,370.2 1415.1,373.4 1415.8,381.2 1416.5,358.2 1417.2,376.7 1417.8,362.6 1418.5,379.3 1419.2,364.6 1419.9,346.8 1420.6,359.0 1421.3,371.4 1422.0,369.8 1422.7,361.6 1423.4,335.7 1424.1,378.0 1424.8,372.1 1425.5,367.7 1426.2,340.4 1426.9,304.2 1427.6,326.7 1428.2,374.3 1428.9,341.2 1429.6,326.9 1430.3,347.8 1431.0,363.5 1431.7,368.9 1432.4,371.5 1433.1,330.2 1433.8,329.0 1434.5,348.6 1435.2,378.3 1435.9,388.1 1436.6,377.5 1437.3,356.9 1438.0,358.2 1438.6,366.0 1439.3,381.5 1440.0,350.7 1440.7,358.6 1441.4,373.2 1442.1,339.7 1442.8,372.3 1443.5,349.2 1444.2,330.9 1444.9,370.2 1445.6,384.8 1446.3,362.8 1447.0,367.5 1447.7,354.8 1448.4,364.7 1449.0,335.3 1449.7,359.7 1450.4,358.1 1451.1,385.0 1451.8,392.6 1452.5,329.6 1453.2,341.3 1453.9,341.6 1454.6,379.8 1455.3,369.6 1456.0,356.4 1456.7,354.1 1457.4,364.6 1458.1,371.5 1458.8,352.0 1459.4,351.5 1460.1,382.5 1460.8,341.4 1461.5,362.9 1462.2,374.5 1462.9,351.6 1463.6,373.1 1464.3,361.2 1465.0,360.3 1465.7,352.2 1466.4,367.9 1467.1,369.9 1467.8,374.0 1468.5,376.5 1469.2,370.1 1469.8,360.5 1470.5,350.4 1471.2,359.8 1471.9,366.6 1472.6,371.3 1473.3,358.0 1474.0,362.1 1474.7,334.3 1475.4,348.0 1476.1,300.0 1476.8,337.1 1477.5,364.4 1478.2,363.8 1478.9,369.5 1479.6,387.9 1480.2,382.8 1480.9,383.6 1481.6,376.3 1482.3,370.4 1483.0,381.5 1483.7,355.9 1484.4,365.2 1485.1,377.1 1485.8,342.5 1486.5,370.3 1487.2,348.6 1487.9,344.3 1488.6,377.0 1489.3,337.7 1490.0,365.2 1490.6,384.2 1491.3,362.4 1492.0,350.2 1492.7,369.2 1493.4,365.7 1494.1,376.3 1494.8,351.8 1495.5,372.9 1496.2,369.1 1496.9,372.4 1497.6,357.4 1498.3,368.0 1499.0,370.4 1499.7,358.4 1500.4,367.6 1501.0,382.2 1501.7,366.6 1502.4,367.5 1503.1,380.0 1503.8,387.5 1504.5,390.3 1505.2,349.8 1505.9,352.7 1506.6,376.9 1507.3,377.4 1508.0,354.0 1508.7,367.8 1509.4,372.4 1510.1,367.9 1510.8,355.8 1511.4,343.8 1512.1,376.0 1512.8,368.2 1513.5,373.8 1514.2,353.8 1514.9,373.8 1515.6,374.5 1516.3,384.3 1517.0,378.9 1517.7,382.2 1518.4,383.4 1519.1,371.7 1519.8,386.5 1520.5,368.7 1521.2,346.1 1521.8,366.2 1522.5,360.9 1523.2,360.7 1523.9,339.9 1524.6,341.7 1525.3,343.6 1526.0,367.0 1526.7,371.6 1527.4,389.7 1528.1,385.5 1528.8,358.9 1529.5,374.2 1530.2,347.8 1530.9,383.9 1531.6,346.1 1532.2,362.4 1532.9,342.3 1533.6,375.5 1534.3,349.0 1535.0,333.2 1535.7,353.9 1536.4,379.6 1537.1,381.5" fill="none" stroke="#2b2bff" stroke-width="1.209" stroke-linejoin="round"/>
<polyline points="871.5,404.5 872.2,390.8 872.9,372.0 873.6,374.8 874.3,388.4 875.0,373.1 875.7,363.2 876.4,370.5 877.0,370.2 877.7,359.0 878.4,377.4 879.1,383.3 879.8,381.8 880.5,366.9 881.2,379.7 881.9,370.0 882.6,381.0 883.3,375.7 884.0,373.7 884.7,355.7 885.4,352.8 886.1,373.6 886.8,367.9 887.4,382.1 888.1,361.4 888.8,373.8 889.5,360.3 890.2,378.7 890.9,371.7 891.6,378.0 892.3,381.2 893.0,389.9 893.7,376.8 894.4,364.9 895.1,364.5 895.8,377.5 896.5,363.5 897.2,360.4 897.8,375.4 898.5,380.6 899.2,361.1 899.9,360.5 900.6,362.9 901.3,357.8 902.0,375.9 902.7,372.0 903.4,373.0 904.1,379.2 904.8,377.3 905.5,369.3 906.2,379.4 906.9,381.0 907.6,369.8 908.2,378.3 908.9,376.1 909.6,358.0 910.3,364.2 911.0,375.4 911.7,382.5 912.4,375.1 913.1,362.4 913.8,378.0 914.5,377.9 915.2,375.6 915.9,379.8 916.6,372.6 917.3,365.8 918.0,359.2 918.6,368.0 919.3,363.8 920.0,369.6 920.7,376.7 921.4,369.1 922.1,375.8 922.8,380.1 923.5,367.2 924.2,385.5 924.9,383.9 925.6,386.2 926.3,381.0 927.0,363.9 927.7,373.6 928.4,380.7 929.0,369.4 929.7,381.3 930.4,383.0 931.1,371.4 931.8,367.4 932.5,380.7 933.2,368.7 933.9,386.8 934.6,376.6 935.3,373.2 936.0,386.5 936.7,392.2 937.4,390.0 938.1,390.9 938.8,372.0 939.4,383.3 940.1,383.6 940.8,382.3 941.5,379.0 942.2,386.3 942.9,387.2 943.6,376.4 944.3,379.0 945.0,375.7 945.7,384.5 946.4,374.9 947.1,388.1 947.8,372.2 948.5,377.4 949.2,367.7 949.8,382.5 950.5,375.0 951.2,378.1 951.9,378.3 952.6,383.3 953.3,366.6 954.0,369.1 954.7,372.4 955.4,378.9 956.1,390.8 956.8,376.2 957.5,386.4 958.2,371.2 958.9,367.9 959.6,378.6 960.2,385.6 960.9,384.5 961.6,391.2 962.3,375.5 963.0,385.2 963.7,370.6 964.4,373.0 965.1,373.4 965.8,359.2 966.5,375.2 967.2,377.7 967.9,369.5 968.6,369.2 969.3,369.8 970.0,384.2 970.6,373.0 971.3,373.0 972.0,352.2 972.7,365.6 973.4,368.8 974.1,376.4 974.8,381.4 975.5,371.9 976.2,387.1 976.9,379.5 977.6,355.6 978.3,380.7 979.0,358.2 979.7,363.6 980.4,379.1 981.0,379.4 981.7,374.8 982.4,368.2 983.1,382.7 983.8,343.2 984.5,372.6 985.2,371.7 985.9,356.6 986.6,332.2 987.3,356.1 988.0,359.6 988.7,364.2 989.4,354.4 990.1,374.1 990.8,383.1 991.4,346.6 992.1,341.3 992.8,360.9 993.5,372.9 994.2,372.8 994.9,352.4 995.6,359.0 996.3,350.6 997.0,341.4 997.7,370.3 998.4,362.6 999.1,333.8 999.8,345.2 1000.5,353.6 1001.2,346.9 1001.8,308.5 1002.5,335.4 1003.2,346.0 1003.9,317.9 1004.6,378.2 1005.3,380.1 1006.0,344.2 1006.7,363.1 1007.4,372.1 1008.1,377.3 1008.8,368.7 1009.5,357.7 1010.2,374.9 1010.9,381.5 1011.6,371.9 1012.2,366.7 1012.9,353.8 1013.6,356.7 1014.3,326.6 1015.0,348.4 1015.7,352.9 1016.4,346.2 1017.1,371.5 1017.8,347.8 1018.5,367.3 1019.2,368.9 1019.9,358.9 1020.6,372.0 1021.3,361.7 1022.0,369.8 1022.6,334.9 1023.3,288.5 1024.0,321.0 1024.7,351.7 1025.4,358.9 1026.1,375.4 1026.8,384.4 1027.5,382.0 1028.2,336.1 1028.9,355.9 1029.6,371.8 1030.3,373.9 1031.0,378.5 1031.7,359.2 1032.4,354.2 1033.0,375.2 1033.7,371.5 1034.4,376.4 1035.1,364.2 1035.8,339.0 1036.5,337.3 1037.2,350.2 1037.9,314.0 1038.6,339.4 1039.3,357.2 1040.0,362.0 1040.7,340.2 1041.4,347.8 1042.1,366.4 1042.8,358.9 1043.4,360.6 1044.1,361.7 1044.8,356.1 1045.5,337.8 1046.2,364.4 1046.9,380.5 1047.6,355.8 1048.3,338.8 1049.0,371.8 1049.7,354.5 1050.4,377.4 1051.1,344.3 1051.8,370.2 1052.5,374.4 1053.2,353.9 1053.8,374.4 1054.5,348.8 1055.2,348.6 1055.9,377.5 1056.6,385.8 1057.3,352.6 1058.0,334.3 1058.7,343.3 1059.4,356.9 1060.1,347.1 1060.8,336.4 1061.5,369.0 1062.2,365.4 1062.9,381.6 1063.6,352.6 1064.2,357.9 1064.9,340.7 1065.6,334.8 1066.3,372.7 1067.0,369.0 1067.7,348.5 1068.4,339.2 1069.1,335.8 1069.8,356.3 1070.5,370.2 1071.2,382.6 1071.9,366.2 1072.6,374.9 1073.3,368.1 1074.0,344.0 1074.6,344.5 1075.3,360.7 1076.0,359.8 1076.7,337.5 1077.4,353.5 1078.1,354.1 1078.8,369.7 1079.5,372.8 1080.2,334.5 1080.9,327.1 1081.6,356.2 1082.3,371.4 1083.0,363.2 1083.7,355.3 1084.4,366.7 1085.0,370.2 1085.7,354.6 1086.4,334.2 1087.1,350.5 1087.8,361.0 1088.5,375.5 1089.2,339.8 1089.9,360.9 1090.6,355.8 1091.3,354.7 1092.0,321.4 1092.7,344.7 1093.4,359.4 1094.1,355.7 1094.8,366.7 1095.4,345.7 1096.1,366.2 1096.8,354.4 1097.5,373.4 1098.2,378.4 1098.9,370.5 1099.6,359.8 1100.3,364.3 1101.0,353.6 1101.7,369.4 1102.4,345.5 1103.1,356.0 1103.8,360.6 1104.5,344.5 1105.2,379.0 1105.8,367.4 1106.5,361.8 1107.2,353.5 1107.9,362.7 1108.6,346.2 1109.3,372.8 1110.0,347.8 1110.7,329.8 1111.4,280.0 1112.1,314.9 1112.8,353.6 1113.5,360.4 1114.2,356.1 1114.9,347.5 1115.6,374.2 1116.2,364.4 1116.9,359.0 1117.6,380.2 1118.3,387.8 1119.0,356.6 1119.7,358.5 1120.4,363.8 1121.1,379.5 1121.8,346.0 1122.5,336.4 1123.2,328.7 1123.9,358.2 1124.6,371.0 1125.3,383.5 1126.0,376.2 1126.6,380.9 1127.3,373.4 1128.0,365.2 1128.7,372.0 1129.4,343.3 1130.1,358.2 1130.8,381.4 1131.5,368.3 1132.2,369.9 1132.9,354.7 1133.6,328.3 1134.3,349.6 1135.0,356.8 1135.7,360.2 1136.4,380.0 1137.0,375.3 1137.7,356.9 1138.4,373.2 1139.1,374.3 1139.8,363.8 1140.5,337.6 1141.2,378.6 1141.9,359.2 1142.6,368.2 1143.3,333.4 1144.0,355.6 1144.7,379.4 1145.4,381.4 1146.1,385.2 1146.8,383.1 1147.4,342.9 1148.1,372.7 1148.8,361.8 1149.5,373.3 1150.2,341.8 1150.9,360.2 1151.6,378.3 1152.3,352.1 1153.0,320.3 1153.7,343.9 1154.4,362.7 1155.1,379.4 1155.8,344.8 1156.5,332.8 1157.2,364.4 1157.8,343.8 1158.5,357.2 1159.2,360.2 1159.9,367.7 1160.6,376.1 1161.3,377.2 1162.0,354.1 1162.7,340.3 1163.4,351.2 1164.1,357.7 1164.8,343.2 1165.5,380.5 1166.2,361.8 1166.9,348.9 1167.6,369.7 1168.2,335.6 1168.9,356.2 1169.6,375.5 1170.3,383.4 1171.0,361.9 1171.7,378.9 1172.4,375.0 1173.1,377.5 1173.8,345.9 1174.5,366.8 1175.2,368.3 1175.9,345.9 1176.6,361.4 1177.3,348.5 1178.0,351.1 1178.6,316.8 1179.3,341.3 1180.0,348.6 1180.7,359.4 1181.4,366.0 1182.1,340.2 1182.8,363.8 1183.5,356.6 1184.2,354.7 1184.9,349.2 1185.6,335.2 1186.3,373.6 1187.0,352.7 1187.7,375.7 1188.4,367.2 1189.0,362.7 1189.7,383.1 1190.4,366.6 1191.1,382.9 1191.8,370.0 1192.5,365.7 1193.2,358.8 1193.9,342.1 1194.6,351.0 1195.3,376.6 1196.0,380.5 1196.7,338.5 1197.4,340.8 1198.1,357.2 1198.8,369.1 1199.4,362.6 1200.1,383.7 1200.8,364.2 1201.5,365.0 1202.2,376.6 1202.9,370.0 1203.6,368.5 1204.3,388.5 1205.0,346.0 1205.7,350.9 1206.4,356.5 1207.1,362.9 1207.8,363.2 1208.5,369.0 1209.2,368.2 1209.8,361.6 1210.5,335.6 1211.2,355.8 1211.9,384.8 1212.6,371.6 1213.3,373.4 1214.0,373.9 1214.7,389.2 1215.4,368.3 1216.1,355.1 1216.8,371.4 1217.5,373.9 1218.2,364.9 1218.9,384.2 1219.6,363.1 1220.2,377.9 1220.9,366.2 1221.6,345.0 1222.3,368.0 1223.0,372.2 1223.7,381.0 1224.4,357.9 1225.1,379.8 1225.8,383.0 1226.5,381.7 1227.2,377.6 1227.9,345.3 1228.6,371.6 1229.3,384.2 1230.0,385.6 1230.6,381.4 1231.3,373.2 1232.0,360.4 1232.7,366.5 1233.4,389.8 1234.1,367.2 1234.8,362.5 1235.5,346.4 1236.2,389.8 1236.9,360.1 1237.6,389.9 1238.3,377.4 1239.0,374.2 1239.7,330.7 1240.4,386.4 1241.0,387.4 1241.7,355.7 1242.4,383.5 1243.1,393.8 1243.8,360.8 1244.5,371.7 1245.2,382.8 1245.9,343.0 1246.6,353.7 1247.3,364.7 1248.0,373.7 1248.7,379.5 1249.4,367.8 1250.1,369.3 1250.8,380.5 1251.4,388.2 1252.1,377.0 1252.8,380.0 1253.5,387.5 1254.2,365.6 1254.9,343.2 1255.6,376.1 1256.3,372.2 1257.0,389.3 1257.7,385.6 1258.4,353.5 1259.1,389.8 1259.8,376.0 1260.5,348.8 1261.2,375.8 1261.8,388.4 1262.5,361.8 1263.2,366.7 1263.9,369.3 1264.6,358.6 1265.3,382.4 1266.0,385.2 1266.7,362.9 1267.4,343.1 1268.1,362.4 1268.8,352.3 1269.5,350.8 1270.2,341.3 1270.9,376.9 1271.6,362.6 1272.2,390.9 1272.9,361.6 1273.6,362.3 1274.3,373.2 1275.0,347.5 1275.7,315.1 1276.4,340.1 1277.1,349.6 1277.8,386.6 1278.5,369.0 1279.2,374.1 1279.9,375.0 1280.6,384.3 1281.3,354.8 1282.0,365.6 1282.6,371.7 1283.3,386.6 1284.0,363.6 1284.7,376.6 1285.4,380.4 1286.1,392.2 1286.8,384.4 1287.5,361.3 1288.2,336.0 1288.9,383.5 1289.6,372.0 1290.3,340.7 1291.0,350.1 1291.7,381.5 1292.4,371.0 1293.0,362.3 1293.7,378.5 1294.4,387.5 1295.1,369.7 1295.8,365.4 1296.5,338.4 1297.2,361.1 1297.9,341.2 1298.6,337.7 1299.3,365.8 1300.0,351.4 1300.7,336.5 1301.4,375.2 1302.1,381.8 1302.8,374.9 1303.4,352.9 1304.1,343.3 1304.8,378.1 1305.5,385.8 1306.2,377.7 1306.9,359.1 1307.6,378.1 1308.3,345.5 1309.0,382.0 1309.7,379.5 1310.4,368.6 1311.1,369.5 1311.8,329.9 1312.5,329.7 1313.2,343.6 1313.8,362.1 1314.5,378.9 1315.2,359.9 1315.9,358.3 1316.6,367.8 1317.3,363.2 1318.0,350.2 1318.7,339.0 1319.4,368.7 1320.1,347.4 1320.8,360.9 1321.5,375.3 1322.2,375.6 1322.9,369.1 1323.6,345.2 1324.2,357.8 1324.9,334.5 1325.6,360.3 1326.3,351.2 1327.0,345.4 1327.7,339.9 1328.4,344.3 1329.1,377.5 1329.8,341.3 1330.5,299.2 1331.2,328.7 1331.9,360.0 1332.6,370.5 1333.3,371.9 1334.0,361.8 1334.6,346.2 1335.3,365.7 1336.0,353.4 1336.7,351.7 1337.4,350.3 1338.1,376.5 1338.8,347.2 1339.5,327.6 1340.2,326.0 1340.9,339.1 1341.6,377.6 1342.3,364.4 1343.0,337.4 1343.7,363.4 1344.4,364.0 1345.0,358.7 1345.7,361.7 1346.4,359.6 1347.1,334.5 1347.8,367.2 1348.5,339.7 1349.2,349.5 1349.9,366.1 1350.6,368.3 1351.3,379.1 1352.0,348.0 1352.7,371.1 1353.4,347.0 1354.1,362.4 1354.8,369.1 1355.4,363.2 1356.1,361.0 1356.8,338.7 1357.5,353.5 1358.2,346.8 1358.9,333.0 1359.6,352.6 1360.3,355.0 1361.0,380.0 1361.7,348.6 1362.4,311.3 1363.1,337.4 1363.8,364.0 1364.5,367.4 1365.2,369.1 1365.8,366.2 1366.5,371.7 1367.2,369.5 1367.9,354.3 1368.6,364.8 1369.3,370.7 1370.0,372.3 1370.7,366.8 1371.4,377.2 1372.1,367.7 1372.8,367.4 1373.5,358.5 1374.2,342.0 1374.9,300.3 1375.6,329.5 1376.2,352.0 1376.9,349.9 1377.6,365.6 1378.3,359.2 1379.0,374.3 1379.7,353.1 1380.4,371.0 1381.1,352.1 1381.8,369.5 1382.5,328.1 1383.2,361.0 1383.9,370.8 1384.6,378.8 1385.3,356.8 1386.0,374.2 1386.6,372.2 1387.3,371.7 1388.0,359.3 1388.7,347.8 1389.4,362.6 1390.1,382.2 1390.8,343.6 1391.5,303.1 1392.2,331.5 1392.9,363.5 1393.6,353.1 1394.3,366.2 1395.0,370.7 1395.7,369.5 1396.4,361.1 1397.0,341.8 1397.7,360.1 1398.4,366.0 1399.1,360.0 1399.8,368.1 1400.5,364.8 1401.2,370.1 1401.9,344.7 1402.6,364.5 1403.3,375.0 1404.0,344.4 1404.7,359.0 1405.4,378.5 1406.1,380.8 1406.8,358.0 1407.4,323.6 1408.1,329.2 1408.8,278.9 1409.5,314.1 1410.2,357.3 1410.9,340.5 1411.6,359.5 1412.3,377.8 1413.0,375.3 1413.7,380.2 1414.4,372.8 1415.1,376.2 1415.8,382.1 1416.5,360.7 1417.2,376.5 1417.8,359.7 1418.5,379.0 1419.2,366.5 1419.9,349.9 1420.6,365.1 1421.3,370.3 1422.0,366.6 1422.7,358.4 1423.4,336.5 1424.1,371.5 1424.8,367.5 1425.5,368.5 1426.2,341.3 1426.9,299.2 1427.6,328.7 1428.2,374.6 1428.9,343.7 1429.6,330.3 1430.3,347.4 1431.0,363.6 1431.7,370.5 1432.4,368.1 1433.1,332.0 1433.8,324.0 1434.5,352.3 1435.2,380.2 1435.9,385.9 1436.6,377.5 1437.3,355.2 1438.0,359.4 1438.6,370.2 1439.3,380.7 1440.0,351.7 1440.7,362.7 1441.4,372.9 1442.1,342.8 1442.8,369.9 1443.5,348.5 1444.2,333.6 1444.9,374.3 1445.6,380.9 1446.3,362.6 1447.0,371.9 1447.7,356.1 1448.4,362.2 1449.0,336.6 1449.7,358.1 1450.4,362.5 1451.1,382.5 1451.8,389.3 1452.5,330.1 1453.2,341.4 1453.9,341.6 1454.6,377.0 1455.3,372.1 1456.0,355.9 1456.7,350.6 1457.4,374.7 1458.1,373.3 1458.8,350.4 1459.4,354.5 1460.1,379.6 1460.8,345.5 1461.5,367.6 1462.2,377.1 1462.9,355.0 1463.6,376.9 1464.3,368.2 1465.0,372.2 1465.7,344.9 1466.4,370.6 1467.1,370.1 1467.8,380.3 1468.5,377.6 1469.2,372.3 1469.8,359.7 1470.5,354.6 1471.2,362.8 1471.9,367.5 1472.6,377.6 1473.3,365.3 1474.0,364.3 1474.7,334.4 1475.4,346.4 1476.1,307.7 1476.8,334.8 1477.5,366.3 1478.2,361.7 1478.9,367.4 1479.6,385.6 1480.2,388.3 1480.9,382.7 1481.6,371.0 1482.3,367.3 1483.0,377.1 1483.7,354.8 1484.4,363.8 1485.1,382.3 1485.8,339.7 1486.5,366.7 1487.2,349.6 1487.9,350.8 1488.6,376.1 1489.3,335.6 1490.0,370.0 1490.6,378.8 1491.3,362.5 1492.0,349.0 1492.7,371.5 1493.4,367.4 1494.1,375.9 1494.8,350.8 1495.5,373.3 1496.2,368.2 1496.9,370.8 1497.6,357.8 1498.3,368.8 1499.0,376.2 1499.7,360.0 1500.4,364.8 1501.0,383.2 1501.7,364.5 1502.4,373.5 1503.1,381.3 1503.8,385.7 1504.5,387.3 1505.2,352.3 1505.9,350.1 1506.6,373.1 1507.3,377.2 1508.0,351.4 1508.7,367.9 1509.4,373.5 1510.1,374.0 1510.8,360.7 1511.4,348.1 1512.1,373.8 1512.8,370.2 1513.5,370.9 1514.2,352.2 1514.9,372.0 1515.6,370.7 1516.3,377.9 1517.0,381.9 1517.7,382.5 1518.4,380.8 1519.1,372.7 1519.8,385.8 1520.5,371.3 1521.2,344.9 1521.8,367.9 1522.5,353.2 1523.2,367.2 1523.9,342.4 1524.6,339.7 1525.3,339.7 1526.0,359.6 1526.7,370.0 1527.4,387.4 1528.1,384.5 1528.8,357.8 1529.5,374.4 1530.2,341.6 1530.9,377.8 1531.6,348.9 1532.2,362.3 1532.9,346.3 1533.6,371.3 1534.3,347.7 1535.0,329.1 1535.7,362.7 1536.4,373.4 1537.1,377.8" fill="none" stroke="#ff00ff" stroke-width="1.3" stroke-linejoin="round"/>
<line x1="871.5" y1="360.6" x2="1537.1" y2="360.6" stroke="#4a4aff" stroke-width="1.2" stroke-dasharray="8,5"/>
<line x1="871.5" y1="361.1" x2="1537.1" y2="361.1" stroke="#ff00ff" stroke-width="1.0" stroke-dasharray="7,3,2,3" opacity="0.8"/>
<line x1="982.4" y1="242.0" x2="982.4" y2="404.5" stroke="#444" stroke-width="1.2" stroke-dasharray="9,5.5" stroke-dashoffset="6"/>
<path d="M871.5,240.0 V404.5 H1537.1" fill="none" stroke="#6e6e6e" stroke-width="1.5"/>
<line x1="871.5" y1="404.5" x2="876.5" y2="404.5" stroke="#6e6e6e" stroke-width="1.3"/>
<text x="868.0" y="405.0" font-size="19.5" text-anchor="end" dominant-baseline="central">0</text>
<line x1="871.5" y1="377.1" x2="876.5" y2="377.1" stroke="#6e6e6e" stroke-width="1.3"/>
<text x="868.0" y="377.6" font-size="19.5" text-anchor="end" dominant-baseline="central">10</text>
<line x1="871.5" y1="349.7" x2="876.5" y2="349.7" stroke="#6e6e6e" stroke-width="1.3"/>
<text x="868.0" y="350.2" font-size="19.5" text-anchor="end" dominant-baseline="central">20</text>
<line x1="871.5" y1="322.2" x2="876.5" y2="322.2" stroke="#6e6e6e" stroke-width="1.3"/>
<text x="868.0" y="322.8" font-size="19.5" text-anchor="end" dominant-baseline="central">30</text>
<line x1="871.5" y1="294.8" x2="876.5" y2="294.8" stroke="#6e6e6e" stroke-width="1.3"/>
<text x="868.0" y="295.3" font-size="19.5" text-anchor="end" dominant-baseline="central">40</text>
<line x1="871.5" y1="267.4" x2="876.5" y2="267.4" stroke="#6e6e6e" stroke-width="1.3"/>
<text x="868.0" y="267.9" font-size="19.5" text-anchor="end" dominant-baseline="central">50</text>
<line x1="871.5" y1="240.0" x2="876.5" y2="240.0" stroke="#6e6e6e" stroke-width="1.3"/>
<text x="868.0" y="240.5" font-size="19.5" text-anchor="end" dominant-baseline="central">60</text>
<text x="873.5" y="429.5" font-size="19.5" text-anchor="middle">0</text>
<line x1="940.8" y1="404.5" x2="940.8" y2="399.5" stroke="#6e6e6e" stroke-width="1.3"/>
<text x="940.8" y="429.5" font-size="19.5" text-anchor="middle">100</text>
<line x1="1010.2" y1="404.5" x2="1010.2" y2="399.5" stroke="#6e6e6e" stroke-width="1.3"/>
<text x="1010.2" y="429.5" font-size="19.5" text-anchor="middle">200</text>
<line x1="1079.5" y1="404.5" x2="1079.5" y2="399.5" stroke="#6e6e6e" stroke-width="1.3"/>
<text x="1079.5" y="429.5" font-size="19.5" text-anchor="middle">300</text>
<line x1="1148.8" y1="404.5" x2="1148.8" y2="399.5" stroke="#6e6e6e" stroke-width="1.3"/>
<text x="1148.8" y="429.5" font-size="19.5" text-anchor="middle">400</text>
<line x1="1218.2" y1="404.5" x2="1218.2" y2="399.5" stroke="#6e6e6e" stroke-width="1.3"/>
<text x="1218.2" y="429.5" font-size="19.5" text-anchor="middle">500</text>
<line x1="1287.5" y1="404.5" x2="1287.5" y2="399.5" stroke="#6e6e6e" stroke-width="1.3"/>
<text x="1287.5" y="429.5" font-size="19.5" text-anchor="middle">600</text>
<line x1="1356.8" y1="404.5" x2="1356.8" y2="399.5" stroke="#6e6e6e" stroke-width="1.3"/>
<text x="1356.8" y="429.5" font-size="19.5" text-anchor="middle">700</text>
<line x1="1426.2" y1="404.5" x2="1426.2" y2="399.5" stroke="#6e6e6e" stroke-width="1.3"/>
<text x="1426.2" y="429.5" font-size="19.5" text-anchor="middle">800</text>
<line x1="1495.5" y1="404.5" x2="1495.5" y2="399.5" stroke="#6e6e6e" stroke-width="1.3"/>
<text x="1495.5" y="429.5" font-size="19.5" text-anchor="middle">900</text>
<text x="1536.1" y="429.5" font-size="19.5" text-anchor="middle">960</text>
<text x="1204.3" y="452.8" font-size="20.5" text-anchor="middle" stroke="#111" stroke-width="0.3">Sample</text>
<text transform="translate(823.4,322.2) rotate(-90)" font-size="20.5" text-anchor="middle">SPE</text>
<rect x="878.9" y="246.3" width="98.6" height="97.3" fill="#fff" stroke="#6a6a6a" stroke-width="1.6"/>
<line x1="882.8" y1="259.9" x2="921.0" y2="259.9" stroke="#5a5ae0" stroke-width="1.4"/>
<line x1="882.8" y1="282.9" x2="921.0" y2="282.9" stroke="#ff40f0" stroke-width="1.4"/>
<line x1="882.8" y1="306.4" x2="921.0" y2="306.4" stroke="#5a5ae0" stroke-width="1.5" stroke-dasharray="11.1,7.1"/>
<line x1="882.8" y1="329.5" x2="921.0" y2="329.5" stroke="#ff50f0" stroke-width="1.4" stroke-dasharray="9,5,2,5"/>
<text x="925.0" y="263.5" font-size="17.0" font-style="italic">SPE</text>
<line x1="925.7" y1="268.0" x2="955.5" y2="268.0" stroke="#3a3a3a" stroke-width="1.4"/>
<line x1="925.7" y1="275.9" x2="955.5" y2="275.9" stroke="#3a3a3a" stroke-width="1.4"/>
<text x="925.0" y="290.7" font-size="17.0" font-style="italic">SPE</text>
<text x="923.9" y="310.6" font-size="17.0" font-style="italic">SPE</text>
<text x="954.0" y="315.3" font-size="10.8" font-style="italic">UCL</text>
<line x1="923.1" y1="314.5" x2="954.4" y2="314.5" stroke="#3a3a3a" stroke-width="1.4"/>
<line x1="922.5" y1="320.8" x2="952.9" y2="320.8" stroke="#3a3a3a" stroke-width="1.4"/>
<text x="922.9" y="335.7" font-size="17.0" font-style="italic">SPE</text>
<text x="952.4" y="340.4" font-size="10.8" font-style="italic">UCL</text>
<text x="1035.4" y="265.8" font-size="19.4" stroke="#111" stroke-width="0.55">Fault start</text>
<line x1="1029.9" y1="260.2" x2="992.0" y2="293.6" stroke="#222" stroke-width="1.3"/>
<polygon points="982.6,301.9 988.5,289.7 995.4,297.5" fill="#000"/>
<polyline points="69.8,699.8 70.5,680.1 71.3,662.6 72.0,640.3 72.8,638.8 73.5,658.4 74.3,666.2 75.0,668.2 75.7,663.2 76.5,644.4 77.2,652.7 78.0,640.4 78.7,652.2 79.5,650.7 80.2,627.4 81.0,645.2 81.7,649.8 82.4,652.2 83.2,658.8 83.9,666.6 84.7,652.6 85.4,635.5 86.2,656.5 86.9,663.3 87.6,658.8 88.4,659.8 89.1,649.3 89.9,658.8 90.6,630.0 91.4,627.7 92.1,638.0 92.8,645.9 93.6,631.5 94.3,643.6 95.1,644.0 95.8,652.2 96.6,656.9 97.3,667.6 98.1,640.1 98.8,654.1 99.5,650.5 100.3,633.3 101.0,637.4 101.8,644.0 102.5,646.3 103.3,649.4 104.0,634.6 104.7,648.6 105.5,657.9 106.2,660.5 107.0,632.9 107.7,639.6 108.5,649.6 109.2,649.2 109.9,665.2 110.7,653.6 111.4,650.6 112.2,643.2 112.9,640.4 113.7,651.7 114.4,657.5 115.1,663.7 115.9,638.9 116.6,646.9 117.4,648.3 118.1,668.0 118.9,659.0 119.6,635.6 120.4,649.1 121.1,667.3 121.8,654.8 122.6,642.7 123.3,664.9 124.1,652.0 124.8,643.6 125.6,653.6 126.3,652.9 127.0,662.3 127.8,670.0 128.5,641.2 129.3,657.5 130.0,637.9 130.8,657.4 131.5,645.4 132.2,651.7 133.0,639.8 133.7,626.3 134.5,650.4 135.2,646.5 136.0,622.5 136.7,646.9 137.5,664.1 138.2,652.5 138.9,640.9 139.7,643.4 140.4,658.2 141.2,642.9 141.9,641.1 142.7,650.3 143.4,652.5 144.1,641.1 144.9,653.7 145.6,649.6 146.4,651.6 147.1,651.4 147.9,639.2 148.6,656.4 149.3,658.9 150.1,635.3 150.8,666.2 151.6,664.2 152.3,661.1 153.1,664.7 153.8,636.8 154.6,662.5 155.3,659.4 156.0,663.2 156.8,645.8 157.5,643.2 158.3,659.4 159.0,655.1 159.8,644.0 160.5,653.9 161.2,665.1 162.0,640.4 162.7,638.1 163.5,647.8 164.2,650.0 165.0,657.0 165.7,666.9 166.4,628.3 167.2,656.1 167.9,641.4 168.7,657.7 169.4,634.8 170.2,661.8 170.9,638.1 171.7,656.9 172.4,658.3 173.1,632.1 173.9,630.7 174.6,646.0 175.4,640.6 176.1,649.7 176.9,659.4 177.6,632.7 178.3,650.6 179.1,661.8 179.8,653.0 180.6,627.4 181.3,647.2 182.1,652.7 182.8,632.6 183.5,616.9 184.3,628.1 185.0,649.2 185.8,649.8 186.5,645.2 187.3,642.1 188.0,640.1 188.8,642.1 189.5,642.8 190.2,608.9 191.0,614.2 191.7,623.8 192.5,605.5 193.2,598.6 194.0,606.8 194.7,601.6 195.4,634.4 196.2,616.4 196.9,560.8 197.7,599.7 198.4,626.1 199.2,632.5 199.9,635.4 200.6,609.0 201.4,643.0 202.1,614.4 202.9,617.5 203.6,608.6 204.4,609.3 205.1,599.8 205.8,620.9 206.6,579.0 207.3,631.3 208.1,622.1 208.8,625.8 209.6,605.9 210.3,626.2 211.1,634.7 211.8,606.0 212.5,623.2 213.3,619.9 214.0,622.8 214.8,634.3 215.5,651.9 216.3,619.3 217.0,615.3 217.7,612.7 218.5,633.9 219.2,632.1 220.0,610.4 220.7,643.6 221.5,648.5 222.2,610.5 222.9,643.7 223.7,661.4 224.4,636.3 225.2,657.2 225.9,634.1 226.7,623.9 227.4,632.1 228.2,608.2 228.9,639.1 229.6,591.2 230.4,613.8 231.1,636.3 231.9,593.2 232.6,613.4 233.4,589.3 234.1,646.3 234.8,636.4 235.6,663.2 236.3,619.9 237.1,647.1 237.8,653.9 238.6,654.7 239.3,665.5 240.0,615.6 240.8,648.0 241.5,617.8 242.3,639.9 243.0,626.5 243.8,622.8 244.5,613.0 245.3,595.1 246.0,556.4 246.7,596.6 247.5,639.7 248.2,629.8 249.0,649.7 249.7,626.7 250.5,607.5 251.2,577.3 251.9,625.7 252.7,651.9 253.4,646.7 254.2,611.8 254.9,596.1 255.7,640.4 256.4,584.5 257.1,622.2 257.9,643.0 258.6,615.0 259.4,619.1 260.1,636.9 260.9,660.7 261.6,612.1 262.4,648.5 263.1,623.0 263.8,608.3 264.6,646.6 265.3,635.9 266.1,625.5 266.8,631.2 267.6,607.9 268.3,642.2 269.0,606.5 269.8,648.6 270.5,590.4 271.3,603.0 272.0,563.2 272.8,601.5 273.5,640.5 274.2,626.6 275.0,598.6 275.7,657.5 276.5,602.0 277.2,591.4 278.0,612.3 278.7,628.1 279.4,655.9 280.2,605.2 280.9,612.7 281.7,622.9 282.4,605.7 283.2,650.1 283.9,644.9 284.7,629.5 285.4,615.9 286.1,634.8 286.9,651.4 287.6,618.4 288.4,623.5 289.1,650.4 289.9,622.1 290.6,629.3 291.3,631.6 292.1,657.2 292.8,659.0 293.6,603.0 294.3,618.8 295.1,656.3 295.8,619.6 296.5,629.8 297.3,621.9 298.0,640.7 298.8,631.5 299.5,631.9 300.3,643.0 301.0,654.9 301.8,601.1 302.5,643.0 303.2,644.1 304.0,640.9 304.7,604.1 305.5,597.8 306.2,557.5 307.0,597.4 307.7,652.2 308.4,637.7 309.2,619.8 309.9,622.8 310.7,610.1 311.4,643.0 312.2,640.0 312.9,606.3 313.6,597.2 314.4,604.5 315.1,601.9 315.9,628.7 316.6,657.2 317.4,657.7 318.1,635.9 318.9,622.7 319.6,635.8 320.3,613.6 321.1,641.4 321.8,586.9 322.6,646.2 323.3,616.4 324.1,560.8 324.8,599.7 325.5,613.3 326.3,625.1 327.0,643.3 327.8,635.1 328.5,636.3 329.3,622.6 330.0,645.0 330.7,632.7 331.5,626.4 332.2,624.3 333.0,626.3 333.7,653.2 334.5,629.6 335.2,656.6 336.0,661.5 336.7,649.2 337.4,623.3 338.2,612.4 338.9,627.5 339.7,640.5 340.4,634.0 341.2,650.1 341.9,585.8 342.6,642.8 343.4,656.1 344.1,621.6 344.9,656.6 345.6,634.0 346.4,584.0 347.1,636.6 347.8,648.2 348.6,635.1 349.3,647.9 350.1,629.7 350.8,645.6 351.6,595.2 352.3,642.0 353.0,660.4 353.8,642.3 354.5,650.1 355.3,610.1 356.0,657.4 356.8,661.1 357.5,644.6 358.3,600.8 359.0,640.5 359.7,660.3 360.5,615.3 361.2,649.9 362.0,609.3 362.7,625.1 363.5,622.2 364.2,620.9 364.9,629.0 365.7,652.8 366.4,627.6 367.2,604.2 367.9,586.6 368.7,645.0 369.4,653.7 370.1,623.7 370.9,637.2 371.6,622.0 372.4,582.9 373.1,649.8 373.9,583.1 374.6,610.5 375.4,633.2 376.1,593.4 376.8,624.5 377.6,614.9 378.3,640.1 379.1,637.7 379.8,638.6 380.6,653.1 381.3,601.2 382.0,624.5 382.8,649.2 383.5,623.3 384.3,644.1 385.0,630.9 385.8,606.6 386.5,607.1 387.2,647.6 388.0,636.8 388.7,616.3 389.5,615.8 390.2,627.3 391.0,653.1 391.7,629.1 392.5,633.5 393.2,652.4 393.9,624.0 394.7,629.1 395.4,661.6 396.2,620.9 396.9,609.4 397.7,624.9 398.4,575.0 399.1,610.0 399.9,628.5 400.6,643.1 401.4,633.4 402.1,639.6 402.9,654.6 403.6,617.0 404.3,639.4 405.1,629.6 405.8,651.6 406.6,647.0 407.3,640.7 408.1,611.2 408.8,635.4 409.6,640.5 410.3,633.6 411.0,647.3 411.8,642.0 412.5,641.6 413.3,637.8 414.0,650.6 414.8,629.9 415.5,666.1 416.2,648.1 417.0,604.5 417.7,637.6 418.5,665.7 419.2,624.9 420.0,575.0 420.7,610.0 421.4,636.9 422.2,655.5 422.9,653.7 423.7,649.5 424.4,647.5 425.2,637.7 425.9,599.6 426.7,657.2 427.4,656.4 428.1,637.5 428.9,619.4 429.6,609.8 430.4,607.5 431.1,635.4 431.9,640.4 432.6,653.5 433.3,638.8 434.1,606.9 434.8,625.8 435.6,651.8 436.3,656.8 437.1,634.9 437.8,649.6 438.5,648.5 439.3,641.8 440.0,633.1 440.8,632.2 441.5,588.6 442.3,653.3 443.0,650.5 443.7,606.7 444.5,621.9 445.2,637.2 446.0,635.4 446.7,632.7 447.5,627.1 448.2,651.9 449.0,630.5 449.7,655.1 450.4,620.5 451.2,579.2 451.9,630.0 452.7,647.0 453.4,635.8 454.2,621.0 454.9,607.4 455.6,623.2 456.4,593.6 457.1,631.6 457.9,588.9 458.6,630.4 459.4,641.5 460.1,654.1 460.8,621.0 461.6,568.5 462.3,605.2 463.1,634.9 463.8,611.1 464.6,628.5 465.3,620.8 466.1,603.6 466.8,641.3 467.5,635.2 468.3,616.1 469.0,588.2 469.8,617.1 470.5,603.7 471.3,626.0 472.0,653.4 472.7,622.0 473.5,648.2 474.2,631.8 475.0,606.7 475.7,646.8 476.5,647.9 477.2,659.8 477.9,626.8 478.7,611.4 479.4,607.3 480.2,641.6 480.9,652.7 481.7,630.5 482.4,632.6 483.2,641.7 483.9,611.6 484.6,628.8 485.4,622.9 486.1,608.9 486.9,637.3 487.6,652.1 488.4,646.3 489.1,641.7 489.8,646.4 490.6,622.1 491.3,640.1 492.1,657.4 492.8,639.0 493.6,619.6 494.3,636.3 495.0,604.0 495.8,654.8 496.5,587.4 497.3,644.3 498.0,625.7 498.8,651.0 499.5,640.1 500.3,653.6 501.0,632.1 501.7,630.6 502.5,634.9 503.2,613.3 504.0,616.8 504.7,643.2 505.5,620.6 506.2,643.5 506.9,622.9 507.7,601.4 508.4,640.8 509.2,644.2 509.9,592.8 510.7,617.7 511.4,604.6 512.1,631.8 512.9,622.3 513.6,570.7 514.4,606.8 515.1,641.1 515.9,640.2 516.6,633.3 517.3,636.0 518.1,651.3 518.8,626.3 519.6,622.8 520.3,632.9 521.1,609.4 521.8,600.6 522.6,638.0 523.3,599.6 524.0,648.5 524.8,610.4 525.5,621.8 526.3,584.0 527.0,635.3 527.8,634.1 528.5,634.1 529.2,643.5 530.0,612.9 530.7,630.5 531.5,588.9 532.2,596.2 533.0,607.0 533.7,628.8 534.4,619.4 535.2,609.7 535.9,617.4 536.7,645.3 537.4,590.5 538.2,609.8 538.9,637.4 539.7,632.8 540.4,636.0 541.1,620.9 541.9,625.7 542.6,652.4 543.4,611.0 544.1,634.4 544.9,636.9 545.6,596.6 546.3,633.1 547.1,630.5 547.8,611.0 548.6,551.8 549.3,593.3 550.1,637.9 550.8,590.2 551.5,634.8 552.3,649.2 553.0,628.0 553.8,631.7 554.5,617.4 555.3,639.3 556.0,633.2 556.8,637.5 557.5,612.6 558.2,628.8 559.0,619.4 559.7,623.7 560.5,596.9 561.2,613.6 562.0,589.2 562.7,635.2 563.4,629.8 564.2,614.2 564.9,630.9 565.7,640.1 566.4,629.6 567.2,648.2 567.9,611.8 568.6,553.2 569.4,594.2 570.1,606.3 570.9,640.0 571.6,637.2 572.4,607.8 573.1,596.1 573.9,585.7 574.6,577.7 575.3,597.3 576.1,620.8 576.8,641.1 577.6,622.8 578.3,600.6 579.1,608.6 579.8,645.2 580.5,595.6 581.3,619.0 582.0,642.6 582.8,638.5 583.5,599.6 584.3,635.6 585.0,643.7 585.7,572.4 586.5,560.8 587.2,589.8 588.0,633.1 588.7,641.4 589.5,607.3 590.2,578.3 590.9,617.6 591.7,607.9 592.4,631.8 593.2,626.0 593.9,629.2 594.7,617.2 595.4,630.6 596.2,597.9 596.9,561.9 597.6,600.5 598.4,634.2 599.1,623.7 599.9,611.9 600.6,626.2 601.4,601.2 602.1,617.3 602.8,626.2 603.6,645.9 604.3,628.5 605.1,632.4 605.8,638.7 606.6,645.9 607.3,603.5 608.0,618.9 608.8,615.6 609.5,646.6 610.3,631.9 611.0,638.5 611.8,611.5 612.5,626.8 613.3,594.4 614.0,594.8 614.7,591.0 615.5,607.1 616.2,573.0 617.0,612.8 617.7,583.2 618.5,605.7 619.2,615.4 619.9,612.3 620.7,647.8 621.4,625.3 622.2,605.3 622.9,628.1 623.7,617.5 624.4,632.2 625.1,655.4 625.9,636.2 626.6,656.6 627.4,611.0 628.1,626.8 628.9,599.4 629.6,579.6 630.4,617.5 631.1,631.9 631.8,611.1 632.6,620.3 633.3,607.0 634.1,620.5 634.8,605.0 635.6,620.5 636.3,567.6 637.0,604.6 637.8,648.9 638.5,634.7 639.3,609.0 640.0,629.3 640.8,640.6 641.5,647.0 642.2,614.9 643.0,641.9 643.7,577.1 644.5,629.7 645.2,642.9 646.0,628.4 646.7,656.9 647.5,603.0 648.2,616.2 648.9,603.6 649.7,601.1 650.4,623.0 651.2,612.4 651.9,642.8 652.7,661.4 653.4,613.1 654.1,627.8 654.9,631.1 655.6,614.7 656.4,625.4 657.1,635.8 657.9,646.5 658.6,651.6 659.3,627.1 660.1,627.6 660.8,594.8 661.6,630.1 662.3,636.8 663.1,647.6 663.8,627.7 664.6,661.4 665.3,628.1 666.0,612.0 666.8,619.9 667.5,604.6 668.3,597.6 669.0,648.4 669.8,620.6 670.5,583.3 671.2,620.4 672.0,635.2 672.7,641.9 673.5,647.7 674.2,622.3 675.0,641.5 675.7,631.2 676.4,610.9 677.2,621.1 677.9,601.6 678.7,621.5 679.4,616.6 680.2,649.9 680.9,603.7 681.6,609.6 682.4,626.1 683.1,613.3 683.9,631.8 684.6,655.5 685.4,642.5 686.1,601.7 686.9,607.7 687.6,639.7 688.3,628.3 689.1,619.2 689.8,609.2 690.6,626.2 691.3,611.8 692.1,600.1 692.8,632.6 693.5,625.7 694.3,641.6 695.0,652.0 695.8,644.9 696.5,653.9 697.3,650.3 698.0,650.3 698.7,639.4 699.5,643.2 700.2,651.8 701.0,633.1 701.7,637.8 702.5,599.6 703.2,641.5 704.0,644.9 704.7,623.6 705.4,639.8 706.2,655.8 706.9,593.1 707.7,643.1 708.4,644.8 709.2,625.2 709.9,593.9 710.6,627.0 711.4,621.2 712.1,647.5 712.9,636.2 713.6,590.7 714.4,636.0 715.1,653.0 715.8,627.3 716.6,627.0 717.3,638.6 718.1,631.1 718.8,621.9 719.6,594.4 720.3,630.4 721.1,633.1 721.8,647.7 722.5,656.3 723.3,650.1 724.0,618.5 724.8,631.3 725.5,643.5 726.3,641.3 727.0,642.0 727.7,599.2 728.5,617.0 729.2,627.5 730.0,649.2 730.7,645.4 731.5,644.1 732.2,644.3 732.9,587.6 733.7,636.0 734.4,645.3 735.2,609.6 735.9,629.0 736.7,576.4 737.4,589.5 738.2,604.8 738.9,626.4 739.6,639.6 740.4,655.3 741.1,599.1 741.9,632.5 742.6,611.0 743.4,551.8 744.1,593.3 744.8,612.6 745.6,607.3 746.3,640.9 747.1,626.0 747.8,617.3 748.6,626.9 749.3,622.3 750.0,637.7 750.8,610.8 751.5,620.4 752.3,618.5 753.0,586.0 753.8,630.7 754.5,608.6 755.2,620.1 756.0,614.2 756.7,600.6 757.5,633.4 758.2,614.2 759.0,645.4 759.7,634.7 760.5,651.2 761.2,636.6 761.9,655.7 762.7,644.8 763.4,612.2 764.2,620.8 764.9,611.6 765.7,610.3 766.4,585.9 767.1,620.3 767.9,634.5 768.6,628.9 769.4,621.8 770.1,642.4 770.9,652.3 771.6,636.2 772.3,602.8 773.1,636.0 773.8,606.0 774.6,581.6 775.3,614.7 776.1,642.3 776.8,584.9 777.6,633.7 778.3,617.3 779.0,643.9 779.8,641.7 780.5,613.4 781.3,638.5 782.0,601.3 782.8,647.3 783.5,614.4" fill="none" stroke="#2b2bff" stroke-width="1.209" stroke-linejoin="round"/>
<polyline points="69.8,699.8 70.5,680.1 71.3,662.6 72.0,640.3 72.8,638.8 73.5,658.4 74.3,666.2 75.0,668.2 75.7,663.2 76.5,644.4 77.2,652.7 78.0,640.4 78.7,652.2 79.5,650.7 80.2,627.4 81.0,645.2 81.7,649.8 82.4,652.2 83.2,658.8 83.9,666.6 84.7,652.6 85.4,635.5 86.2,656.5 86.9,663.3 87.6,658.8 88.4,659.8 89.1,649.3 89.9,658.8 90.6,630.0 91.4,627.7 92.1,638.0 92.8,645.9 93.6,631.5 94.3,643.6 95.1,644.0 95.8,652.2 96.6,656.9 97.3,667.6 98.1,640.1 98.8,654.1 99.5,650.5 100.3,633.3 101.0,637.4 101.8,644.0 102.5,646.3 103.3,649.4 104.0,634.6 104.7,648.6 105.5,657.9 106.2,660.5 107.0,632.9 107.7,639.6 108.5,649.6 109.2,649.2 109.9,665.2 110.7,653.6 111.4,650.6 112.2,643.2 112.9,640.4 113.7,651.7 114.4,657.5 115.1,663.7 115.9,638.9 116.6,646.9 117.4,648.3 118.1,668.0 118.9,659.0 119.6,635.6 120.4,649.1 121.1,667.3 121.8,654.8 122.6,642.7 123.3,664.9 124.1,652.0 124.8,643.6 125.6,653.6 126.3,652.9 127.0,662.3 127.8,670.0 128.5,641.2 129.3,657.5 130.0,637.9 130.8,657.4 131.5,645.4 132.2,651.7 133.0,639.8 133.7,626.3 134.5,650.4 135.2,646.5 136.0,622.5 136.7,646.9 137.5,664.1 138.2,652.5 138.9,640.9 139.7,643.4 140.4,658.2 141.2,642.9 141.9,641.1 142.7,650.3 143.4,652.5 144.1,641.1 144.9,653.7 145.6,649.6 146.4,651.6 147.1,651.4 147.9,639.2 148.6,656.4 149.3,658.9 150.1,635.3 150.8,666.2 151.6,664.2 152.3,661.1 153.1,664.7 153.8,636.8 154.6,662.5 155.3,659.4 156.0,663.2 156.8,645.8 157.5,643.2 158.3,659.4 159.0,655.1 159.8,644.0 160.5,653.9 161.2,665.1 162.0,640.4 162.7,638.1 163.5,647.8 164.2,650.0 165.0,657.0 165.7,666.9 166.4,628.3 167.2,656.1 167.9,641.4 168.7,657.7 169.4,634.8 170.2,661.8 170.9,638.1 171.7,656.9 172.4,658.3 173.1,632.1 173.9,630.7 174.6,646.0 175.4,640.6 176.1,649.7 176.9,659.4 177.6,632.7 178.3,650.6 179.1,661.8 179.8,653.0 180.6,627.4 181.3,647.2 182.1,652.7 182.8,632.6 183.5,616.9 184.3,628.1 185.0,649.2 185.8,649.8 186.5,645.2 187.3,642.1 188.0,640.1 188.8,642.1 189.5,642.8 190.2,608.9 191.0,614.2 191.7,623.8 192.5,605.5 193.2,598.6 194.0,606.8 194.7,601.6 195.4,634.4 196.2,616.4 196.9,560.8 197.7,599.7 198.4,626.1 199.2,632.5 199.9,635.4 200.6,609.0 201.4,643.0 202.1,614.4 202.9,617.5 203.6,608.6 204.4,609.3 205.1,599.8 205.8,620.9 206.6,579.0 207.3,631.3 208.1,622.1 208.8,625.8 209.6,605.9 210.3,626.2 211.1,634.7 211.8,606.0 212.5,623.2 213.3,619.9 214.0,622.8 214.8,634.3 215.5,651.9 216.3,619.3 217.0,615.3 217.7,612.7 218.5,633.9 219.2,632.1 220.0,610.4 220.7,643.6 221.5,648.5 222.2,610.5 222.9,643.7 223.7,661.4 224.4,636.3 225.2,657.2 225.9,634.1 226.7,623.9 227.4,632.1 228.2,608.2 228.9,639.1 229.6,591.2 230.4,613.8 231.1,636.3 231.9,593.2 232.6,613.4 233.4,589.3 234.1,646.3 234.8,636.4 235.6,663.2 236.3,619.9 237.1,647.1 237.8,653.9 238.6,654.7 239.3,665.5 240.0,615.6 240.8,648.0 241.5,617.8 242.3,639.9 243.0,626.5 243.8,622.8 244.5,613.0 245.3,595.1 246.0,556.4 246.7,596.6 247.5,639.7 248.2,629.8 249.0,649.7 249.7,626.7 250.5,607.5 251.2,577.3 251.9,625.7 252.7,651.9 253.4,646.7 254.2,611.8 254.9,596.1 255.7,640.4 256.4,584.5 257.1,622.2 257.9,643.0 258.6,615.0 259.4,619.1 260.1,636.9 260.9,660.7 261.6,612.1 262.4,648.5 263.1,623.0 263.8,608.3 264.6,646.6 265.3,635.9 266.1,625.5 266.8,631.2 267.6,607.9 268.3,642.2 269.0,606.5 269.8,648.6 270.5,590.4 271.3,603.0 272.0,563.2 272.8,601.5 273.5,640.5 274.2,626.6 275.0,598.6 275.7,657.5 276.5,602.0 277.2,591.4 278.0,612.3 278.7,628.1 279.4,655.9 280.2,605.2 280.9,612.7 281.7,622.9 282.4,605.7 283.2,650.1 283.9,644.9 284.7,629.5 285.4,615.9 286.1,634.8 286.9,651.4 287.6,618.4 288.4,623.5 289.1,650.4 289.9,622.1 290.6,629.3 291.3,631.6 292.1,657.2 292.8,659.0 293.6,603.0 294.3,618.8 295.1,656.3 295.8,619.6 296.5,629.8 297.3,621.9 298.0,640.7 298.8,631.5 299.5,631.9 300.3,643.0 301.0,654.9 301.8,601.1 302.5,643.0 303.2,644.1 304.0,640.9 304.7,604.1 305.5,597.8 306.2,557.5 307.0,597.4 307.7,652.2 308.4,637.7 309.2,619.8 309.9,622.8 310.7,610.1 311.4,643.0 312.2,640.0 312.9,606.3 313.6,597.2 314.4,604.5 315.1,601.9 315.9,628.7 316.6,657.2 317.4,657.7 318.1,635.9 318.9,622.7 319.6,635.8 320.3,613.6 321.1,641.4 321.8,586.9 322.6,646.2 323.3,616.4 324.1,560.8 324.8,599.7 325.5,613.3 326.3,625.1 327.0,643.3 327.8,635.1 328.5,636.3 329.3,622.6 330.0,645.0 330.7,632.7 331.5,626.4 332.2,624.3 333.0,626.3 333.7,653.2 334.5,629.6 335.2,656.6 336.0,661.5 336.7,649.2 337.4,623.3 338.2,612.4 338.9,627.5 339.7,640.5 340.4,634.0 341.2,650.1 341.9,585.8 342.6,642.8 343.4,656.1 344.1,621.6 344.9,656.6 345.6,634.0 346.4,584.0 347.1,636.6 347.8,648.2 348.6,635.1 349.3,647.9 350.1,629.7 350.8,645.6 351.6,595.2 352.3,642.0 353.0,660.4 353.8,642.3 354.5,650.1 355.3,610.1 356.0,657.4 356.8,661.1 357.5,644.6 358.3,600.8 359.0,640.5 359.7,660.3 360.5,615.3 361.2,649.9 362.0,609.3 362.7,625.1 363.5,622.2 364.2,620.9 364.9,629.0 365.7,652.8 366.4,627.6 367.2,604.2 367.9,586.6 368.7,645.0 369.4,653.7 370.1,623.7 370.9,637.2 371.6,622.0 372.4,582.9 373.1,649.8 373.9,583.1 374.6,610.5 375.4,633.2 376.1,593.4 376.8,624.5 377.6,614.9 378.3,640.1 379.1,637.7 379.8,638.6 380.6,653.1 381.3,601.2 382.0,624.5 382.8,649.2 383.5,623.3 384.3,644.1 385.0,630.9 385.8,606.6 386.5,607.1 387.2,647.6 388.0,636.8 388.7,616.3 389.5,615.8 390.2,627.3 391.0,653.1 391.7,629.1 392.5,633.5 393.2,652.4 393.9,624.0 394.7,629.1 395.4,661.6 396.2,620.9 396.9,609.4 397.7,624.9 398.4,575.0 399.1,610.0 399.9,628.5 400.6,643.1 401.4,633.4 402.1,639.6 402.9,654.6 403.6,617.0 404.3,639.4 405.1,629.6 405.8,651.6 406.6,647.0 407.3,640.7 408.1,611.2 408.8,635.4 409.6,640.5 410.3,633.6 411.0,647.3 411.8,642.0 412.5,641.6 413.3,637.8 414.0,650.6 414.8,629.9 415.5,666.1 416.2,648.1 417.0,604.5 417.7,637.6 418.5,665.7 419.2,624.9 420.0,575.0 420.7,610.0 421.4,636.9 422.2,655.5 422.9,653.7 423.7,649.5 424.4,647.5 425.2,637.7 425.9,599.6 426.7,657.2 427.4,656.4 428.1,637.5 428.9,619.4 429.6,609.8 430.4,607.5 431.1,635.4 431.9,640.4 432.6,653.5 433.3,638.8 434.1,606.9 434.8,625.8 435.6,651.8 436.3,656.8 437.1,634.9 437.8,649.6 438.5,648.5 439.3,641.8 440.0,633.1 440.8,632.2 441.5,588.6 442.3,653.3 443.0,650.5 443.7,606.7 444.5,621.9 445.2,637.2 446.0,635.4 446.7,632.7 447.5,627.1 448.2,651.9 449.0,630.5 449.7,655.1 450.4,620.5 451.2,579.2 451.9,630.0 452.7,647.0 453.4,635.8 454.2,621.0 454.9,607.4 455.6,623.2 456.4,593.6 457.1,631.6 457.9,588.9 458.6,630.4 459.4,641.5 460.1,654.1 460.8,621.0 461.6,568.5 462.3,605.2 463.1,634.9 463.8,611.1 464.6,628.5 465.3,620.8 466.1,603.6 466.8,641.3 467.5,635.2 468.3,616.1 469.0,588.2 469.8,617.1 470.5,603.7 471.3,626.0 472.0,653.4 472.7,622.0 473.5,648.2 474.2,631.8 475.0,606.7 475.7,646.8 476.5,647.9 477.2,659.8 477.9,626.8 478.7,611.4 479.4,607.3 480.2,641.6 480.9,652.7 481.7,630.5 482.4,632.6 483.2,641.7 483.9,611.6 484.6,628.8 485.4,622.9 486.1,608.9 486.9,637.3 487.6,652.1 488.4,646.3 489.1,641.7 489.8,646.4 490.6,622.1 491.3,640.1 492.1,657.4 492.8,639.0 493.6,619.6 494.3,636.3 495.0,604.0 495.8,654.8 496.5,587.4 497.3,644.3 498.0,625.7 498.8,651.0 499.5,640.1 500.3,653.6 501.0,632.1 501.7,630.6 502.5,634.9 503.2,613.3 504.0,616.8 504.7,643.2 505.5,620.6 506.2,643.5 506.9,622.9 507.7,601.4 508.4,640.8 509.2,644.2 509.9,592.8 510.7,617.7 511.4,604.6 512.1,631.8 512.9,622.3 513.6,570.7 514.4,606.8 515.1,641.1 515.9,640.2 516.6,633.3 517.3,636.0 518.1,651.3 518.8,626.3 519.6,622.8 520.3,632.9 521.1,609.4 521.8,600.6 522.6,638.0 523.3,599.6 524.0,648.5 524.8,610.4 525.5,621.8 526.3,584.0 527.0,635.3 527.8,634.1 528.5,634.1 529.2,643.5 530.0,612.9 530.7,630.5 531.5,588.9 532.2,596.2 533.0,607.0 533.7,628.8 534.4,619.4 535.2,609.7 535.9,617.4 536.7,645.3 537.4,590.5 538.2,609.8 538.9,637.4 539.7,632.8 540.4,636.0 541.1,620.9 541.9,625.7 542.6,652.4 543.4,611.0 544.1,634.4 544.9,636.9 545.6,596.6 546.3,633.1 547.1,630.5 547.8,611.0 548.6,551.8 549.3,593.3 550.1,637.9 550.8,590.2 551.5,634.8 552.3,649.2 553.0,628.0 553.8,631.7 554.5,617.4 555.3,639.3 556.0,633.2 556.8,637.5 557.5,612.6 558.2,628.8 559.0,619.4 559.7,623.7 560.5,596.9 561.2,613.6 562.0,589.2 562.7,635.2 563.4,629.8 564.2,614.2 564.9,630.9 565.7,640.1 566.4,629.6 567.2,648.2 567.9,611.8 568.6,553.2 569.4,594.2 570.1,606.3 570.9,640.0 571.6,637.2 572.4,607.8 573.1,596.1 573.9,585.7 574.6,577.7 575.3,597.3 576.1,620.8 576.8,641.1 577.6,622.8 578.3,600.6 579.1,608.6 579.8,645.2 580.5,595.6 581.3,619.0 582.0,642.6 582.8,638.5 583.5,599.6 584.3,635.6 585.0,643.7 585.7,572.4 586.5,560.8 587.2,589.8 588.0,633.1 588.7,641.4 589.5,607.3 590.2,578.3 590.9,617.6 591.7,607.9 592.4,631.8 593.2,626.0 593.9,629.2 594.7,617.2 595.4,630.6 596.2,597.9 596.9,561.9 597.6,600.5 598.4,634.2 599.1,623.7 599.9,611.9 600.6,626.2 601.4,601.2 602.1,617.3 602.8,626.2 603.6,645.9 604.3,628.5 605.1,632.4 605.8,638.7 606.6,645.9 607.3,603.5 608.0,618.9 608.8,615.6 609.5,646.6 610.3,631.9 611.0,638.5 611.8,611.5 612.5,626.8 613.3,594.4 614.0,594.8 614.7,591.0 615.5,607.1 616.2,573.0 617.0,612.8 617.7,583.2 618.5,605.7 619.2,615.4 619.9,612.3 620.7,647.8 621.4,625.3 622.2,605.3 622.9,628.1 623.7,617.5 624.4,632.2 625.1,655.4 625.9,636.2 626.6,656.6 627.4,611.0 628.1,626.8 628.9,599.4 629.6,579.6 630.4,617.5 631.1,631.9 631.8,611.1 632.6,620.3 633.3,607.0 634.1,620.5 634.8,605.0 635.6,620.5 636.3,567.6 637.0,604.6 637.8,648.9 638.5,634.7 639.3,609.0 640.0,629.3 640.8,640.6 641.5,647.0 642.2,614.9 643.0,641.9 643.7,577.1 644.5,629.7 645.2,642.9 646.0,628.4 646.7,656.9 647.5,603.0 648.2,616.2 648.9,603.6 649.7,601.1 650.4,623.0 651.2,612.4 651.9,642.8 652.7,661.4 653.4,613.1 654.1,627.8 654.9,631.1 655.6,614.7 656.4,625.4 657.1,635.8 657.9,646.5 658.6,651.6 659.3,627.1 660.1,627.6 660.8,594.8 661.6,630.1 662.3,636.8 663.1,647.6 663.8,627.7 664.6,661.4 665.3,628.1 666.0,612.0 666.8,619.9 667.5,604.6 668.3,597.6 669.0,648.4 669.8,620.6 670.5,583.3 671.2,620.4 672.0,635.2 672.7,641.9 673.5,647.7 674.2,622.3 675.0,641.5 675.7,631.2 676.4,610.9 677.2,621.1 677.9,601.6 678.7,621.5 679.4,616.6 680.2,649.9 680.9,603.7 681.6,609.6 682.4,626.1 683.1,613.3 683.9,631.8 684.6,655.5 685.4,642.5 686.1,601.7 686.9,607.7 687.6,639.7 688.3,628.3 689.1,619.2 689.8,609.2 690.6,626.2 691.3,611.8 692.1,600.1 692.8,632.6 693.5,625.7 694.3,641.6 695.0,652.0 695.8,644.9 696.5,653.9 697.3,650.3 698.0,650.3 698.7,639.4 699.5,643.2 700.2,651.8 701.0,633.1 701.7,637.8 702.5,599.6 703.2,641.5 704.0,644.9 704.7,623.6 705.4,639.8 706.2,655.8 706.9,593.1 707.7,643.1 708.4,644.8 709.2,625.2 709.9,593.9 710.6,627.0 711.4,621.2 712.1,647.5 712.9,636.2 713.6,590.7 714.4,636.0 715.1,653.0 715.8,627.3 716.6,627.0 717.3,638.6 718.1,631.1 718.8,621.9 719.6,594.4 720.3,630.4 721.1,633.1 721.8,647.7 722.5,656.3 723.3,650.1 724.0,618.5 724.8,631.3 725.5,643.5 726.3,641.3 727.0,642.0 727.7,599.2 728.5,617.0 729.2,627.5 730.0,649.2 730.7,645.4 731.5,644.1 732.2,644.3 732.9,587.6 733.7,636.0 734.4,645.3 735.2,609.6 735.9,629.0 736.7,576.4 737.4,589.5 738.2,604.8 738.9,626.4 739.6,639.6 740.4,655.3 741.1,599.1 741.9,632.5 742.6,611.0 743.4,551.8 744.1,593.3 744.8,612.6 745.6,607.3 746.3,640.9 747.1,626.0 747.8,617.3 748.6,626.9 749.3,622.3 750.0,637.7 750.8,610.8 751.5,620.4 752.3,618.5 753.0,586.0 753.8,630.7 754.5,608.6 755.2,620.1 756.0,614.2 756.7,600.6 757.5,633.4 758.2,614.2 759.0,645.4 759.7,634.7 760.5,651.2 761.2,636.6 761.9,655.7 762.7,644.8 763.4,612.2 764.2,620.8 764.9,611.6 765.7,610.3 766.4,585.9 767.1,620.3 767.9,634.5 768.6,628.9 769.4,621.8 770.1,642.4 770.9,652.3 771.6,636.2 772.3,602.8 773.1,636.0 773.8,606.0 774.6,581.6 775.3,614.7 776.1,642.3 776.8,584.9 777.6,633.7 778.3,617.3 779.0,643.9 779.8,641.7 780.5,613.4 781.3,638.5 782.0,601.3 782.8,647.3 783.5,614.4" fill="none" stroke="#ff00ff" stroke-width="1.3" stroke-linejoin="round"/>
<line x1="69.8" y1="600.4" x2="783.5" y2="600.4" stroke="#4a4aff" stroke-width="1.2" stroke-dasharray="8,5"/>
<line x1="69.8" y1="600.9" x2="783.5" y2="600.9" stroke="#ff00ff" stroke-width="1.0" stroke-dasharray="7,3,2,3" opacity="0.8"/>
<line x1="188.8" y1="524.0" x2="188.8" y2="699.8" stroke="#444" stroke-width="1.2" stroke-dasharray="9,5.5" stroke-dashoffset="6"/>
<path d="M69.8,524.7 V699.8 H783.5" fill="none" stroke="#6e6e6e" stroke-width="1.5"/>
<line x1="69.8" y1="699.8" x2="74.8" y2="699.8" stroke="#6e6e6e" stroke-width="1.3"/>
<text x="66.3" y="700.3" font-size="21" text-anchor="end" dominant-baseline="central">0</text>
<line x1="69.8" y1="656.0" x2="74.8" y2="656.0" stroke="#6e6e6e" stroke-width="1.3"/>
<text x="66.3" y="656.5" font-size="21" text-anchor="end" dominant-baseline="central">20</text>
<line x1="69.8" y1="612.2" x2="74.8" y2="612.2" stroke="#6e6e6e" stroke-width="1.3"/>
<text x="66.3" y="612.8" font-size="21" text-anchor="end" dominant-baseline="central">40</text>
<line x1="69.8" y1="568.5" x2="74.8" y2="568.5" stroke="#6e6e6e" stroke-width="1.3"/>
<text x="66.3" y="569.0" font-size="21" text-anchor="end" dominant-baseline="central">60</text>
<line x1="69.8" y1="524.7" x2="74.8" y2="524.7" stroke="#6e6e6e" stroke-width="1.3"/>
<text x="66.3" y="525.2" font-size="21" text-anchor="end" dominant-baseline="central">80</text>
<text x="71.8" y="726.2" font-size="21" text-anchor="middle">0</text>
<line x1="144.1" y1="699.8" x2="144.1" y2="694.8" stroke="#6e6e6e" stroke-width="1.3"/>
<text x="144.1" y="726.2" font-size="21" text-anchor="middle">100</text>
<line x1="218.5" y1="699.8" x2="218.5" y2="694.8" stroke="#6e6e6e" stroke-width="1.3"/>
<text x="218.5" y="726.2" font-size="21" text-anchor="middle">200</text>
<line x1="292.8" y1="699.8" x2="292.8" y2="694.8" stroke="#6e6e6e" stroke-width="1.3"/>
<text x="292.8" y="726.2" font-size="21" text-anchor="middle">300</text>
<line x1="367.2" y1="699.8" x2="367.2" y2="694.8" stroke="#6e6e6e" stroke-width="1.3"/>
<text x="367.2" y="726.2" font-size="21" text-anchor="middle">400</text>
<line x1="441.5" y1="699.8" x2="441.5" y2="694.8" stroke="#6e6e6e" stroke-width="1.3"/>
<text x="441.5" y="726.2" font-size="21" text-anchor="middle">500</text>
<line x1="515.9" y1="699.8" x2="515.9" y2="694.8" stroke="#6e6e6e" stroke-width="1.3"/>
<text x="515.9" y="726.2" font-size="21" text-anchor="middle">600</text>
<line x1="590.2" y1="699.8" x2="590.2" y2="694.8" stroke="#6e6e6e" stroke-width="1.3"/>
<text x="590.2" y="726.2" font-size="21" text-anchor="middle">700</text>
<line x1="664.6" y1="699.8" x2="664.6" y2="694.8" stroke="#6e6e6e" stroke-width="1.3"/>
<text x="664.6" y="726.2" font-size="21" text-anchor="middle">800</text>
<line x1="738.9" y1="699.8" x2="738.9" y2="694.8" stroke="#6e6e6e" stroke-width="1.3"/>
<text x="738.9" y="726.2" font-size="21" text-anchor="middle">900</text>
<text x="782.5" y="726.2" font-size="21" text-anchor="middle">960</text>
<text x="426.6" y="750.6" font-size="21.5" text-anchor="middle" stroke="#111" stroke-width="0.3">Sample</text>
<text transform="translate(28.5,612.2) rotate(-90)" font-size="18.5" text-anchor="middle">T<tspan font-size="11.5" dy="-7.4">2</tspan></text>
<rect x="77.8" y="530.3" width="105.8" height="103.9" fill="#fff" stroke="#6a6a6a" stroke-width="1.6"/>
<line x1="83.1" y1="545.7" x2="136.2" y2="545.7" stroke="#5a5ae0" stroke-width="1.4"/>
<line x1="83.1" y1="569.7" x2="136.2" y2="569.7" stroke="#ff40f0" stroke-width="1.4"/>
<line x1="83.1" y1="595.6" x2="136.2" y2="595.6" stroke="#5a5ae0" stroke-width="1.5" stroke-dasharray="11.9,7.5"/>
<line x1="83.1" y1="620.2" x2="136.2" y2="620.2" stroke="#ff50f0" stroke-width="1.4" stroke-dasharray="9,5,2,5"/>
<text x="142.9" y="549.9" font-size="19.0" font-style="italic">T</text>
<text x="157.1" y="543.2" font-size="12.4">2</text>
<line x1="144.6" y1="553.7" x2="154.9" y2="553.7" stroke="#3a3a3a" stroke-width="1.4"/>
<line x1="146.0" y1="561.4" x2="156.5" y2="561.4" stroke="#3a3a3a" stroke-width="1.4"/>
<text x="144.4" y="577.6" font-size="19.0" font-style="italic">T</text>
<text x="158.2" y="564.6" font-size="12.4">2</text>
<text x="141.6" y="597.9" font-size="19.0" font-style="italic">T</text>
<text x="155.0" y="590.5" font-size="12.4">2</text>
<text x="153.9" y="601.3" font-size="11.6" font-style="italic">UCL</text>
<line x1="142.5" y1="600.7" x2="153.1" y2="600.7" stroke="#3a3a3a" stroke-width="1.4"/>
<line x1="141.4" y1="612.0" x2="152.0" y2="612.0" stroke="#3a3a3a" stroke-width="1.4"/>
<text x="153.9" y="614.3" font-size="12.4">2</text>
<text x="140.2" y="627.2" font-size="19.0" font-style="italic">T</text>
<text x="152.7" y="631.2" font-size="11.6" font-style="italic">UCL</text>
<text x="245.1" y="547.6" font-size="21" stroke="#111" stroke-width="0.55">Fault start</text>
<line x1="239.2" y1="541.9" x2="198.4" y2="578.5" stroke="#222" stroke-width="1.3"/>
<polygon points="189.1,586.9 194.9,574.7 201.9,582.4" fill="#000"/>
<polyline points="70.0,940.7 70.7,926.1 71.5,906.1 72.2,909.0 73.0,923.5 73.7,907.2 74.5,896.7 75.2,904.5 75.9,904.1 76.7,892.2 77.4,911.9 78.2,918.1 78.9,916.5 79.7,900.6 80.4,914.2 81.1,903.9 81.9,915.7 82.6,910.0 83.4,907.8 84.1,888.6 84.9,885.6 85.6,907.7 86.4,901.7 87.1,916.8 87.8,894.7 88.6,907.9 89.3,893.6 90.1,913.2 90.8,905.8 91.6,912.5 92.3,915.8 93.0,925.1 93.8,911.1 94.5,898.5 95.3,898.1 96.0,911.9 96.8,897.0 97.5,893.7 98.2,909.7 99.0,915.2 99.7,894.4 100.5,893.8 101.2,896.4 102.0,891.0 102.7,910.2 103.4,906.1 104.2,907.1 104.9,913.8 105.7,911.7 106.4,903.2 107.2,913.9 107.9,915.7 108.6,903.7 109.4,912.7 110.1,910.4 110.9,891.2 111.6,897.8 112.4,909.7 113.1,917.3 113.9,909.4 114.6,895.8 115.3,912.4 116.1,912.3 116.8,909.9 117.6,914.3 118.3,906.7 119.1,899.4 119.8,892.4 120.5,901.8 121.3,897.3 122.0,903.5 122.8,911.0 123.5,902.9 124.3,910.1 125.0,914.7 125.7,901.0 126.5,920.5 127.2,918.7 128.0,921.2 128.7,915.7 129.5,897.5 130.2,907.7 130.9,915.3 131.7,903.3 132.4,916.0 133.2,917.8 133.9,905.4 134.7,901.1 135.4,915.4 136.1,902.5 136.9,921.8 137.6,911.0 138.4,907.3 139.1,921.5 139.9,927.6 140.6,925.2 141.4,926.2 142.1,906.1 142.8,918.1 143.6,918.5 144.3,917.1 145.1,913.5 145.8,921.3 146.6,922.2 147.3,910.8 148.0,913.5 148.8,910.0 149.5,919.4 150.3,909.1 151.0,923.2 151.8,906.2 152.5,911.8 153.2,901.4 154.0,917.2 154.7,909.2 155.5,912.6 156.2,912.8 157.0,918.1 157.7,900.3 158.4,902.9 159.2,906.5 159.9,913.4 160.7,926.1 161.4,910.5 162.2,921.4 162.9,905.2 163.6,901.6 164.4,913.1 165.1,920.6 165.9,919.4 166.6,926.5 167.4,909.8 168.1,920.1 168.8,904.6 169.6,907.1 170.3,907.6 171.1,892.4 171.8,909.5 172.6,912.2 173.3,903.4 174.1,903.1 174.8,903.8 175.5,919.1 176.3,907.1 177.0,907.1 177.8,884.9 178.5,899.3 179.3,902.6 180.0,910.7 180.7,916.1 181.5,906.0 182.2,922.1 183.0,914.0 183.7,888.6 184.5,915.3 185.2,891.3 185.9,897.1 186.7,913.6 187.4,913.9 188.2,909.0 188.9,901.9 189.7,917.5 190.4,875.3 191.1,906.7 191.9,905.8 192.6,889.6 193.4,863.7 194.1,889.1 194.9,892.8 195.6,897.7 196.3,887.3 197.1,908.3 197.8,917.8 198.6,879.0 199.3,873.3 200.1,894.3 200.8,907.0 201.6,906.9 202.3,885.1 203.0,892.2 203.8,883.2 204.5,873.4 205.3,904.2 206.0,896.1 206.8,865.4 207.5,877.5 208.2,886.5 209.0,879.3 209.7,838.4 210.5,867.0 211.2,878.4 212.0,848.4 212.7,912.7 213.4,914.7 214.2,876.4 214.9,896.6 215.7,906.1 216.4,911.7 217.2,902.6 217.9,890.8 218.6,909.2 219.4,916.2 220.1,905.9 220.9,900.4 221.6,886.6 222.4,889.7 223.1,857.7 223.8,880.9 224.6,885.6 225.3,878.6 226.1,905.6 226.8,880.2 227.6,901.0 228.3,902.8 229.1,892.0 229.8,906.0 230.5,895.0 231.3,903.7 232.0,866.5 232.8,817.0 233.5,851.7 234.3,884.4 235.0,892.1 235.7,909.7 236.5,919.2 237.2,916.7 238.0,867.7 238.7,888.9 239.5,905.8 240.2,908.1 240.9,912.9 241.7,892.4 242.4,887.1 243.2,909.4 243.9,905.5 244.7,910.8 245.4,897.7 246.1,870.8 246.9,869.1 247.6,882.8 248.4,844.2 249.1,871.2 249.9,890.3 250.6,895.4 251.3,872.2 252.1,880.2 252.8,900.0 253.6,892.0 254.3,893.9 255.1,895.0 255.8,889.1 256.6,869.6 257.3,897.9 258.0,915.1 258.8,888.7 259.5,870.6 260.3,905.8 261.0,887.3 261.8,911.8 262.5,876.5 263.2,904.1 264.0,908.6 264.7,886.7 265.5,908.6 266.2,881.3 267.0,881.1 267.7,911.9 268.4,920.8 269.2,885.3 269.9,865.8 270.7,875.4 271.4,889.9 272.2,879.5 272.9,868.1 273.6,902.8 274.4,899.0 275.1,916.3 275.9,885.4 276.6,891.0 277.4,872.7 278.1,866.4 278.8,906.8 279.6,902.8 280.3,881.0 281.1,871.1 281.8,867.4 282.6,889.4 283.3,904.2 284.1,917.3 284.8,899.8 285.5,909.1 286.3,901.9 287.0,876.2 287.8,876.7 288.5,894.0 289.3,893.0 290.0,869.2 290.7,886.3 291.5,887.0 292.2,903.6 293.0,906.9 293.7,866.1 294.5,858.2 295.2,889.2 295.9,905.4 296.7,896.6 297.4,888.3 298.2,900.4 298.9,904.1 299.7,887.5 300.4,865.7 301.1,883.2 301.9,894.3 302.6,909.7 303.4,871.7 304.1,894.2 304.9,888.8 305.6,887.6 306.3,852.1 307.1,876.9 307.8,892.6 308.6,888.7 309.3,900.4 310.1,878.0 310.8,899.8 311.5,887.3 312.3,907.6 313.0,912.9 313.8,904.5 314.5,893.0 315.3,897.8 316.0,886.5 316.8,903.3 317.5,877.7 318.2,889.0 319.0,893.9 319.7,876.8 320.5,913.5 321.2,901.1 322.0,895.2 322.7,886.4 323.4,896.1 324.2,878.5 324.9,906.9 325.7,880.2 326.4,861.1 327.2,808.0 327.9,845.1 328.6,886.4 329.4,893.7 330.1,889.1 330.9,880.0 331.6,908.4 332.4,897.9 333.1,892.1 333.8,914.8 334.6,922.9 335.3,889.6 336.1,891.6 336.8,897.3 337.6,914.0 338.3,878.3 339.0,868.1 339.8,859.9 340.5,891.3 341.3,904.9 342.0,918.3 342.8,910.5 343.5,915.5 344.3,907.5 345.0,898.8 345.7,906.0 346.5,875.4 347.2,891.3 348.0,916.1 348.7,902.1 349.5,903.8 350.2,887.6 350.9,859.4 351.7,882.2 352.4,889.8 353.2,893.4 353.9,914.6 354.7,909.6 355.4,890.0 356.1,907.3 356.9,908.5 357.6,897.3 358.4,869.4 359.1,913.1 359.9,892.4 360.6,902.0 361.3,864.9 362.1,888.6 362.8,914.0 363.6,916.0 364.3,920.2 365.1,917.9 365.8,875.0 366.5,906.8 367.3,895.1 368.0,907.4 368.8,873.8 369.5,893.5 370.3,912.8 371.0,884.8 371.8,851.0 372.5,876.1 373.2,896.1 374.0,914.0 374.7,877.0 375.5,864.2 376.2,898.0 377.0,876.0 377.7,890.2 378.4,893.4 379.2,901.5 379.9,910.4 380.7,911.6 381.4,887.0 382.2,872.2 382.9,883.9 383.6,890.8 384.4,875.3 385.1,915.1 385.9,895.2 386.6,881.4 387.4,903.6 388.1,867.3 388.8,889.3 389.6,909.8 390.3,918.2 391.1,895.3 391.8,913.4 392.6,909.2 393.3,911.9 394.0,878.2 394.8,900.5 395.5,902.1 396.3,878.3 397.0,894.8 397.8,881.0 398.5,883.8 399.3,847.2 400.0,873.3 400.7,881.1 401.5,892.6 402.2,899.7 403.0,872.1 403.7,897.4 404.5,889.7 405.2,887.6 405.9,881.8 406.7,866.9 407.4,907.7 408.2,885.4 408.9,910.0 409.7,901.0 410.4,896.1 411.1,917.9 411.9,900.3 412.6,917.7 413.4,903.9 414.1,899.4 414.9,892.0 415.6,874.2 416.3,883.6 417.1,910.9 417.8,915.1 418.6,870.3 419.3,872.8 420.1,890.2 420.8,902.9 421.5,896.0 422.3,918.5 423.0,897.7 423.8,898.6 424.5,910.9 425.3,904.0 426.0,902.3 426.8,923.6 427.5,878.3 428.2,883.5 429.0,889.5 429.7,896.4 430.5,896.7 431.2,902.9 432.0,902.0 432.7,895.0 433.4,867.2 434.2,888.8 434.9,919.7 435.7,905.6 436.4,907.6 437.2,908.1 437.9,924.4 438.6,902.1 439.4,888.0 440.1,905.4 440.9,908.0 441.6,898.5 442.4,919.1 443.1,896.5 443.8,912.3 444.6,899.9 445.3,877.2 446.1,901.8 446.8,906.2 447.6,915.6 448.3,891.0 449.0,914.4 449.8,917.8 450.5,916.4 451.3,912.0 452.0,877.6 452.8,905.6 453.5,919.1 454.2,920.5 455.0,916.1 455.7,907.3 456.5,893.6 457.2,900.2 458.0,925.1 458.7,900.9 459.5,895.9 460.2,878.8 460.9,925.0 461.7,893.3 462.4,925.1 463.2,911.8 463.9,908.4 464.7,862.0 465.4,921.4 466.1,922.4 466.9,888.6 467.6,918.3 468.4,929.3 469.1,894.1 469.9,905.7 470.6,917.6 471.3,875.1 472.1,886.5 472.8,898.3 473.6,907.9 474.3,914.0 475.1,901.6 475.8,903.2 476.5,915.1 477.3,923.3 478.0,911.4 478.8,914.6 479.5,922.6 480.3,899.2 481.0,875.3 481.7,910.4 482.5,906.3 483.2,924.5 484.0,920.6 484.7,886.3 485.5,925.0 486.2,910.4 487.0,881.3 487.7,910.1 488.4,923.5 489.2,895.2 489.9,900.4 490.7,903.2 491.4,891.7 492.2,917.1 492.9,920.1 493.6,896.3 494.4,875.2 495.1,895.8 495.9,885.0 496.6,883.4 497.4,873.3 498.1,911.3 498.8,896.1 499.6,926.2 500.3,895.0 501.1,895.7 501.8,907.4 502.6,879.9 503.3,845.4 504.0,872.1 504.8,882.2 505.5,921.6 506.3,902.8 507.0,908.3 507.8,909.2 508.5,919.1 509.2,887.7 510.0,899.2 510.7,905.8 511.5,921.6 512.2,897.1 513.0,911.0 513.7,915.0 514.5,927.6 515.2,919.3 515.9,894.6 516.7,867.7 517.4,918.3 518.2,906.1 518.9,872.7 519.7,882.7 520.4,916.2 521.1,905.0 521.9,895.7 522.6,913.0 523.4,922.5 524.1,903.6 524.9,899.0 525.6,870.2 526.3,894.4 527.1,873.3 527.8,869.5 528.6,899.5 529.3,884.1 530.1,868.2 530.8,909.5 531.5,916.5 532.3,909.2 533.0,885.6 533.8,875.5 534.5,912.5 535.3,920.7 536.0,912.1 536.7,892.3 537.5,912.6 538.2,877.7 539.0,916.8 539.7,914.1 540.5,902.4 541.2,903.4 542.0,861.1 542.7,861.0 543.4,875.8 544.2,895.5 544.9,913.4 545.7,893.1 546.4,891.4 547.2,901.5 547.9,896.6 548.6,882.8 549.4,870.9 550.1,902.5 550.9,879.9 551.6,894.3 552.4,909.6 553.1,909.9 553.8,902.9 554.6,877.5 555.3,890.9 556.1,866.1 556.8,893.6 557.6,883.9 558.3,877.7 559.0,871.8 559.8,876.5 560.5,911.9 561.3,873.3 562.0,828.4 562.8,859.9 563.5,893.2 564.2,904.4 565.0,906.0 565.7,895.1 566.5,878.5 567.2,899.3 568.0,886.2 568.7,884.4 569.5,882.9 570.2,910.9 570.9,879.6 571.7,858.7 572.4,857.0 573.2,871.0 573.9,912.0 574.7,897.9 575.4,869.1 576.1,896.9 576.9,897.5 577.6,891.9 578.4,895.1 579.1,892.8 579.9,866.1 580.6,900.9 581.3,871.6 582.1,882.1 582.8,899.7 583.6,902.1 584.3,913.6 585.1,880.4 585.8,905.1 586.5,879.4 587.3,895.8 588.0,903.0 588.8,896.7 589.5,894.3 590.3,870.6 591.0,886.3 591.7,879.2 592.5,864.5 593.2,885.3 594.0,887.9 594.7,914.5 595.5,881.1 596.2,841.3 596.9,869.1 597.7,897.5 598.4,901.1 599.2,902.9 599.9,899.8 600.7,905.7 601.4,903.4 602.2,887.2 602.9,898.3 603.6,904.7 604.4,906.4 605.1,900.4 605.9,911.6 606.6,901.4 607.4,901.1 608.1,891.6 608.8,874.0 609.6,829.6 610.3,860.7 611.1,884.8 611.8,882.4 612.6,899.2 613.3,892.4 614.0,908.5 614.8,885.9 615.5,905.0 616.3,884.8 617.0,903.4 617.8,859.2 618.5,894.4 619.2,904.7 620.0,913.3 620.7,889.8 621.5,908.4 622.2,906.3 623.0,905.7 623.7,892.5 624.4,880.3 625.2,896.0 625.9,917.0 626.7,875.8 627.4,832.5 628.2,862.8 628.9,896.9 629.7,885.9 630.4,899.8 631.1,904.7 631.9,903.4 632.6,894.5 633.4,873.9 634.1,893.3 634.9,899.7 635.6,893.2 636.3,901.9 637.1,898.4 637.8,904.0 638.6,876.9 639.3,898.0 640.1,909.3 640.8,876.6 641.5,892.2 642.3,913.0 643.0,915.5 643.8,891.1 644.5,854.5 645.3,860.4 646.0,806.8 646.7,844.3 647.5,890.4 648.2,872.4 649.0,892.7 649.7,912.2 650.5,909.6 651.2,914.7 651.9,906.9 652.7,910.5 653.4,916.8 654.2,894.0 654.9,910.9 655.7,893.0 656.4,913.5 657.2,900.2 657.9,882.5 658.6,898.7 659.4,904.2 660.1,900.2 660.9,891.5 661.6,868.2 662.4,905.5 663.1,901.3 663.8,902.3 664.6,873.3 665.3,828.4 666.1,859.9 666.8,908.8 667.6,875.9 668.3,861.6 669.0,879.8 669.8,897.1 670.5,904.4 671.3,901.9 672.0,863.4 672.8,854.8 673.5,885.0 674.2,914.7 675.0,920.9 675.7,911.9 676.5,888.1 677.2,892.6 678.0,904.1 678.7,915.4 679.4,884.4 680.2,896.1 680.9,907.0 681.7,875.0 682.4,903.8 683.2,881.0 683.9,865.1 684.7,908.5 685.4,915.6 686.1,896.0 686.9,906.0 687.6,889.1 688.4,895.6 689.1,868.3 689.9,891.2 690.6,895.9 691.3,917.3 692.1,924.4 692.8,861.4 693.6,873.4 694.3,873.6 695.1,911.4 695.8,906.1 696.5,888.9 697.3,883.2 698.0,908.9 698.8,907.4 699.5,883.0 700.3,887.4 701.0,914.1 701.7,877.7 702.5,901.4 703.2,911.4 704.0,887.9 704.7,911.3 705.5,902.0 706.2,906.2 706.9,877.1 707.7,904.5 708.4,904.0 709.2,914.9 709.9,912.0 710.7,906.3 711.4,892.9 712.2,887.5 712.9,896.3 713.6,901.3 714.4,912.0 715.1,898.9 715.9,897.9 716.6,866.0 717.4,878.8 718.1,837.5 718.8,866.4 719.6,899.9 720.3,895.1 721.1,901.1 721.8,920.5 722.6,923.4 723.3,917.4 724.0,905.0 724.8,901.0 725.5,911.5 726.3,887.7 727.0,897.3 727.8,917.0 728.5,871.6 729.2,900.4 730.0,882.1 730.7,883.4 731.5,910.4 732.2,867.2 733.0,904.0 733.7,913.3 734.4,896.0 735.2,881.6 735.9,905.5 736.7,901.2 737.4,910.3 738.2,883.4 738.9,907.4 739.6,902.0 740.4,904.7 741.1,890.9 741.9,902.6 742.6,910.5 743.4,893.3 744.1,898.4 744.9,918.0 745.6,898.1 746.3,907.6 747.1,916.0 747.8,920.6 748.6,922.4 749.3,885.0 750.1,882.7 750.8,907.2 751.5,911.6 752.3,884.0 753.0,901.7 753.8,907.7 754.5,908.1 755.3,894.0 756.0,880.6 756.7,908.0 757.5,904.1 758.2,904.8 759.0,885.0 759.7,906.1 760.5,904.7 761.2,912.3 761.9,916.6 762.7,917.2 763.4,915.4 764.2,906.8 764.9,920.7 765.7,905.3 766.4,877.2 767.1,901.7 767.9,886.0 768.6,900.9 769.4,874.5 770.1,871.6 770.9,871.6 771.6,892.8 772.4,904.0 773.1,922.5 773.8,919.4 774.6,891.0 775.3,908.6 776.1,873.7 776.8,912.2 777.6,881.4 778.3,895.7 779.0,878.6 779.8,905.3 780.5,880.1 781.3,860.3 782.0,896.1 782.8,907.6 783.5,912.3" fill="none" stroke="#2b2bff" stroke-width="1.209" stroke-linejoin="round"/>
<polyline points="70.0,940.7 70.7,926.1 71.5,906.1 72.2,909.0 73.0,923.5 73.7,907.2 74.5,896.7 75.2,904.5 75.9,904.1 76.7,892.2 77.4,911.9 78.2,918.1 78.9,916.5 79.7,900.6 80.4,914.2 81.1,903.9 81.9,915.7 82.6,910.0 83.4,907.8 84.1,888.6 84.9,885.6 85.6,907.7 86.4,901.7 87.1,916.8 87.8,894.7 88.6,907.9 89.3,893.6 90.1,913.2 90.8,905.8 91.6,912.5 92.3,915.8 93.0,925.1 93.8,911.1 94.5,898.5 95.3,898.1 96.0,911.9 96.8,897.0 97.5,893.7 98.2,909.7 99.0,915.2 99.7,894.4 100.5,893.8 101.2,896.4 102.0,891.0 102.7,910.2 103.4,906.1 104.2,907.1 104.9,913.8 105.7,911.7 106.4,903.2 107.2,913.9 107.9,915.7 108.6,903.7 109.4,912.7 110.1,910.4 110.9,891.2 111.6,897.8 112.4,909.7 113.1,917.3 113.9,909.4 114.6,895.8 115.3,912.4 116.1,912.3 116.8,909.9 117.6,914.3 118.3,906.7 119.1,899.4 119.8,892.4 120.5,901.8 121.3,897.3 122.0,903.5 122.8,911.0 123.5,902.9 124.3,910.1 125.0,914.7 125.7,901.0 126.5,920.5 127.2,918.7 128.0,921.2 128.7,915.7 129.5,897.5 130.2,907.7 130.9,915.3 131.7,903.3 132.4,916.0 133.2,917.8 133.9,905.4 134.7,901.1 135.4,915.4 136.1,902.5 136.9,921.8 137.6,911.0 138.4,907.3 139.1,921.5 139.9,927.6 140.6,925.2 141.4,926.2 142.1,906.1 142.8,918.1 143.6,918.5 144.3,917.1 145.1,913.5 145.8,921.3 146.6,922.2 147.3,910.8 148.0,913.5 148.8,910.0 149.5,919.4 150.3,909.1 151.0,923.2 151.8,906.2 152.5,911.8 153.2,901.4 154.0,917.2 154.7,909.2 155.5,912.6 156.2,912.8 157.0,918.1 157.7,900.3 158.4,902.9 159.2,906.5 159.9,913.4 160.7,926.1 161.4,910.5 162.2,921.4 162.9,905.2 163.6,901.6 164.4,913.1 165.1,920.6 165.9,919.4 166.6,926.5 167.4,909.8 168.1,920.1 168.8,904.6 169.6,907.1 170.3,907.6 171.1,892.4 171.8,909.5 172.6,912.2 173.3,903.4 174.1,903.1 174.8,903.8 175.5,919.1 176.3,907.1 177.0,907.1 177.8,884.9 178.5,899.3 179.3,902.6 180.0,910.7 180.7,916.1 181.5,906.0 182.2,922.1 183.0,914.0 183.7,888.6 184.5,915.3 185.2,891.3 185.9,897.1 186.7,913.6 187.4,913.9 188.2,909.0 188.9,901.9 189.7,917.5 190.4,875.3 191.1,906.7 191.9,905.8 192.6,889.6 193.4,863.7 194.1,889.1 194.9,892.8 195.6,897.7 196.3,887.3 197.1,908.3 197.8,917.8 198.6,879.0 199.3,873.3 200.1,894.3 200.8,907.0 201.6,906.9 202.3,885.1 203.0,892.2 203.8,883.2 204.5,873.4 205.3,904.2 206.0,896.1 206.8,865.4 207.5,877.5 208.2,886.5 209.0,879.3 209.7,838.4 210.5,867.0 211.2,878.4 212.0,848.4 212.7,912.7 213.4,914.7 214.2,876.4 214.9,896.6 215.7,906.1 216.4,911.7 217.2,902.6 217.9,890.8 218.6,909.2 219.4,916.2 220.1,905.9 220.9,900.4 221.6,886.6 222.4,889.7 223.1,857.7 223.8,880.9 224.6,885.6 225.3,878.6 226.1,905.6 226.8,880.2 227.6,901.0 228.3,902.8 229.1,892.0 229.8,906.0 230.5,895.0 231.3,903.7 232.0,866.5 232.8,817.0 233.5,851.7 234.3,884.4 235.0,892.1 235.7,909.7 236.5,919.2 237.2,916.7 238.0,867.7 238.7,888.9 239.5,905.8 240.2,908.1 240.9,912.9 241.7,892.4 242.4,887.1 243.2,909.4 243.9,905.5 244.7,910.8 245.4,897.7 246.1,870.8 246.9,869.1 247.6,882.8 248.4,844.2 249.1,871.2 249.9,890.3 250.6,895.4 251.3,872.2 252.1,880.2 252.8,900.0 253.6,892.0 254.3,893.9 255.1,895.0 255.8,889.1 256.6,869.6 257.3,897.9 258.0,915.1 258.8,888.7 259.5,870.6 260.3,905.8 261.0,887.3 261.8,911.8 262.5,876.5 263.2,904.1 264.0,908.6 264.7,886.7 265.5,908.6 266.2,881.3 267.0,881.1 267.7,911.9 268.4,920.8 269.2,885.3 269.9,865.8 270.7,875.4 271.4,889.9 272.2,879.5 272.9,868.1 273.6,902.8 274.4,899.0 275.1,916.3 275.9,885.4 276.6,891.0 277.4,872.7 278.1,866.4 278.8,906.8 279.6,902.8 280.3,881.0 281.1,871.1 281.8,867.4 282.6,889.4 283.3,904.2 284.1,917.3 284.8,899.8 285.5,909.1 286.3,901.9 287.0,876.2 287.8,876.7 288.5,894.0 289.3,893.0 290.0,869.2 290.7,886.3 291.5,887.0 292.2,903.6 293.0,906.9 293.7,866.1 294.5,858.2 295.2,889.2 295.9,905.4 296.7,896.6 297.4,888.3 298.2,900.4 298.9,904.1 299.7,887.5 300.4,865.7 301.1,883.2 301.9,894.3 302.6,909.7 303.4,871.7 304.1,894.2 304.9,888.8 305.6,887.6 306.3,852.1 307.1,876.9 307.8,892.6 308.6,888.7 309.3,900.4 310.1,878.0 310.8,899.8 311.5,887.3 312.3,907.6 313.0,912.9 313.8,904.5 314.5,893.0 315.3,897.8 316.0,886.5 316.8,903.3 317.5,877.7 318.2,889.0 319.0,893.9 319.7,876.8 320.5,913.5 321.2,901.1 322.0,895.2 322.7,886.4 323.4,896.1 324.2,878.5 324.9,906.9 325.7,880.2 326.4,861.1 327.2,808.0 327.9,845.1 328.6,886.4 329.4,893.7 330.1,889.1 330.9,880.0 331.6,908.4 332.4,897.9 333.1,892.1 333.8,914.8 334.6,922.9 335.3,889.6 336.1,891.6 336.8,897.3 337.6,914.0 338.3,878.3 339.0,868.1 339.8,859.9 340.5,891.3 341.3,904.9 342.0,918.3 342.8,910.5 343.5,915.5 344.3,907.5 345.0,898.8 345.7,906.0 346.5,875.4 347.2,891.3 348.0,916.1 348.7,902.1 349.5,903.8 350.2,887.6 350.9,859.4 351.7,882.2 352.4,889.8 353.2,893.4 353.9,914.6 354.7,909.6 355.4,890.0 356.1,907.3 356.9,908.5 357.6,897.3 358.4,869.4 359.1,913.1 359.9,892.4 360.6,902.0 361.3,864.9 362.1,888.6 362.8,914.0 363.6,916.0 364.3,920.2 365.1,917.9 365.8,875.0 366.5,906.8 367.3,895.1 368.0,907.4 368.8,873.8 369.5,893.5 370.3,912.8 371.0,884.8 371.8,851.0 372.5,876.1 373.2,896.1 374.0,914.0 374.7,877.0 375.5,864.2 376.2,898.0 377.0,876.0 377.7,890.2 378.4,893.4 379.2,901.5 379.9,910.4 380.7,911.6 381.4,887.0 382.2,872.2 382.9,883.9 383.6,890.8 384.4,875.3 385.1,915.1 385.9,895.2 386.6,881.4 387.4,903.6 388.1,867.3 388.8,889.3 389.6,909.8 390.3,918.2 391.1,895.3 391.8,913.4 392.6,909.2 393.3,911.9 394.0,878.2 394.8,900.5 395.5,902.1 396.3,878.3 397.0,894.8 397.8,881.0 398.5,883.8 399.3,847.2 400.0,873.3 400.7,881.1 401.5,892.6 402.2,899.7 403.0,872.1 403.7,897.4 404.5,889.7 405.2,887.6 405.9,881.8 406.7,866.9 407.4,907.7 408.2,885.4 408.9,910.0 409.7,901.0 410.4,896.1 411.1,917.9 411.9,900.3 412.6,917.7 413.4,903.9 414.1,899.4 414.9,892.0 415.6,874.2 416.3,883.6 417.1,910.9 417.8,915.1 418.6,870.3 419.3,872.8 420.1,890.2 420.8,902.9 421.5,896.0 422.3,918.5 423.0,897.7 423.8,898.6 424.5,910.9 425.3,904.0 426.0,902.3 426.8,923.6 427.5,878.3 428.2,883.5 429.0,889.5 429.7,896.4 430.5,896.7 431.2,902.9 432.0,902.0 432.7,895.0 433.4,867.2 434.2,888.8 434.9,919.7 435.7,905.6 436.4,907.6 437.2,908.1 437.9,924.4 438.6,902.1 439.4,888.0 440.1,905.4 440.9,908.0 441.6,898.5 442.4,919.1 443.1,896.5 443.8,912.3 444.6,899.9 445.3,877.2 446.1,901.8 446.8,906.2 447.6,915.6 448.3,891.0 449.0,914.4 449.8,917.8 450.5,916.4 451.3,912.0 452.0,877.6 452.8,905.6 453.5,919.1 454.2,920.5 455.0,916.1 455.7,907.3 456.5,893.6 457.2,900.2 458.0,925.1 458.7,900.9 459.5,895.9 460.2,878.8 460.9,925.0 461.7,893.3 462.4,925.1 463.2,911.8 463.9,908.4 464.7,862.0 465.4,921.4 466.1,922.4 466.9,888.6 467.6,918.3 468.4,929.3 469.1,894.1 469.9,905.7 470.6,917.6 471.3,875.1 472.1,886.5 472.8,898.3 473.6,907.9 474.3,914.0 475.1,901.6 475.8,903.2 476.5,915.1 477.3,923.3 478.0,911.4 478.8,914.6 479.5,922.6 480.3,899.2 481.0,875.3 481.7,910.4 482.5,906.3 483.2,924.5 484.0,920.6 484.7,886.3 485.5,925.0 486.2,910.4 487.0,881.3 487.7,910.1 488.4,923.5 489.2,895.2 489.9,900.4 490.7,903.2 491.4,891.7 492.2,917.1 492.9,920.1 493.6,896.3 494.4,875.2 495.1,895.8 495.9,885.0 496.6,883.4 497.4,873.3 498.1,911.3 498.8,896.1 499.6,926.2 500.3,895.0 501.1,895.7 501.8,907.4 502.6,879.9 503.3,845.4 504.0,872.1 504.8,882.2 505.5,921.6 506.3,902.8 507.0,908.3 507.8,909.2 508.5,919.1 509.2,887.7 510.0,899.2 510.7,905.8 511.5,921.6 512.2,897.1 513.0,911.0 513.7,915.0 514.5,927.6 515.2,919.3 515.9,894.6 516.7,867.7 517.4,918.3 518.2,906.1 518.9,872.7 519.7,882.7 520.4,916.2 521.1,905.0 521.9,895.7 522.6,913.0 523.4,922.5 524.1,903.6 524.9,899.0 525.6,870.2 526.3,894.4 527.1,873.3 527.8,869.5 528.6,899.5 529.3,884.1 530.1,868.2 530.8,909.5 531.5,916.5 532.3,909.2 533.0,885.6 533.8,875.5 534.5,912.5 535.3,920.7 536.0,912.1 536.7,892.3 537.5,912.6 538.2,877.7 539.0,916.8 539.7,914.1 540.5,902.4 541.2,903.4 542.0,861.1 542.7,861.0 543.4,875.8 544.2,895.5 544.9,913.4 545.7,893.1 546.4,891.4 547.2,901.5 547.9,896.6 548.6,882.8 549.4,870.9 550.1,902.5 550.9,879.9 551.6,894.3 552.4,909.6 553.1,909.9 553.8,902.9 554.6,877.5 555.3,890.9 556.1,866.1 556.8,893.6 557.6,883.9 558.3,877.7 559.0,871.8 559.8,876.5 560.5,911.9 561.3,873.3 562.0,828.4 562.8,859.9 563.5,893.2 564.2,904.4 565.0,906.0 565.7,895.1 566.5,878.5 567.2,899.3 568.0,886.2 568.7,884.4 569.5,882.9 570.2,910.9 570.9,879.6 571.7,858.7 572.4,857.0 573.2,871.0 573.9,912.0 574.7,897.9 575.4,869.1 576.1,896.9 576.9,897.5 577.6,891.9 578.4,895.1 579.1,892.8 579.9,866.1 580.6,900.9 581.3,871.6 582.1,882.1 582.8,899.7 583.6,902.1 584.3,913.6 585.1,880.4 585.8,905.1 586.5,879.4 587.3,895.8 588.0,903.0 588.8,896.7 589.5,894.3 590.3,870.6 591.0,886.3 591.7,879.2 592.5,864.5 593.2,885.3 594.0,887.9 594.7,914.5 595.5,881.1 596.2,841.3 596.9,869.1 597.7,897.5 598.4,901.1 599.2,902.9 599.9,899.8 600.7,905.7 601.4,903.4 602.2,887.2 602.9,898.3 603.6,904.7 604.4,906.4 605.1,900.4 605.9,911.6 606.6,901.4 607.4,901.1 608.1,891.6 608.8,874.0 609.6,829.6 610.3,860.7 611.1,884.8 611.8,882.4 612.6,899.2 613.3,892.4 614.0,908.5 614.8,885.9 615.5,905.0 616.3,884.8 617.0,903.4 617.8,859.2 618.5,894.4 619.2,904.7 620.0,913.3 620.7,889.8 621.5,908.4 622.2,906.3 623.0,905.7 623.7,892.5 624.4,880.3 625.2,896.0 625.9,917.0 626.7,875.8 627.4,832.5 628.2,862.8 628.9,896.9 629.7,885.9 630.4,899.8 631.1,904.7 631.9,903.4 632.6,894.5 633.4,873.9 634.1,893.3 634.9,899.7 635.6,893.2 636.3,901.9 637.1,898.4 637.8,904.0 638.6,876.9 639.3,898.0 640.1,909.3 640.8,876.6 641.5,892.2 642.3,913.0 643.0,915.5 643.8,891.1 644.5,854.5 645.3,860.4 646.0,806.8 646.7,844.3 647.5,890.4 648.2,872.4 649.0,892.7 649.7,912.2 650.5,909.6 651.2,914.7 651.9,906.9 652.7,910.5 653.4,916.8 654.2,894.0 654.9,910.9 655.7,893.0 656.4,913.5 657.2,900.2 657.9,882.5 658.6,898.7 659.4,904.2 660.1,900.2 660.9,891.5 661.6,868.2 662.4,905.5 663.1,901.3 663.8,902.3 664.6,873.3 665.3,828.4 666.1,859.9 666.8,908.8 667.6,875.9 668.3,861.6 669.0,879.8 669.8,897.1 670.5,904.4 671.3,901.9 672.0,863.4 672.8,854.8 673.5,885.0 674.2,914.7 675.0,920.9 675.7,911.9 676.5,888.1 677.2,892.6 678.0,904.1 678.7,915.4 679.4,884.4 680.2,896.1 680.9,907.0 681.7,875.0 682.4,903.8 683.2,881.0 683.9,865.1 684.7,908.5 685.4,915.6 686.1,896.0 686.9,906.0 687.6,889.1 688.4,895.6 689.1,868.3 689.9,891.2 690.6,895.9 691.3,917.3 692.1,924.4 692.8,861.4 693.6,873.4 694.3,873.6 695.1,911.4 695.8,906.1 696.5,888.9 697.3,883.2 698.0,908.9 698.8,907.4 699.5,883.0 700.3,887.4 701.0,914.1 701.7,877.7 702.5,901.4 703.2,911.4 704.0,887.9 704.7,911.3 705.5,902.0 706.2,906.2 706.9,877.1 707.7,904.5 708.4,904.0 709.2,914.9 709.9,912.0 710.7,906.3 711.4,892.9 712.2,887.5 712.9,896.3 713.6,901.3 714.4,912.0 715.1,898.9 715.9,897.9 716.6,866.0 717.4,878.8 718.1,837.5 718.8,866.4 719.6,899.9 720.3,895.1 721.1,901.1 721.8,920.5 722.6,923.4 723.3,917.4 724.0,905.0 724.8,901.0 725.5,911.5 726.3,887.7 727.0,897.3 727.8,917.0 728.5,871.6 729.2,900.4 730.0,882.1 730.7,883.4 731.5,910.4 732.2,867.2 733.0,904.0 733.7,913.3 734.4,896.0 735.2,881.6 735.9,905.5 736.7,901.2 737.4,910.3 738.2,883.4 738.9,907.4 739.6,902.0 740.4,904.7 741.1,890.9 741.9,902.6 742.6,910.5 743.4,893.3 744.1,898.4 744.9,918.0 745.6,898.1 746.3,907.6 747.1,916.0 747.8,920.6 748.6,922.4 749.3,885.0 750.1,882.7 750.8,907.2 751.5,911.6 752.3,884.0 753.0,901.7 753.8,907.7 754.5,908.1 755.3,894.0 756.0,880.6 756.7,908.0 757.5,904.1 758.2,904.8 759.0,885.0 759.7,906.1 760.5,904.7 761.2,912.3 761.9,916.6 762.7,917.2 763.4,915.4 764.2,906.8 764.9,920.7 765.7,905.3 766.4,877.2 767.1,901.7 767.9,886.0 768.6,900.9 769.4,874.5 770.1,871.6 770.9,871.6 771.6,892.8 772.4,904.0 773.1,922.5 773.8,919.4 774.6,891.0 775.3,908.6 776.1,873.7 776.8,912.2 777.6,881.4 778.3,895.7 779.0,878.6 779.8,905.3 780.5,880.1 781.3,860.3 782.0,896.1 782.8,907.6 783.5,912.3" fill="none" stroke="#ff00ff" stroke-width="1.3" stroke-linejoin="round"/>
<line x1="70.0" y1="896.9" x2="783.5" y2="896.9" stroke="#4a4aff" stroke-width="1.2" stroke-dasharray="8,5"/>
<line x1="70.0" y1="897.4" x2="783.5" y2="897.4" stroke="#ff00ff" stroke-width="1.0" stroke-dasharray="7,3,2,3" opacity="0.8"/>
<line x1="188.9" y1="765.0" x2="188.9" y2="940.7" stroke="#444" stroke-width="1.2" stroke-dasharray="9,5.5" stroke-dashoffset="6"/>
<path d="M70.0,765.3 V940.7 H783.5" fill="none" stroke="#6e6e6e" stroke-width="1.5"/>
<line x1="70.0" y1="940.7" x2="75.0" y2="940.7" stroke="#6e6e6e" stroke-width="1.3"/>
<text x="66.5" y="941.2" font-size="21" text-anchor="end" dominant-baseline="central">0</text>
<line x1="70.0" y1="882.2" x2="75.0" y2="882.2" stroke="#6e6e6e" stroke-width="1.3"/>
<text x="66.5" y="882.7" font-size="21" text-anchor="end" dominant-baseline="central">20</text>
<line x1="70.0" y1="823.8" x2="75.0" y2="823.8" stroke="#6e6e6e" stroke-width="1.3"/>
<text x="66.5" y="824.3" font-size="21" text-anchor="end" dominant-baseline="central">40</text>
<line x1="70.0" y1="765.3" x2="75.0" y2="765.3" stroke="#6e6e6e" stroke-width="1.3"/>
<text x="66.5" y="765.8" font-size="21" text-anchor="end" dominant-baseline="central">60</text>
<text x="72.0" y="969.4" font-size="21" text-anchor="middle">0</text>
<line x1="144.3" y1="940.7" x2="144.3" y2="935.7" stroke="#6e6e6e" stroke-width="1.3"/>
<text x="144.3" y="969.4" font-size="21" text-anchor="middle">100</text>
<line x1="218.6" y1="940.7" x2="218.6" y2="935.7" stroke="#6e6e6e" stroke-width="1.3"/>
<text x="218.6" y="969.4" font-size="21" text-anchor="middle">200</text>
<line x1="293.0" y1="940.7" x2="293.0" y2="935.7" stroke="#6e6e6e" stroke-width="1.3"/>
<text x="293.0" y="969.4" font-size="21" text-anchor="middle">300</text>
<line x1="367.3" y1="940.7" x2="367.3" y2="935.7" stroke="#6e6e6e" stroke-width="1.3"/>
<text x="367.3" y="969.4" font-size="21" text-anchor="middle">400</text>
<line x1="441.6" y1="940.7" x2="441.6" y2="935.7" stroke="#6e6e6e" stroke-width="1.3"/>
<text x="441.6" y="969.4" font-size="21" text-anchor="middle">500</text>
<line x1="515.9" y1="940.7" x2="515.9" y2="935.7" stroke="#6e6e6e" stroke-width="1.3"/>
<text x="515.9" y="969.4" font-size="21" text-anchor="middle">600</text>
<line x1="590.3" y1="940.7" x2="590.3" y2="935.7" stroke="#6e6e6e" stroke-width="1.3"/>
<text x="590.3" y="969.4" font-size="21" text-anchor="middle">700</text>
<line x1="664.6" y1="940.7" x2="664.6" y2="935.7" stroke="#6e6e6e" stroke-width="1.3"/>
<text x="664.6" y="969.4" font-size="21" text-anchor="middle">800</text>
<line x1="738.9" y1="940.7" x2="738.9" y2="935.7" stroke="#6e6e6e" stroke-width="1.3"/>
<text x="738.9" y="969.4" font-size="21" text-anchor="middle">900</text>
<text x="782.5" y="969.4" font-size="21" text-anchor="middle">960</text>
<text x="426.8" y="994.6" font-size="21.5" text-anchor="middle" stroke="#111" stroke-width="0.3">Sample</text>
<text transform="translate(28.3,853.0) rotate(-90)" font-size="22" text-anchor="middle">SPE</text>
<rect x="77.8" y="771.1" width="105.8" height="105.1" fill="#fff" stroke="#6a6a6a" stroke-width="1.6"/>
<line x1="82.0" y1="786.3" x2="122.5" y2="786.3" stroke="#5a5ae0" stroke-width="1.4"/>
<line x1="82.0" y1="810.8" x2="122.5" y2="810.8" stroke="#ff40f0" stroke-width="1.4"/>
<line x1="82.0" y1="836.5" x2="122.5" y2="836.5" stroke="#5a5ae0" stroke-width="1.5" stroke-dasharray="11.9,7.6"/>
<line x1="82.0" y1="861.0" x2="122.5" y2="861.0" stroke="#ff50f0" stroke-width="1.4" stroke-dasharray="9,5,2,5"/>
<text x="126.8" y="790.2" font-size="18.2" font-style="italic">SPE</text>
<line x1="127.5" y1="795.0" x2="159.5" y2="795.0" stroke="#3a3a3a" stroke-width="1.4"/>
<line x1="127.5" y1="803.3" x2="159.5" y2="803.3" stroke="#3a3a3a" stroke-width="1.4"/>
<text x="126.8" y="819.2" font-size="18.2" font-style="italic">SPE</text>
<text x="125.6" y="841.0" font-size="18.2" font-style="italic">SPE</text>
<text x="157.9" y="846.1" font-size="11.6" font-style="italic">UCL</text>
<line x1="124.8" y1="845.2" x2="158.3" y2="845.2" stroke="#3a3a3a" stroke-width="1.4"/>
<line x1="124.1" y1="851.7" x2="156.7" y2="851.7" stroke="#3a3a3a" stroke-width="1.4"/>
<text x="124.5" y="867.7" font-size="18.2" font-style="italic">SPE</text>
<text x="156.2" y="872.7" font-size="11.6" font-style="italic">UCL</text>
<text x="245.1" y="791.5" font-size="21" stroke="#111" stroke-width="0.55">Fault start</text>
<line x1="239.7" y1="785.8" x2="198.6" y2="823.2" stroke="#222" stroke-width="1.3"/>
<polygon points="189.4,831.6 195.1,819.3 202.1,827.0" fill="#000"/>
<polyline points="860.3,685.7 861.0,681.7 861.8,682.3 862.5,678.5 863.3,681.3 864.0,682.4 864.8,683.2 865.5,677.4 866.3,681.1 867.0,677.1 867.8,673.0 868.5,675.0 869.3,681.2 870.0,674.1 870.8,680.9 871.5,679.6 872.3,676.2 873.0,681.9 873.8,681.8 874.5,677.0 875.3,677.0 876.0,678.1 876.8,674.4 877.5,678.5 878.3,668.2 879.0,684.1 879.8,677.8 880.5,682.4 881.3,676.2 882.0,679.2 882.8,681.5 883.5,669.4 884.2,673.0 885.0,675.6 885.7,680.1 886.5,680.9 887.2,675.8 888.0,679.1 888.7,682.7 889.5,674.3 890.2,681.1 891.0,674.0 891.7,673.4 892.5,683.4 893.2,678.8 894.0,681.0 894.7,682.6 895.5,678.3 896.2,679.5 897.0,671.0 897.7,674.7 898.5,673.3 899.2,681.3 900.0,682.4 900.7,676.2 901.5,675.4 902.2,677.8 903.0,682.7 903.7,668.5 904.5,674.0 905.2,678.0 905.9,680.7 906.7,675.0 907.4,681.8 908.2,682.4 908.9,684.6 909.7,679.2 910.4,678.8 911.2,678.2 911.9,682.7 912.7,683.3 913.4,677.1 914.2,675.7 914.9,684.5 915.7,676.0 916.4,682.3 917.2,677.8 917.9,686.4 918.7,672.2 919.4,672.5 920.2,677.4 920.9,680.5 921.7,678.1 922.4,681.9 923.2,681.3 923.9,676.2 924.7,683.3 925.4,679.7 926.2,676.1 926.9,680.3 927.6,677.3 928.4,677.0 929.1,672.4 929.9,676.9 930.6,678.7 931.4,670.2 932.1,672.5 932.9,678.2 933.6,677.1 934.4,675.0 935.1,682.1 935.9,678.9 936.6,683.4 937.4,678.3 938.1,669.9 938.9,678.7 939.6,672.9 940.4,684.4 941.1,677.5 941.9,682.0 942.6,681.2 943.4,681.7 944.1,675.9 944.9,679.7 945.6,680.5 946.4,677.9 947.1,678.3 947.9,683.1 948.6,674.7 949.4,679.9 950.1,674.0 950.8,676.7 951.6,683.8 952.3,679.1 953.1,674.6 953.8,677.7 954.6,677.3 955.3,678.8 956.1,668.1 956.8,680.6 957.6,677.7 958.3,680.7 959.1,681.2 959.8,677.9 960.6,681.5 961.3,683.5 962.1,677.6 962.8,681.8 963.6,674.9 964.3,680.2 965.1,684.7 965.8,672.2 966.6,681.7 967.3,675.5 968.1,678.6 968.8,681.6 969.6,682.9 970.3,683.6 971.1,682.1 971.8,683.1 972.5,680.9 973.3,684.1 974.0,675.2 974.8,677.0 975.5,678.4 976.3,669.8 977.0,676.9 977.8,678.7 978.5,681.2 979.3,681.6 980.0,677.3 980.8,638.1 981.5,651.1 982.3,590.3 983.0,620.4 983.8,571.4 984.5,575.8 985.3,615.6 986.0,572.6 986.8,661.9 987.5,671.4 988.3,640.0 989.0,622.6 989.8,668.8 990.5,603.7 991.3,596.7 992.0,619.1 992.8,622.7 993.5,601.4 994.3,645.6 995.0,621.4 995.7,600.0 996.5,621.9 997.2,645.7 998.0,623.4 998.7,626.9 999.5,561.2 1000.2,636.1 1001.0,583.7 1001.7,581.6 1002.5,643.0 1003.2,608.1 1004.0,605.2 1004.7,663.9 1005.5,631.9 1006.2,623.8 1007.0,605.9 1007.7,550.4 1008.5,572.6 1009.2,640.2 1010.0,624.0 1010.7,586.3 1011.5,577.6 1012.2,630.6 1013.0,605.7 1013.7,637.0 1014.5,547.7 1015.2,587.5 1016.0,608.1 1016.7,565.3 1017.4,627.5 1018.2,670.8 1018.9,651.8 1019.7,616.7 1020.4,571.8 1021.2,636.7 1021.9,676.7 1022.7,590.9 1023.4,651.3 1024.2,593.3 1024.9,649.3 1025.7,623.7 1026.4,659.8 1027.2,565.2 1027.9,658.8 1028.7,589.3 1029.4,623.3 1030.2,555.6 1030.9,632.6 1031.7,625.1 1032.4,564.8 1033.2,637.8 1033.9,672.1 1034.7,599.7 1035.4,608.5 1036.2,601.9 1036.9,542.7 1037.7,586.3 1038.4,659.2 1039.2,595.5 1039.9,571.0 1040.6,610.8 1041.4,639.9 1042.1,636.5 1042.9,637.4 1043.6,621.1 1044.4,670.7 1045.1,625.6 1045.9,618.9 1046.6,619.1 1047.4,601.8 1048.1,593.8 1048.9,574.3 1049.6,628.5 1050.4,618.9 1051.1,648.1 1051.9,646.1 1052.6,621.0 1053.4,666.1 1054.1,618.6 1054.9,657.7 1055.6,606.5 1056.4,645.3 1057.1,632.7 1057.9,594.1 1058.6,660.3 1059.4,607.1 1060.1,643.7 1060.9,618.1 1061.6,590.4 1062.3,595.8 1063.1,629.0 1063.8,542.9 1064.6,606.2 1065.3,653.6 1066.1,641.2 1066.8,591.8 1067.6,601.9 1068.3,646.5 1069.1,620.4 1069.8,597.6 1070.6,590.3 1071.3,582.5 1072.1,664.2 1072.8,655.4 1073.6,611.5 1074.3,614.2 1075.1,647.9 1075.8,622.7 1076.6,635.6 1077.3,633.4 1078.1,643.0 1078.8,600.7 1079.6,650.2 1080.3,610.7 1081.1,627.2 1081.8,632.9 1082.6,617.2 1083.3,625.3 1084.1,649.2 1084.8,604.4 1085.5,624.3 1086.3,622.5 1087.0,649.3 1087.8,613.3 1088.5,630.8 1089.3,634.8 1090.0,600.3 1090.8,617.9 1091.5,644.7 1092.3,636.7 1093.0,635.3 1093.8,599.8 1094.5,644.4 1095.3,633.2 1096.0,620.1 1096.8,635.2 1097.5,603.0 1098.3,635.8 1099.0,601.4 1099.8,624.6 1100.5,614.7 1101.3,628.1 1102.0,609.1 1102.8,651.6 1103.5,596.2 1104.3,624.1 1105.0,612.1 1105.8,653.5 1106.5,638.9 1107.2,607.6 1108.0,629.0 1108.7,627.4 1109.5,619.8 1110.2,593.6 1111.0,625.7 1111.7,611.9 1112.5,589.3 1113.2,577.0 1114.0,611.2 1114.7,548.8 1115.5,593.6 1116.2,605.2 1117.0,626.7 1117.7,618.7 1118.5,609.3 1119.2,623.7 1120.0,547.6 1120.7,635.4 1121.5,667.9 1122.2,594.4 1123.0,582.9 1123.7,550.1 1124.5,589.8 1125.2,634.8 1126.0,649.3 1126.7,636.0 1127.5,663.3 1128.2,671.0 1129.0,636.0 1129.7,643.6 1130.4,653.4 1131.2,663.5 1131.9,594.7 1132.7,667.0 1133.4,586.0 1134.2,633.5 1134.9,606.4 1135.7,633.1 1136.4,604.6 1137.2,563.0 1137.9,652.4 1138.7,558.2 1139.4,649.7 1140.2,616.9 1140.9,641.3 1141.7,654.9 1142.4,619.6 1143.2,663.2 1143.9,657.0 1144.7,625.4 1145.4,634.1 1146.2,621.1 1146.9,666.1 1147.7,597.0 1148.4,624.8 1149.2,566.3 1149.9,612.2 1150.7,641.0 1151.4,656.8 1152.2,598.6 1152.9,568.0 1153.6,574.6 1154.4,548.3 1155.1,556.6 1155.9,659.9 1156.6,583.6 1157.4,656.6 1158.1,610.7 1158.9,628.6 1159.6,648.9 1160.4,606.0 1161.1,675.1 1161.9,648.2 1162.6,647.1 1163.4,560.3 1164.1,553.5 1164.9,666.6 1165.6,642.1 1166.4,600.5 1167.1,586.3 1167.9,605.8 1168.6,551.2 1169.4,603.3 1170.1,607.5 1170.9,630.5 1171.6,627.2 1172.4,588.1 1173.1,657.1 1173.9,597.0 1174.6,652.5 1175.3,594.2 1176.1,674.7 1176.8,596.7 1177.6,662.0 1178.3,617.7 1179.1,601.6 1179.8,645.4 1180.6,596.2 1181.3,624.5 1182.1,632.7 1182.8,672.3 1183.6,603.8 1184.3,598.8 1185.1,602.1 1185.8,597.6 1186.6,609.0 1187.3,664.5 1188.1,666.7 1188.8,637.7 1189.6,586.0 1190.3,595.8 1191.1,645.9 1191.8,548.2 1192.6,628.0 1193.3,618.0 1194.1,603.1 1194.8,634.9 1195.6,617.8 1196.3,582.9 1197.0,586.7 1197.8,644.0 1198.5,592.6 1199.3,652.4 1200.0,653.5 1200.8,642.2 1201.5,629.9 1202.3,633.5 1203.0,608.5 1203.8,632.6 1204.5,653.4 1205.3,622.4 1206.0,640.0 1206.8,601.3 1207.5,654.8 1208.3,640.2 1209.0,637.4 1209.8,647.3 1210.5,657.3 1211.3,615.4 1212.0,635.1 1212.8,627.1 1213.5,647.7 1214.3,627.9 1215.0,634.5 1215.8,636.9 1216.5,637.8 1217.3,542.8 1218.0,637.3 1218.8,590.7 1219.5,592.4 1220.2,619.9 1221.0,663.4 1221.7,603.0 1222.5,597.5 1223.2,572.2 1224.0,629.3 1224.7,648.9 1225.5,617.1 1226.2,621.2 1227.0,591.1 1227.7,618.9 1228.5,678.2 1229.2,562.1 1230.0,637.0 1230.7,633.7 1231.5,638.1 1232.2,618.2 1233.0,615.9 1233.7,634.5 1234.5,645.5 1235.2,650.0 1236.0,661.1 1236.7,629.8 1237.5,547.4 1238.2,560.2 1239.0,623.6 1239.7,626.8 1240.5,583.0 1241.2,607.3 1242.0,546.2 1242.7,589.6 1243.4,653.1 1244.2,562.3 1244.9,602.2 1245.7,608.3 1246.4,664.1 1247.2,624.2 1247.9,663.7 1248.7,666.7 1249.4,648.1 1250.2,634.4 1250.9,594.9 1251.7,642.2 1252.4,665.2 1253.2,675.7 1253.9,642.6 1254.7,588.8 1255.4,624.1 1256.2,635.4 1256.9,675.7 1257.7,667.8 1258.4,655.9 1259.2,670.4 1259.9,559.9 1260.7,649.0 1261.4,554.4 1262.2,633.4 1262.9,648.3 1263.7,663.0 1264.4,583.0 1265.1,590.7 1265.9,610.0 1266.6,621.9 1267.4,675.6 1268.1,586.8 1268.9,587.8 1269.6,626.1 1270.4,592.5 1271.1,606.9 1271.9,670.0 1272.6,609.1 1273.4,561.2 1274.1,579.8 1274.9,661.1 1275.6,612.6 1276.4,641.1 1277.1,660.2 1277.9,619.4 1278.6,578.4 1279.4,668.8 1280.1,601.1 1280.9,624.3 1281.6,654.4 1282.4,606.1 1283.1,625.6 1283.9,633.3 1284.6,584.1 1285.4,611.1 1286.1,646.1 1286.8,662.6 1287.6,623.1 1288.3,632.4 1289.1,654.0 1289.8,639.8 1290.6,634.5 1291.3,613.3 1292.1,648.3 1292.8,651.6 1293.6,607.1 1294.3,614.5 1295.1,678.0 1295.8,599.8 1296.6,554.7 1297.3,569.9 1298.1,589.7 1298.8,582.9 1299.6,608.9 1300.3,606.7 1301.1,569.8 1301.8,546.9 1302.6,556.6 1303.3,555.2 1304.1,573.4 1304.8,628.1 1305.6,568.1 1306.3,619.0 1307.1,588.4 1307.8,674.6 1308.6,644.5 1309.3,628.5 1310.0,560.8 1310.8,677.7 1311.5,571.2 1312.3,594.5 1313.0,617.2 1313.8,593.6 1314.5,667.4 1315.3,632.1 1316.0,659.4 1316.8,649.5 1317.5,631.8 1318.3,589.4 1319.0,653.2 1319.8,661.1 1320.5,578.9 1321.3,624.2 1322.0,622.9 1322.8,633.4 1323.5,576.5 1324.3,608.4 1325.0,623.5 1325.8,614.2 1326.5,587.3 1327.3,618.8 1328.0,579.8 1328.8,657.1 1329.5,584.1 1330.3,635.2 1331.0,594.5 1331.8,644.7 1332.5,601.6 1333.2,625.2 1334.0,654.3 1334.7,615.0 1335.5,633.4 1336.2,603.0 1337.0,659.3 1337.7,627.7 1338.5,598.3 1339.2,571.1 1340.0,625.0 1340.7,558.1 1341.5,590.7 1342.2,653.4 1343.0,682.0 1343.7,597.0 1344.5,642.1 1345.2,602.6 1346.0,655.5 1346.7,625.4 1347.5,632.4 1348.2,635.7 1349.0,608.6 1349.7,575.9 1350.5,677.1 1351.2,567.8 1352.0,642.3 1352.7,612.3 1353.5,602.3 1354.2,538.8 1354.9,582.4 1355.7,571.5 1356.4,607.4 1357.2,681.7 1357.9,610.8 1358.7,653.9 1359.4,605.4 1360.2,612.4 1360.9,642.9 1361.7,647.8 1362.4,574.5 1363.2,661.6 1363.9,635.6 1364.7,588.7 1365.4,648.2 1366.2,643.9 1366.9,649.6 1367.7,652.1 1368.4,607.6 1369.2,641.6 1369.9,600.6 1370.7,650.1 1371.4,652.6 1372.2,662.9 1372.9,592.4 1373.7,603.2 1374.4,650.8 1375.2,662.6 1375.9,597.0 1376.7,656.6 1377.4,557.0 1378.1,577.4 1378.9,651.6 1379.6,601.1 1380.4,556.2 1381.1,664.9 1381.9,653.9 1382.6,572.2 1383.4,599.2 1384.1,647.5 1384.9,579.6 1385.6,636.5 1386.4,598.9 1387.1,625.4 1387.9,595.4 1388.6,606.2 1389.4,672.1 1390.1,581.9 1390.9,660.2 1391.6,615.0 1392.4,582.8 1393.1,565.7 1393.9,551.2 1394.6,587.2 1395.4,567.3 1396.1,586.8 1396.9,618.9 1397.6,652.9 1398.4,645.5 1399.1,635.1 1399.8,574.1 1400.6,599.5 1401.3,615.4 1402.1,624.7 1402.8,653.2 1403.6,623.5 1404.3,651.1 1405.1,675.9 1405.8,623.1 1406.6,612.2 1407.3,605.4 1408.1,549.4 1408.8,568.6 1409.6,615.1 1410.3,630.2 1411.1,614.6 1411.8,647.3 1412.6,579.1 1413.3,567.3 1414.1,617.8 1414.8,587.7 1415.6,666.3 1416.3,604.6 1417.1,589.5 1417.8,654.4 1418.6,584.0 1419.3,622.2 1420.1,672.9 1420.8,674.0 1421.5,625.1 1422.3,655.6 1423.0,589.1 1423.8,631.9 1424.5,595.8 1425.3,575.2 1426.0,679.5 1426.8,628.0 1427.5,616.6 1428.3,593.2 1429.0,665.9 1429.8,652.1 1430.5,676.5 1431.3,611.6 1432.0,653.9 1432.8,595.2 1433.5,644.8 1434.3,632.9 1435.0,668.6 1435.8,560.3 1436.5,560.0 1437.3,641.9 1438.0,618.1 1438.8,610.2 1439.5,648.1 1440.3,657.0 1441.0,657.6 1441.8,569.7 1442.5,661.1 1443.3,565.4 1444.0,658.0 1444.7,663.3 1445.5,616.2 1446.2,605.6 1447.0,598.2 1447.7,659.9 1448.5,617.3 1449.2,551.5 1450.0,614.1 1450.7,666.8 1451.5,621.7 1452.2,664.4 1453.0,623.2 1453.7,654.7 1454.5,666.4 1455.2,543.4 1456.0,649.7 1456.7,638.0 1457.5,615.3 1458.2,671.3 1459.0,608.3 1459.7,637.9 1460.5,594.8 1461.2,623.0 1462.0,605.9 1462.7,653.2 1463.5,607.8 1464.2,564.2 1465.0,644.8 1465.7,596.9 1466.5,642.5 1467.2,634.8 1467.9,623.8 1468.7,610.0 1469.4,668.1 1470.2,606.7 1470.9,616.2 1471.7,576.4 1472.4,643.1 1473.2,555.8 1473.9,560.7 1474.7,592.1 1475.4,589.8 1476.2,605.1 1476.9,647.8 1477.7,621.9 1478.4,575.9 1479.2,576.6 1479.9,634.7 1480.7,637.0 1481.4,599.9 1482.2,657.1 1482.9,673.1 1483.7,607.7 1484.4,637.9 1485.2,571.9 1485.9,636.5 1486.7,651.4 1487.4,619.4 1488.2,593.5 1488.9,572.5 1489.6,561.4 1490.4,660.4 1491.1,558.5 1491.9,605.7 1492.6,651.5 1493.4,583.7 1494.1,626.0 1494.9,621.1 1495.6,656.7 1496.4,655.8 1497.1,652.4 1497.9,655.5 1498.6,678.4 1499.4,628.6 1500.1,559.9 1500.9,663.7 1501.6,580.5 1502.4,648.4 1503.1,589.2 1503.9,595.7 1504.6,589.0 1505.4,665.8 1506.1,593.7 1506.9,664.3 1507.6,625.6 1508.4,633.3 1509.1,610.4 1509.9,594.3 1510.6,609.2 1511.3,551.1 1512.1,580.7 1512.8,661.7 1513.6,625.8 1514.3,647.5 1515.1,669.7 1515.8,632.1 1516.6,644.9 1517.3,652.4 1518.1,635.9 1518.8,648.6 1519.6,610.7 1520.3,558.3 1521.1,648.8 1521.8,557.9 1522.6,596.3 1523.3,669.9 1524.1,595.7 1524.8,561.5 1525.6,632.4 1526.3,626.6 1527.1,636.8 1527.8,575.3 1528.6,637.6 1529.3,563.3 1530.1,627.1 1530.8,648.0 1531.6,607.0 1532.3,607.7 1533.1,551.9 1533.8,554.8 1534.5,645.1 1535.3,631.5 1536.0,614.7 1536.8,603.3 1537.5,670.1 1538.3,678.6 1539.0,601.0 1539.8,625.9 1540.5,644.8 1541.3,664.5 1542.0,580.6 1542.8,679.8 1543.5,608.9 1544.3,543.1 1545.0,617.4 1545.8,663.6 1546.5,600.4 1547.3,648.2 1548.0,632.9 1548.8,660.4 1549.5,634.5 1550.3,656.8 1551.0,647.3 1551.8,627.0 1552.5,639.1 1553.3,675.9 1554.0,621.7 1554.8,552.4 1555.5,676.0 1556.2,660.1 1557.0,650.1 1557.7,622.1 1558.5,622.3 1559.2,583.5 1560.0,672.1 1560.7,627.7 1561.5,624.5 1562.2,594.7 1563.0,580.8 1563.7,655.2 1564.5,608.5 1565.2,614.7 1566.0,627.2 1566.7,671.2 1567.5,662.0 1568.2,598.4 1569.0,613.3 1569.7,594.2 1570.5,581.0 1571.2,567.0 1572.0,541.7 1572.7,567.3 1573.5,577.0 1574.2,567.4 1575.0,614.5 1575.7,596.7 1576.5,657.4 1577.2,616.0 1578.0,587.1 1578.7,562.7" fill="none" stroke="#2b2bff" stroke-width="0.9765000000000001" stroke-linejoin="round"/>
<polyline points="860.3,687.8 861.0,683.3 861.8,683.5 862.5,676.7 863.3,681.8 864.0,679.6 864.8,681.7 865.5,681.7 866.3,679.7 867.0,679.2 867.8,673.7 868.5,674.8 869.3,682.2 870.0,676.6 870.8,679.3 871.5,681.0 872.3,676.2 873.0,681.5 873.8,682.2 874.5,679.4 875.3,678.3 876.0,680.6 876.8,675.1 877.5,680.6 878.3,670.0 879.0,683.0 879.8,677.2 880.5,682.1 881.3,676.5 882.0,682.2 882.8,681.9 883.5,670.0 884.2,675.4 885.0,674.3 885.7,681.1 886.5,679.6 887.2,676.7 888.0,678.2 888.7,679.1 889.5,673.3 890.2,681.1 891.0,675.1 891.7,670.3 892.5,680.2 893.2,679.7 894.0,681.6 894.7,680.4 895.5,679.9 896.2,682.8 897.0,672.2 897.7,674.5 898.5,675.3 899.2,678.5 900.0,682.7 900.7,678.1 901.5,677.2 902.2,678.3 903.0,681.7 903.7,670.0 904.5,673.5 905.2,678.6 905.9,677.7 906.7,675.2 907.4,682.0 908.2,682.2 908.9,683.3 909.7,680.9 910.4,681.2 911.2,679.5 911.9,682.0 912.7,680.5 913.4,677.9 914.2,675.4 914.9,682.8 915.7,676.5 916.4,680.0 917.2,681.4 917.9,680.6 918.7,673.1 919.4,675.3 920.2,678.5 920.9,680.4 921.7,680.6 922.4,679.9 923.2,679.0 923.9,675.7 924.7,682.0 925.4,679.2 926.2,676.1 926.9,677.3 927.6,676.4 928.4,678.5 929.1,676.2 929.9,679.3 930.6,677.9 931.4,672.1 932.1,671.6 932.9,674.7 933.6,678.5 934.4,674.6 935.1,682.4 935.9,679.1 936.6,680.9 937.4,679.0 938.1,672.0 938.9,679.2 939.6,672.0 940.4,681.7 941.1,677.1 941.9,681.1 942.6,681.0 943.4,681.2 944.1,675.1 944.9,679.6 945.6,678.4 946.4,675.0 947.1,677.2 947.9,681.3 948.6,675.3 949.4,681.9 950.1,674.9 950.8,676.0 951.6,683.1 952.3,680.0 953.1,675.5 953.8,678.9 954.6,675.7 955.3,679.9 956.1,671.9 956.8,682.8 957.6,679.3 958.3,680.6 959.1,680.7 959.8,678.4 960.6,680.2 961.3,681.8 962.1,678.5 962.8,678.6 963.6,675.2 964.3,682.2 965.1,683.1 965.8,672.1 966.6,680.4 967.3,678.8 968.1,678.5 968.8,683.1 969.6,681.5 970.3,683.7 971.1,680.2 971.8,682.1 972.5,679.0 973.3,681.9 974.0,676.2 974.8,677.9 975.5,678.2 976.3,670.0 977.0,677.3 977.8,679.4 978.5,678.2 979.3,682.8 980.0,676.0 980.8,638.1 981.5,653.5 982.3,588.3 983.0,623.9 983.8,570.6 984.5,574.2 985.3,618.1 986.0,570.9 986.8,662.6 987.5,668.7 988.3,641.1 989.0,620.4 989.8,666.9 990.5,607.8 991.3,594.3 992.0,619.5 992.8,625.0 993.5,601.8 994.3,645.8 995.0,616.5 995.7,599.4 996.5,624.7 997.2,642.5 998.0,621.9 998.7,629.3 999.5,563.1 1000.2,635.0 1001.0,583.7 1001.7,580.8 1002.5,643.6 1003.2,608.3 1004.0,606.5 1004.7,664.0 1005.5,632.4 1006.2,625.9 1007.0,606.8 1007.7,548.1 1008.5,571.0 1009.2,639.4 1010.0,626.8 1010.7,584.7 1011.5,577.6 1012.2,625.9 1013.0,604.3 1013.7,637.6 1014.5,550.0 1015.2,589.4 1016.0,606.8 1016.7,569.1 1017.4,627.3 1018.2,672.8 1018.9,651.1 1019.7,619.5 1020.4,573.0 1021.2,636.6 1021.9,677.7 1022.7,588.6 1023.4,652.1 1024.2,591.8 1024.9,648.9 1025.7,626.4 1026.4,659.8 1027.2,563.8 1027.9,656.7 1028.7,589.7 1029.4,621.1 1030.2,554.0 1030.9,633.4 1031.7,624.7 1032.4,565.8 1033.2,638.7 1033.9,674.3 1034.7,599.4 1035.4,607.6 1036.2,604.1 1036.9,545.7 1037.7,587.5 1038.4,661.2 1039.2,597.7 1039.9,572.7 1040.6,612.4 1041.4,641.4 1042.1,635.8 1042.9,636.5 1043.6,622.5 1044.4,674.3 1045.1,627.6 1045.9,619.2 1046.6,617.2 1047.4,603.2 1048.1,592.4 1048.9,576.6 1049.6,626.6 1050.4,620.6 1051.1,649.9 1051.9,647.1 1052.6,625.3 1053.4,662.5 1054.1,620.7 1054.9,658.1 1055.6,606.0 1056.4,645.9 1057.1,632.2 1057.9,594.0 1058.6,658.5 1059.4,605.5 1060.1,647.1 1060.9,621.2 1061.6,590.1 1062.3,596.6 1063.1,626.2 1063.8,545.4 1064.6,604.5 1065.3,653.8 1066.1,644.2 1066.8,591.0 1067.6,603.4 1068.3,645.2 1069.1,621.2 1069.8,597.7 1070.6,592.2 1071.3,583.9 1072.1,664.6 1072.8,655.3 1073.6,612.7 1074.3,615.5 1075.1,644.3 1075.8,624.2 1076.6,632.8 1077.3,634.7 1078.1,642.8 1078.8,600.0 1079.6,651.2 1080.3,609.8 1081.1,626.9 1081.8,633.1 1082.6,615.0 1083.3,625.9 1084.1,651.4 1084.8,604.3 1085.5,624.6 1086.3,623.5 1087.0,650.4 1087.8,612.8 1088.5,631.4 1089.3,638.2 1090.0,599.6 1090.8,617.4 1091.5,643.3 1092.3,637.2 1093.0,637.5 1093.8,603.6 1094.5,643.2 1095.3,632.0 1096.0,619.0 1096.8,635.3 1097.5,604.7 1098.3,634.3 1099.0,601.8 1099.8,624.7 1100.5,613.6 1101.3,628.3 1102.0,610.3 1102.8,652.7 1103.5,596.3 1104.3,624.5 1105.0,609.3 1105.8,651.0 1106.5,639.5 1107.2,607.7 1108.0,630.3 1108.7,628.8 1109.5,618.5 1110.2,594.8 1111.0,623.2 1111.7,611.0 1112.5,588.9 1113.2,578.1 1114.0,608.2 1114.7,550.5 1115.5,590.9 1116.2,604.5 1117.0,626.5 1117.7,624.0 1118.5,607.6 1119.2,624.7 1120.0,549.8 1120.7,635.7 1121.5,665.9 1122.2,594.3 1123.0,583.2 1123.7,550.5 1124.5,590.9 1125.2,632.4 1126.0,645.4 1126.7,638.3 1127.5,659.6 1128.2,671.7 1129.0,636.6 1129.7,643.2 1130.4,652.5 1131.2,663.0 1131.9,594.7 1132.7,665.9 1133.4,585.8 1134.2,636.3 1134.9,606.1 1135.7,635.3 1136.4,605.7 1137.2,565.4 1137.9,653.7 1138.7,561.0 1139.4,651.4 1140.2,616.2 1140.9,641.5 1141.7,658.4 1142.4,618.8 1143.2,666.6 1143.9,656.1 1144.7,626.1 1145.4,638.3 1146.2,622.4 1146.9,665.6 1147.7,593.6 1148.4,626.1 1149.2,566.5 1149.9,615.1 1150.7,640.0 1151.4,657.0 1152.2,599.6 1152.9,569.8 1153.6,570.8 1154.4,550.1 1155.1,557.9 1155.9,658.9 1156.6,584.0 1157.4,654.8 1158.1,608.4 1158.9,631.0 1159.6,647.7 1160.4,607.4 1161.1,674.8 1161.9,649.3 1162.6,646.6 1163.4,563.2 1164.1,550.8 1164.9,667.9 1165.6,645.2 1166.4,598.8 1167.1,584.0 1167.9,607.8 1168.6,551.9 1169.4,603.1 1170.1,609.9 1170.9,631.1 1171.6,629.0 1172.4,588.1 1173.1,656.9 1173.9,598.0 1174.6,651.9 1175.3,597.1 1176.1,675.2 1176.8,596.1 1177.6,660.8 1178.3,614.9 1179.1,603.1 1179.8,644.8 1180.6,596.3 1181.3,624.9 1182.1,634.9 1182.8,672.7 1183.6,602.6 1184.3,597.8 1185.1,602.2 1185.8,596.2 1186.6,611.4 1187.3,663.5 1188.1,665.1 1188.8,637.4 1189.6,586.9 1190.3,597.2 1191.1,643.6 1191.8,549.6 1192.6,629.6 1193.3,618.0 1194.1,603.7 1194.8,636.0 1195.6,613.3 1196.3,585.0 1197.0,587.5 1197.8,643.6 1198.5,593.3 1199.3,654.0 1200.0,654.5 1200.8,641.7 1201.5,629.9 1202.3,632.3 1203.0,610.9 1203.8,630.9 1204.5,654.7 1205.3,621.6 1206.0,637.8 1206.8,600.9 1207.5,654.7 1208.3,642.0 1209.0,639.7 1209.8,645.1 1210.5,654.5 1211.3,616.3 1212.0,634.4 1212.8,626.6 1213.5,647.5 1214.3,627.6 1215.0,636.1 1215.8,636.3 1216.5,638.4 1217.3,545.0 1218.0,637.1 1218.8,591.1 1219.5,593.8 1220.2,617.9 1221.0,664.1 1221.7,602.0 1222.5,594.6 1223.2,570.1 1224.0,631.1 1224.7,648.0 1225.5,617.8 1226.2,622.9 1227.0,592.7 1227.7,615.3 1228.5,678.5 1229.2,562.4 1230.0,638.6 1230.7,635.3 1231.5,635.0 1232.2,617.1 1233.0,613.1 1233.7,636.2 1234.5,648.3 1235.2,648.9 1236.0,662.1 1236.7,627.7 1237.5,543.9 1238.2,563.5 1239.0,623.1 1239.7,630.4 1240.5,586.2 1241.2,606.1 1242.0,546.9 1242.7,588.3 1243.4,654.6 1244.2,562.9 1244.9,602.3 1245.7,608.9 1246.4,664.4 1247.2,627.4 1247.9,662.7 1248.7,665.3 1249.4,649.2 1250.2,632.3 1250.9,595.5 1251.7,642.6 1252.4,666.1 1253.2,678.2 1253.9,641.8 1254.7,587.7 1255.4,623.9 1256.2,637.6 1256.9,676.1 1257.7,667.4 1258.4,654.7 1259.2,670.8 1259.9,560.3 1260.7,649.9 1261.4,555.8 1262.2,630.6 1262.9,649.6 1263.7,665.9 1264.4,583.9 1265.1,589.5 1265.9,611.9 1266.6,618.4 1267.4,677.1 1268.1,589.0 1268.9,586.9 1269.6,625.5 1270.4,593.6 1271.1,604.9 1271.9,671.4 1272.6,607.5 1273.4,563.4 1274.1,575.3 1274.9,661.0 1275.6,612.8 1276.4,642.6 1277.1,661.6 1277.9,619.9 1278.6,576.6 1279.4,670.1 1280.1,599.8 1280.9,625.1 1281.6,652.1 1282.4,605.6 1283.1,627.1 1283.9,636.0 1284.6,583.9 1285.4,609.7 1286.1,646.0 1286.8,663.4 1287.6,626.8 1288.3,632.3 1289.1,651.3 1289.8,638.9 1290.6,633.3 1291.3,611.1 1292.1,651.4 1292.8,651.7 1293.6,609.5 1294.3,617.1 1295.1,677.3 1295.8,600.3 1296.6,555.7 1297.3,570.2 1298.1,588.9 1298.8,583.5 1299.6,609.4 1300.3,607.8 1301.1,567.1 1301.8,548.1 1302.6,558.7 1303.3,554.6 1304.1,573.8 1304.8,632.1 1305.6,570.3 1306.3,615.6 1307.1,590.3 1307.8,677.7 1308.6,645.5 1309.3,629.7 1310.0,560.8 1310.8,678.3 1311.5,570.6 1312.3,596.5 1313.0,619.9 1313.8,596.5 1314.5,669.7 1315.3,631.8 1316.0,658.7 1316.8,649.4 1317.5,632.6 1318.3,589.7 1319.0,654.0 1319.8,659.3 1320.5,580.0 1321.3,623.0 1322.0,622.8 1322.8,634.1 1323.5,578.1 1324.3,608.2 1325.0,624.1 1325.8,616.0 1326.5,588.0 1327.3,617.3 1328.0,581.8 1328.8,652.7 1329.5,583.3 1330.3,637.8 1331.0,597.2 1331.8,642.7 1332.5,602.3 1333.2,622.4 1334.0,658.4 1334.7,614.2 1335.5,631.7 1336.2,601.8 1337.0,659.8 1337.7,625.6 1338.5,600.6 1339.2,572.4 1340.0,623.5 1340.7,561.1 1341.5,589.8 1342.2,652.0 1343.0,680.5 1343.7,598.9 1344.5,642.9 1345.2,602.3 1346.0,655.4 1346.7,624.4 1347.5,634.8 1348.2,636.6 1349.0,606.9 1349.7,576.9 1350.5,678.5 1351.2,569.0 1352.0,643.1 1352.7,613.5 1353.5,600.4 1354.2,537.4 1354.9,581.5 1355.7,572.1 1356.4,610.6 1357.2,680.5 1357.9,613.3 1358.7,654.2 1359.4,603.5 1360.2,615.4 1360.9,642.1 1361.7,648.6 1362.4,572.3 1363.2,661.0 1363.9,635.6 1364.7,588.6 1365.4,649.4 1366.2,642.9 1366.9,650.8 1367.7,649.7 1368.4,608.7 1369.2,642.5 1369.9,601.9 1370.7,651.0 1371.4,654.1 1372.2,662.0 1372.9,591.3 1373.7,602.5 1374.4,648.4 1375.2,665.1 1375.9,594.9 1376.7,657.9 1377.4,554.0 1378.1,574.7 1378.9,650.6 1379.6,601.6 1380.4,557.6 1381.1,664.9 1381.9,651.4 1382.6,572.2 1383.4,599.8 1384.1,647.0 1384.9,580.5 1385.6,635.8 1386.4,597.4 1387.1,626.4 1387.9,595.3 1388.6,604.8 1389.4,673.7 1390.1,585.7 1390.9,658.7 1391.6,610.7 1392.4,582.0 1393.1,566.7 1393.9,549.3 1394.6,588.1 1395.4,568.0 1396.1,589.3 1396.9,619.2 1397.6,650.3 1398.4,646.5 1399.1,631.2 1399.8,572.6 1400.6,599.9 1401.3,614.9 1402.1,623.9 1402.8,653.4 1403.6,622.1 1404.3,651.4 1405.1,676.5 1405.8,624.5 1406.6,611.8 1407.3,602.7 1408.1,551.8 1408.8,568.4 1409.6,612.8 1410.3,630.9 1411.1,614.6 1411.8,647.4 1412.6,577.3 1413.3,565.8 1414.1,616.0 1414.8,588.7 1415.6,664.5 1416.3,603.1 1417.1,588.2 1417.8,654.8 1418.6,582.6 1419.3,623.1 1420.1,672.7 1420.8,672.8 1421.5,624.0 1422.3,654.9 1423.0,587.9 1423.8,633.2 1424.5,601.1 1425.3,575.5 1426.0,678.8 1426.8,631.8 1427.5,618.4 1428.3,592.5 1429.0,664.7 1429.8,652.0 1430.5,674.4 1431.3,609.0 1432.0,655.8 1432.8,594.7 1433.5,646.5 1434.3,628.3 1435.0,668.8 1435.8,563.7 1436.5,562.0 1437.3,644.1 1438.0,620.3 1438.8,609.9 1439.5,651.2 1440.3,656.6 1441.0,659.2 1441.8,568.0 1442.5,658.0 1443.3,565.6 1444.0,657.9 1444.7,663.8 1445.5,615.7 1446.2,605.1 1447.0,594.4 1447.7,661.8 1448.5,620.5 1449.2,551.0 1450.0,610.9 1450.7,665.9 1451.5,623.5 1452.2,664.3 1453.0,619.2 1453.7,654.8 1454.5,664.9 1455.2,543.6 1456.0,649.5 1456.7,637.2 1457.5,616.6 1458.2,670.7 1459.0,606.0 1459.7,637.1 1460.5,597.4 1461.2,622.5 1462.0,604.7 1462.7,647.8 1463.5,606.3 1464.2,563.1 1465.0,645.7 1465.7,594.5 1466.5,643.2 1467.2,636.7 1467.9,622.0 1468.7,609.9 1469.4,671.1 1470.2,607.3 1470.9,614.7 1471.7,575.9 1472.4,647.3 1473.2,555.0 1473.9,556.6 1474.7,591.3 1475.4,588.9 1476.2,604.0 1476.9,648.4 1477.7,624.4 1478.4,578.8 1479.2,579.6 1479.9,635.5 1480.7,636.1 1481.4,598.8 1482.2,655.0 1482.9,674.9 1483.7,606.6 1484.4,639.2 1485.2,572.6 1485.9,638.7 1486.7,651.2 1487.4,620.4 1488.2,595.6 1488.9,577.0 1489.6,562.1 1490.4,661.5 1491.1,558.8 1491.9,603.5 1492.6,653.1 1493.4,585.7 1494.1,624.4 1494.9,623.0 1495.6,654.1 1496.4,656.1 1497.1,651.2 1497.9,656.2 1498.6,676.3 1499.4,633.1 1500.1,559.2 1500.9,666.0 1501.6,583.2 1502.4,647.7 1503.1,589.0 1503.9,597.4 1504.6,588.5 1505.4,665.4 1506.1,591.3 1506.9,663.1 1507.6,624.2 1508.4,634.2 1509.1,611.3 1509.9,592.6 1510.6,608.2 1511.3,550.5 1512.1,580.9 1512.8,660.9 1513.6,624.3 1514.3,648.5 1515.1,670.7 1515.8,632.0 1516.6,643.6 1517.3,652.2 1518.1,636.6 1518.8,647.7 1519.6,609.1 1520.3,555.1 1521.1,649.2 1521.8,559.8 1522.6,601.6 1523.3,670.1 1524.1,596.1 1524.8,561.7 1525.6,631.1 1526.3,621.6 1527.1,637.9 1527.8,575.2 1528.6,637.1 1529.3,565.6 1530.1,631.1 1530.8,646.5 1531.6,608.1 1532.3,609.0 1533.1,554.7 1533.8,553.6 1534.5,644.5 1535.3,630.5 1536.0,614.4 1536.8,605.7 1537.5,667.2 1538.3,676.0 1539.0,604.8 1539.8,625.3 1540.5,643.2 1541.3,666.2 1542.0,581.0 1542.8,679.1 1543.5,608.9 1544.3,544.1 1545.0,617.1 1545.8,664.0 1546.5,600.1 1547.3,645.1 1548.0,634.3 1548.8,662.6 1549.5,634.1 1550.3,657.1 1551.0,648.2 1551.8,625.4 1552.5,639.2 1553.3,674.2 1554.0,621.1 1554.8,553.3 1555.5,671.5 1556.2,657.1 1557.0,647.5 1557.7,620.4 1558.5,623.7 1559.2,580.7 1560.0,672.1 1560.7,629.4 1561.5,625.4 1562.2,597.5 1563.0,580.8 1563.7,654.9 1564.5,608.5 1565.2,616.0 1566.0,626.1 1566.7,672.2 1567.5,663.6 1568.2,599.0 1569.0,611.4 1569.7,596.0 1570.5,584.7 1571.2,569.7 1572.0,541.0 1572.7,566.5 1573.5,577.1 1574.2,567.1 1575.0,615.7 1575.7,599.7 1576.5,659.4 1577.2,617.9 1578.0,588.3 1578.7,561.1" fill="none" stroke="#ff00ff" stroke-width="1.05" stroke-linejoin="round"/>
<line x1="860.3" y1="671.2" x2="1578.7" y2="671.2" stroke="#4a4aff" stroke-width="1.7" stroke-dasharray="8,5"/>
<line x1="860.3" y1="671.7" x2="1578.7" y2="671.7" stroke="#ff00ff" stroke-width="1.4" stroke-dasharray="7,3,2,3" opacity="0.8"/>
<line x1="980.0" y1="520.0" x2="980.0" y2="694.9" stroke="#444" stroke-width="1.2" stroke-dasharray="9,5.5" stroke-dashoffset="6"/>
<path d="M860.3,517.3 V694.9 H1578.7" fill="none" stroke="#6e6e6e" stroke-width="1.5"/>
<line x1="860.3" y1="694.9" x2="865.3" y2="694.9" stroke="#6e6e6e" stroke-width="1.3"/>
<text x="856.8" y="695.4" font-size="21" text-anchor="end" dominant-baseline="central">0</text>
<line x1="860.3" y1="635.7" x2="865.3" y2="635.7" stroke="#6e6e6e" stroke-width="1.3"/>
<text x="856.8" y="636.2" font-size="21" text-anchor="end" dominant-baseline="central">5</text>
<line x1="860.3" y1="576.5" x2="865.3" y2="576.5" stroke="#6e6e6e" stroke-width="1.3"/>
<text x="856.8" y="577.0" font-size="21" text-anchor="end" dominant-baseline="central">10</text>
<line x1="860.3" y1="517.3" x2="865.3" y2="517.3" stroke="#6e6e6e" stroke-width="1.3"/>
<text x="856.8" y="517.8" font-size="21" text-anchor="end" dominant-baseline="central">15</text>
<text x="862.3" y="720.4" font-size="21" text-anchor="middle">0</text>
<line x1="935.1" y1="694.9" x2="935.1" y2="689.9" stroke="#6e6e6e" stroke-width="1.3"/>
<text x="935.1" y="720.4" font-size="21" text-anchor="middle">100</text>
<line x1="1010.0" y1="694.9" x2="1010.0" y2="689.9" stroke="#6e6e6e" stroke-width="1.3"/>
<text x="1010.0" y="720.4" font-size="21" text-anchor="middle">200</text>
<line x1="1084.8" y1="694.9" x2="1084.8" y2="689.9" stroke="#6e6e6e" stroke-width="1.3"/>
<text x="1084.8" y="720.4" font-size="21" text-anchor="middle">300</text>
<line x1="1159.6" y1="694.9" x2="1159.6" y2="689.9" stroke="#6e6e6e" stroke-width="1.3"/>
<text x="1159.6" y="720.4" font-size="21" text-anchor="middle">400</text>
<line x1="1234.5" y1="694.9" x2="1234.5" y2="689.9" stroke="#6e6e6e" stroke-width="1.3"/>
<text x="1234.5" y="720.4" font-size="21" text-anchor="middle">500</text>
<line x1="1309.3" y1="694.9" x2="1309.3" y2="689.9" stroke="#6e6e6e" stroke-width="1.3"/>
<text x="1309.3" y="720.4" font-size="21" text-anchor="middle">600</text>
<line x1="1384.1" y1="694.9" x2="1384.1" y2="689.9" stroke="#6e6e6e" stroke-width="1.3"/>
<text x="1384.1" y="720.4" font-size="21" text-anchor="middle">700</text>
<line x1="1459.0" y1="694.9" x2="1459.0" y2="689.9" stroke="#6e6e6e" stroke-width="1.3"/>
<text x="1459.0" y="720.4" font-size="21" text-anchor="middle">800</text>
<line x1="1533.8" y1="694.9" x2="1533.8" y2="689.9" stroke="#6e6e6e" stroke-width="1.3"/>
<text x="1533.8" y="720.4" font-size="21" text-anchor="middle">900</text>
<text x="1577.7" y="720.4" font-size="21" text-anchor="middle">960</text>
<text x="1219.5" y="745.9" font-size="21.5" text-anchor="middle" stroke="#111" stroke-width="0.3">Sample</text>
<text transform="translate(819.0,608.1) rotate(-90)" font-size="18.5" text-anchor="middle">T<tspan font-size="11.5" dy="-7.4">2</tspan></text>
<rect x="869.1" y="525.5" width="105.6" height="104.2" fill="#fff" stroke="#6a6a6a" stroke-width="1.6"/>
<line x1="874.3" y1="540.7" x2="927.9" y2="540.7" stroke="#5a5ae0" stroke-width="1.4"/>
<line x1="874.3" y1="564.9" x2="927.9" y2="564.9" stroke="#ff40f0" stroke-width="1.4"/>
<line x1="874.3" y1="590.9" x2="927.9" y2="590.9" stroke="#5a5ae0" stroke-width="1.5" stroke-dasharray="11.9,7.5"/>
<line x1="874.3" y1="615.2" x2="927.9" y2="615.2" stroke="#ff50f0" stroke-width="1.4" stroke-dasharray="9,5,2,5"/>
<text x="934.6" y="544.9" font-size="19.0" font-style="italic">T</text>
<text x="948.8" y="538.2" font-size="12.4">2</text>
<line x1="936.3" y1="548.7" x2="946.6" y2="548.7" stroke="#3a3a3a" stroke-width="1.4"/>
<line x1="937.7" y1="556.6" x2="948.2" y2="556.6" stroke="#3a3a3a" stroke-width="1.4"/>
<text x="936.1" y="572.8" font-size="19.0" font-style="italic">T</text>
<text x="949.9" y="559.8" font-size="12.4">2</text>
<text x="933.3" y="593.2" font-size="19.0" font-style="italic">T</text>
<text x="946.7" y="585.8" font-size="12.4">2</text>
<text x="945.6" y="596.6" font-size="11.6" font-style="italic">UCL</text>
<line x1="934.2" y1="596.0" x2="944.8" y2="596.0" stroke="#3a3a3a" stroke-width="1.4"/>
<line x1="933.1" y1="607.0" x2="943.7" y2="607.0" stroke="#3a3a3a" stroke-width="1.4"/>
<text x="945.6" y="609.3" font-size="12.4">2</text>
<text x="931.9" y="622.2" font-size="19.0" font-style="italic">T</text>
<text x="944.4" y="626.2" font-size="11.6" font-style="italic">UCL</text>
<text x="1036.5" y="543.1" font-size="21" stroke="#111" stroke-width="0.55">Fault start</text>
<line x1="1030.3" y1="537.5" x2="990.7" y2="573.5" stroke="#222" stroke-width="1.3"/>
<polygon points="981.4,581.9 987.2,569.6 994.1,577.3" fill="#000"/>
<polyline points="861.0,929.7 861.7,917.3 862.5,910.2 863.2,899.6 864.0,885.4 864.7,907.2 865.5,891.8 866.2,887.3 867.0,888.4 867.7,904.1 868.5,898.7 869.2,905.2 870.0,898.9 870.7,890.8 871.5,899.0 872.2,893.0 873.0,892.9 873.7,884.7 874.5,886.6 875.2,886.1 876.0,883.1 876.7,895.2 877.5,881.7 878.2,890.3 878.9,879.2 879.7,889.3 880.4,877.7 881.2,889.6 881.9,906.2 882.7,897.0 883.4,889.0 884.2,890.3 884.9,887.1 885.7,895.8 886.4,896.2 887.2,910.0 887.9,881.9 888.7,881.1 889.4,882.1 890.2,913.0 890.9,899.4 891.7,898.6 892.4,892.8 893.2,904.9 893.9,872.2 894.7,883.5 895.4,894.3 896.1,897.8 896.9,911.6 897.6,882.7 898.4,890.3 899.1,890.1 899.9,883.7 900.6,904.6 901.4,917.3 902.1,870.3 902.9,900.0 903.6,887.1 904.4,910.1 905.1,888.2 905.9,876.1 906.6,890.6 907.4,910.5 908.1,902.4 908.9,915.1 909.6,898.5 910.4,886.1 911.1,889.3 911.9,901.6 912.6,894.3 913.3,897.2 914.1,912.4 914.8,907.2 915.6,894.0 916.3,877.7 917.1,898.5 917.8,897.4 918.6,912.1 919.3,892.2 920.1,916.4 920.8,896.0 921.6,894.4 922.3,900.9 923.1,908.1 923.8,909.4 924.6,886.9 925.3,892.6 926.1,899.8 926.8,892.9 927.6,908.1 928.3,903.8 929.1,911.8 929.8,912.2 930.5,908.2 931.3,893.0 932.0,912.7 932.8,910.3 933.5,905.7 934.3,890.6 935.0,915.4 935.8,873.7 936.5,906.2 937.3,908.0 938.0,902.0 938.8,909.1 939.5,906.8 940.3,913.2 941.0,880.2 941.8,913.6 942.5,892.5 943.3,892.9 944.0,902.4 944.8,891.1 945.5,888.9 946.3,890.5 947.0,915.6 947.7,886.4 948.5,888.6 949.2,894.9 950.0,903.6 950.7,900.0 951.5,917.3 952.2,884.7 953.0,915.1 953.7,882.2 954.5,891.9 955.2,879.6 956.0,907.3 956.7,902.9 957.5,895.9 958.2,917.3 959.0,907.3 959.7,887.9 960.5,869.2 961.2,905.6 962.0,882.8 962.7,898.6 963.5,889.3 964.2,882.1 964.9,891.9 965.7,889.0 966.4,890.9 967.2,887.9 967.9,882.7 968.7,878.2 969.4,889.7 970.2,889.8 970.9,889.6 971.7,893.5 972.4,880.5 973.2,871.4 973.9,869.7 974.7,895.9 975.4,890.1 976.2,885.8 976.9,881.4 977.7,871.5 978.4,887.8 979.2,897.8 979.9,873.2 980.6,900.7 981.4,894.6 982.1,887.3 982.9,883.0 983.6,900.8 984.4,879.3 985.1,877.0 985.9,823.7 986.6,861.5 987.4,848.2 988.1,830.5 988.9,826.9 989.6,843.8 990.4,855.3 991.1,861.5 991.9,881.7 992.6,892.1 993.4,870.2 994.1,874.7 994.9,851.3 995.6,867.8 996.4,866.2 997.1,892.6 997.8,878.7 998.6,887.7 999.3,886.7 1000.1,891.3 1000.8,884.0 1001.6,880.8 1002.3,886.3 1003.1,885.9 1003.8,869.2 1004.6,867.6 1005.3,857.6 1006.1,867.8 1006.8,866.4 1007.6,871.7 1008.3,851.3 1009.1,859.0 1009.8,824.1 1010.6,831.6 1011.3,876.9 1012.1,875.2 1012.8,884.7 1013.6,885.7 1014.3,853.0 1015.0,853.7 1015.8,884.6 1016.5,891.3 1017.3,853.1 1018.0,838.6 1018.8,844.2 1019.5,845.7 1020.3,887.1 1021.0,887.2 1021.8,875.9 1022.5,881.0 1023.3,848.6 1024.0,866.1 1024.8,869.7 1025.5,884.3 1026.3,865.1 1027.0,876.4 1027.8,875.1 1028.5,836.1 1029.3,837.4 1030.0,841.3 1030.8,840.3 1031.5,828.2 1032.2,854.7 1033.0,823.6 1033.7,845.3 1034.5,838.6 1035.2,839.0 1036.0,834.6 1036.7,831.3 1037.5,838.1 1038.2,837.5 1039.0,838.0 1039.7,831.8 1040.5,828.0 1041.2,836.8 1042.0,879.3 1042.7,864.8 1043.5,843.8 1044.2,864.7 1045.0,858.2 1045.7,862.7 1046.5,856.2 1047.2,884.5 1048.0,863.5 1048.7,885.3 1049.4,861.5 1050.2,876.2 1050.9,876.4 1051.7,864.7 1052.4,860.4 1053.2,880.4 1053.9,862.9 1054.7,883.6 1055.4,879.8 1056.2,863.6 1056.9,847.1 1057.7,857.9 1058.4,877.0 1059.2,871.1 1059.9,865.7 1060.7,881.9 1061.4,856.0 1062.2,872.1 1062.9,847.5 1063.7,862.9 1064.4,855.7 1065.2,868.3 1065.9,832.5 1066.6,865.2 1067.4,883.3 1068.1,895.2 1068.9,880.7 1069.6,888.3 1070.4,878.3 1071.1,875.0 1071.9,860.6 1072.6,862.3 1073.4,882.8 1074.1,872.2 1074.9,892.9 1075.6,859.9 1076.4,827.1 1077.1,842.8 1077.9,819.3 1078.6,809.2 1079.4,844.9 1080.1,878.6 1080.9,885.0 1081.6,867.7 1082.4,860.0 1083.1,873.7 1083.8,890.4 1084.6,887.3 1085.3,899.3 1086.1,894.7 1086.8,881.8 1087.6,850.5 1088.3,862.3 1089.1,863.8 1089.8,855.8 1090.6,875.4 1091.3,885.7 1092.1,838.3 1092.8,876.6 1093.6,876.2 1094.3,867.5 1095.1,876.4 1095.8,884.2 1096.6,874.2 1097.3,894.5 1098.1,860.3 1098.8,850.2 1099.6,870.8 1100.3,877.8 1101.0,862.2 1101.8,859.6 1102.5,876.6 1103.3,888.6 1104.0,889.9 1104.8,836.6 1105.5,864.7 1106.3,839.8 1107.0,857.4 1107.8,870.3 1108.5,828.6 1109.3,864.6 1110.0,866.6 1110.8,877.0 1111.5,853.7 1112.3,865.4 1113.0,870.8 1113.8,885.0 1114.5,882.1 1115.3,870.4 1116.0,856.6 1116.8,882.0 1117.5,869.3 1118.2,871.9 1119.0,857.6 1119.7,861.4 1120.5,873.2 1121.2,867.0 1122.0,856.5 1122.7,876.1 1123.5,819.6 1124.2,848.9 1125.0,868.4 1125.7,876.8 1126.5,872.4 1127.2,871.2 1128.0,879.6 1128.7,857.9 1129.5,852.4 1130.2,819.1 1131.0,832.7 1131.7,877.9 1132.5,888.4 1133.2,863.6 1134.0,864.5 1134.7,816.3 1135.4,850.0 1136.2,885.4 1136.9,870.9 1137.7,877.5 1138.4,868.5 1139.2,846.6 1139.9,873.0 1140.7,878.2 1141.4,891.6 1142.2,863.9 1142.9,868.8 1143.7,865.7 1144.4,826.4 1145.2,866.9 1145.9,882.6 1146.7,890.1 1147.4,896.4 1148.2,824.0 1148.9,843.9 1149.7,876.6 1150.4,884.3 1151.2,870.7 1151.9,853.7 1152.6,841.6 1153.4,871.7 1154.1,878.7 1154.9,881.5 1155.6,888.3 1156.4,863.6 1157.1,814.8 1157.9,849.0 1158.6,861.5 1159.4,876.1 1160.1,876.3 1160.9,874.0 1161.6,885.7 1162.4,883.4 1163.1,855.4 1163.9,875.7 1164.6,871.8 1165.4,844.8 1166.1,857.7 1166.9,874.5 1167.6,876.8 1168.4,858.8 1169.1,883.7 1169.8,847.5 1170.6,855.7 1171.3,876.6 1172.1,860.3 1172.8,877.0 1173.6,884.4 1174.3,863.8 1175.1,829.7 1175.8,878.9 1176.6,870.1 1177.3,875.1 1178.1,882.1 1178.8,875.6 1179.6,893.9 1180.3,868.2 1181.1,845.2 1181.8,852.7 1182.6,824.8 1183.3,856.7 1184.1,856.4 1184.8,884.6 1185.6,844.4 1186.3,869.2 1187.0,896.2 1187.8,828.3 1188.5,860.7 1189.3,873.0 1190.0,878.1 1190.8,874.3 1191.5,889.2 1192.3,881.2 1193.0,880.0 1193.8,899.7 1194.5,889.9 1195.3,900.1 1196.0,897.7 1196.8,889.6 1197.5,856.7 1198.3,884.6 1199.0,877.9 1199.8,863.9 1200.5,883.4 1201.3,860.0 1202.0,845.5 1202.8,872.7 1203.5,880.3 1204.2,894.2 1205.0,880.9 1205.7,861.1 1206.5,846.9 1207.2,857.0 1208.0,877.1 1208.7,860.1 1209.5,873.6 1210.2,886.5 1211.0,859.6 1211.7,875.1 1212.5,880.4 1213.2,895.3 1214.0,882.0 1214.7,859.3 1215.5,872.4 1216.2,890.3 1217.0,895.0 1217.7,879.3 1218.5,883.4 1219.2,881.7 1220.0,888.4 1220.7,849.8 1221.4,884.8 1222.2,894.7 1222.9,887.1 1223.7,842.5 1224.4,882.8 1225.2,845.0 1225.9,873.7 1226.7,870.6 1227.4,874.8 1228.2,891.0 1228.9,876.1 1229.7,870.1 1230.4,851.5 1231.2,880.1 1231.9,887.4 1232.7,884.9 1233.4,905.3 1234.2,881.0 1234.9,873.8 1235.7,883.2 1236.4,881.7 1237.1,879.0 1237.9,841.9 1238.6,878.2 1239.4,897.3 1240.1,883.4 1240.9,881.3 1241.6,845.0 1242.4,877.8 1243.1,873.1 1243.9,891.5 1244.6,897.0 1245.4,894.2 1246.1,874.1 1246.9,876.3 1247.6,891.1 1248.4,886.8 1249.1,864.3 1249.9,856.1 1250.6,886.0 1251.4,853.6 1252.1,879.1 1252.9,830.0 1253.6,869.3 1254.3,875.2 1255.1,884.8 1255.8,865.3 1256.6,889.2 1257.3,873.7 1258.1,880.9 1258.8,889.0 1259.6,886.8 1260.3,836.8 1261.1,859.7 1261.8,883.2 1262.6,872.5 1263.3,883.3 1264.1,892.5 1264.8,897.1 1265.6,895.2 1266.3,894.7 1267.1,888.4 1267.8,866.6 1268.6,887.8 1269.3,880.9 1270.1,867.4 1270.8,871.2 1271.5,878.5 1272.3,887.7 1273.0,891.8 1273.8,823.3 1274.5,869.8 1275.3,866.7 1276.0,853.8 1276.8,880.4 1277.5,892.0 1278.3,884.4 1279.0,855.7 1279.8,857.7 1280.5,878.9 1281.3,883.8 1282.0,901.4 1282.8,885.3 1283.5,881.1 1284.3,867.2 1285.0,898.3 1285.8,890.8 1286.5,872.5 1287.3,884.0 1288.0,891.9 1288.7,889.7 1289.5,861.0 1290.2,863.5 1291.0,879.7 1291.7,888.2 1292.5,903.9 1293.2,908.7 1294.0,901.2 1294.7,911.7 1295.5,905.2 1296.2,885.7 1297.0,891.3 1297.7,826.5 1298.5,854.0 1299.2,826.6 1300.0,853.3 1300.7,875.3 1301.5,881.5 1302.2,840.2 1303.0,862.6 1303.7,882.2 1304.5,877.7 1305.2,874.1 1305.9,875.7 1306.7,885.9 1307.4,888.9 1308.2,890.8 1308.9,893.5 1309.7,880.1 1310.4,870.4 1311.2,876.8 1311.9,843.2 1312.7,849.8 1313.4,879.8 1314.2,896.0 1314.9,882.0 1315.7,893.9 1316.4,890.0 1317.2,861.0 1317.9,865.8 1318.7,873.9 1319.4,867.3 1320.2,873.4 1320.9,885.3 1321.7,886.2 1322.4,899.2 1323.1,883.1 1323.9,881.5 1324.6,865.1 1325.4,870.1 1326.1,852.3 1326.9,828.6 1327.6,852.1 1328.4,870.2 1329.1,846.6 1329.9,870.7 1330.6,822.5 1331.4,838.8 1332.1,880.5 1332.9,880.6 1333.6,858.9 1334.4,884.1 1335.1,863.8 1335.9,862.1 1336.6,868.5 1337.4,862.4 1338.1,881.4 1338.9,826.4 1339.6,841.5 1340.3,885.0 1341.1,876.1 1341.8,853.6 1342.6,873.9 1343.3,841.6 1344.1,843.7 1344.8,837.1 1345.6,881.9 1346.3,886.6 1347.1,855.7 1347.8,828.0 1348.6,856.4 1349.3,874.3 1350.1,863.8 1350.8,842.6 1351.6,867.8 1352.3,882.2 1353.1,844.6 1353.8,870.1 1354.6,825.3 1355.3,839.4 1356.1,879.7 1356.8,854.1 1357.5,835.0 1358.3,856.4 1359.0,876.3 1359.8,853.6 1360.5,850.9 1361.3,870.3 1362.0,869.9 1362.8,862.5 1363.5,867.5 1364.3,844.8 1365.0,848.2 1365.8,857.8 1366.5,850.2 1367.3,869.8 1368.0,888.7 1368.8,863.5 1369.5,876.6 1370.3,879.3 1371.0,888.4 1371.8,896.1 1372.5,897.2 1373.3,880.2 1374.0,857.8 1374.7,828.1 1375.5,860.0 1376.2,888.0 1377.0,895.6 1377.7,876.0 1378.5,873.8 1379.2,843.5 1380.0,858.1 1380.7,874.1 1381.5,889.9 1382.2,894.1 1383.0,853.5 1383.7,876.5 1384.5,883.8 1385.2,890.3 1386.0,855.6 1386.7,865.7 1387.5,856.6 1388.2,803.2 1389.0,840.6 1389.7,866.5 1390.5,892.0 1391.2,885.3 1391.9,854.6 1392.7,799.7 1393.4,826.5 1394.2,843.6 1394.9,874.0 1395.7,879.7 1396.4,866.3 1397.2,872.6 1397.9,863.4 1398.7,861.9 1399.4,827.1 1400.2,868.2 1400.9,878.7 1401.7,894.6 1402.4,899.9 1403.2,875.1 1403.9,877.3 1404.7,896.6 1405.4,886.8 1406.2,879.4 1406.9,871.1 1407.7,883.4 1408.4,873.9 1409.1,839.4 1409.9,878.8 1410.6,889.8 1411.4,851.7 1412.1,842.2 1412.9,830.5 1413.6,854.8 1414.4,885.2 1415.1,857.2 1415.9,866.4 1416.6,865.9 1417.4,876.6 1418.1,874.4 1418.9,859.4 1419.6,807.8 1420.4,843.9 1421.1,878.2 1421.9,870.2 1422.6,887.7 1423.4,892.7 1424.1,851.9 1424.9,832.8 1425.6,861.4 1426.3,866.5 1427.1,871.0 1427.8,881.8 1428.6,888.0 1429.3,837.0 1430.1,861.9 1430.8,876.7 1431.6,861.9 1432.3,869.5 1433.1,860.7 1433.8,873.7 1434.6,867.4 1435.3,886.8 1436.1,883.0 1436.8,877.9 1437.6,870.6 1438.3,867.4 1439.1,884.4 1439.8,859.2 1440.6,886.0 1441.3,847.9 1442.1,872.5 1442.8,893.1 1443.5,860.8 1444.3,810.1 1445.0,845.6 1445.8,881.9 1446.5,879.0 1447.3,851.7 1448.0,847.8 1448.8,836.9 1449.5,858.7 1450.3,856.8 1451.0,821.2 1451.8,820.5 1452.5,846.9 1453.3,866.1 1454.0,878.6 1454.8,884.6 1455.5,861.6 1456.3,852.6 1457.0,855.3 1457.8,869.3 1458.5,867.0 1459.2,841.9 1460.0,847.9 1460.7,872.6 1461.5,883.9 1462.2,878.5 1463.0,886.1 1463.7,889.2 1464.5,876.0 1465.2,893.7 1466.0,895.7 1466.7,868.8 1467.5,861.7 1468.2,842.1 1469.0,872.9 1469.7,850.5 1470.5,836.9 1471.2,873.4 1472.0,887.1 1472.7,859.4 1473.5,876.2 1474.2,836.5 1475.0,871.1 1475.7,887.3 1476.4,887.3 1477.2,873.3 1477.9,884.9 1478.7,879.6 1479.4,888.9 1480.2,881.2 1480.9,885.9 1481.7,896.7 1482.4,851.3 1483.2,883.0 1483.9,875.9 1484.7,858.9 1485.4,865.7 1486.2,874.0 1486.9,896.1 1487.7,876.1 1488.4,841.9 1489.2,862.2 1489.9,858.2 1490.7,872.4 1491.4,875.7 1492.2,855.4 1492.9,881.0 1493.6,850.1 1494.4,860.9 1495.1,845.6 1495.9,833.8 1496.6,880.6 1497.4,844.5 1498.1,869.8 1498.9,872.0 1499.6,871.6 1500.4,842.3 1501.1,852.7 1501.9,853.1 1502.6,851.0 1503.4,856.6 1504.1,870.6 1504.9,880.1 1505.6,893.5 1506.4,852.5 1507.1,796.3 1507.9,835.6 1508.6,878.3 1509.4,884.0 1510.1,882.2 1510.8,878.1 1511.6,889.1 1512.3,893.1 1513.1,898.1 1513.8,903.2 1514.6,901.1 1515.3,871.0 1516.1,890.2 1516.8,887.9 1517.6,854.6 1518.3,799.7 1519.1,838.1 1519.8,881.4 1520.6,887.5 1521.3,855.8 1522.1,885.0 1522.8,873.9 1523.6,864.4 1524.3,876.0 1525.1,889.8 1525.8,883.2 1526.6,874.4 1527.3,891.3 1528.0,883.1 1528.8,865.0 1529.5,888.4 1530.3,881.8 1531.0,848.6 1531.8,874.0 1532.5,875.8 1533.3,890.5 1534.0,875.5 1534.8,891.2 1535.5,880.9 1536.3,892.6 1537.0,896.9 1537.8,886.0 1538.5,850.9 1539.3,879.6 1540.0,857.4 1540.8,882.7 1541.5,866.5 1542.3,853.5 1543.0,889.4 1543.8,891.4 1544.5,839.5 1545.2,870.4 1546.0,871.8 1546.7,883.0 1547.5,869.1 1548.2,883.8 1549.0,850.1 1549.7,869.6 1550.5,853.0 1551.2,876.8 1552.0,853.8 1552.7,861.8 1553.5,862.2 1554.2,881.3 1555.0,890.1 1555.7,881.0 1556.5,895.6 1557.2,880.3 1558.0,883.1 1558.7,891.2 1559.5,879.1 1560.2,884.5 1561.0,888.1 1561.7,883.8 1562.4,895.6 1563.2,892.7 1563.9,890.3 1564.7,848.7 1565.4,867.1 1566.2,866.0 1566.9,887.6 1567.7,882.1 1568.4,888.6 1569.2,888.3 1569.9,899.3 1570.7,885.0 1571.4,895.1 1572.2,888.8 1572.9,883.9 1573.7,893.4 1574.4,872.6 1575.2,883.6 1575.9,869.4 1576.7,881.3 1577.4,900.2 1578.2,860.2 1578.9,809.2" fill="none" stroke="#2b2bff" stroke-width="1.209" stroke-linejoin="round"/>
<polyline points="861.0,929.7 861.7,917.3 862.5,910.2 863.2,891.6 864.0,888.1 864.7,896.8 865.5,900.4 866.2,886.3 867.0,893.7 867.7,898.2 868.5,895.7 869.2,893.5 870.0,885.4 870.7,896.7 871.5,899.9 872.2,897.9 873.0,882.7 873.7,888.4 874.5,876.6 875.2,911.1 876.0,883.0 876.7,889.4 877.5,881.7 878.2,910.1 878.9,883.4 879.7,901.1 880.4,882.4 881.2,866.5 881.9,888.6 882.7,904.1 883.4,885.6 884.2,901.1 884.9,890.4 885.7,891.0 886.4,892.3 887.2,893.3 887.9,866.5 888.7,885.9 889.4,903.7 890.2,875.4 890.9,899.4 891.7,884.7 892.4,886.1 893.2,891.5 893.9,886.9 894.7,900.3 895.4,894.8 896.1,890.7 896.9,892.2 897.6,876.4 898.4,887.0 899.1,891.3 899.9,897.5 900.6,897.7 901.4,892.9 902.1,882.9 902.9,890.5 903.6,901.8 904.4,893.3 905.1,895.5 905.9,891.3 906.6,897.6 907.4,911.3 908.1,884.0 908.9,873.1 909.6,898.5 910.4,889.2 911.1,905.5 911.9,884.4 912.6,889.9 913.3,895.2 914.1,907.7 914.8,901.3 915.6,904.1 916.3,898.0 917.1,884.6 917.8,879.6 918.6,906.4 919.3,886.0 920.1,919.1 920.8,883.3 921.6,892.7 922.3,911.6 923.1,912.8 923.8,919.1 924.6,892.2 925.3,892.0 926.1,914.2 926.8,892.5 927.6,919.1 928.3,894.8 929.1,902.1 929.8,918.2 930.5,900.8 931.3,910.6 932.0,919.1 932.8,896.6 933.5,909.8 934.3,919.1 935.0,901.7 935.8,895.2 936.5,914.4 937.3,902.7 938.0,885.6 938.8,898.6 939.5,903.4 940.3,911.5 941.0,887.2 941.8,897.7 942.5,895.5 943.3,899.7 944.0,900.2 944.8,902.8 945.5,910.7 946.3,894.5 947.0,891.2 947.7,887.8 948.5,894.7 949.2,894.4 950.0,887.4 950.7,903.1 951.5,910.9 952.2,898.5 953.0,901.6 953.7,899.2 954.5,894.4 955.2,901.8 956.0,897.8 956.7,897.5 957.5,900.7 958.2,890.3 959.0,886.4 959.7,880.0 960.5,888.6 961.2,874.9 962.0,896.5 962.7,882.8 963.5,875.9 964.2,869.5 964.9,892.4 965.7,886.4 966.4,881.1 967.2,880.1 967.9,879.6 968.7,886.4 969.4,886.9 970.2,899.0 970.9,880.3 971.7,879.1 972.4,873.9 973.2,903.7 973.9,865.9 974.7,906.0 975.4,895.0 976.2,891.4 976.9,886.0 977.7,869.8 978.4,890.1 979.2,866.7 979.9,896.2 980.6,888.2 981.4,886.1 982.1,850.0 982.9,879.5 983.6,872.3 984.4,821.9 985.1,857.3 985.9,876.2 986.6,852.6 987.4,839.3 988.1,825.2 988.9,832.3 989.6,848.2 990.4,857.1 991.1,865.9 991.9,858.6 992.6,857.1 993.4,892.5 994.1,882.8 994.9,819.5 995.6,819.9 996.4,822.0 997.1,846.7 997.8,882.9 998.6,898.6 999.3,878.6 1000.1,852.3 1000.8,859.6 1001.6,880.5 1002.3,888.7 1003.1,855.9 1003.8,832.5 1004.6,837.6 1005.3,840.8 1006.1,883.1 1006.8,883.6 1007.6,880.6 1008.3,871.1 1009.1,882.9 1009.8,899.8 1010.6,880.3 1011.3,877.6 1012.1,853.1 1012.8,844.7 1013.6,873.1 1014.3,874.2 1015.0,896.5 1015.8,904.1 1016.5,854.4 1017.3,886.3 1018.0,892.6 1018.8,892.5 1019.5,848.4 1020.3,860.1 1021.0,862.1 1021.8,882.4 1022.5,891.2 1023.3,884.5 1024.0,866.9 1024.8,870.3 1025.5,869.8 1026.3,879.5 1027.0,890.2 1027.8,877.2 1028.5,870.7 1029.3,852.7 1030.0,851.3 1030.8,887.4 1031.5,870.8 1032.2,886.0 1033.0,893.5 1033.7,887.6 1034.5,888.5 1035.2,874.4 1036.0,889.4 1036.7,875.6 1037.5,892.9 1038.2,885.0 1039.0,895.4 1039.7,893.5 1040.5,871.9 1041.2,891.8 1042.0,863.5 1042.7,882.0 1043.5,885.6 1044.2,888.6 1045.0,844.1 1045.7,860.9 1046.5,817.6 1047.2,835.6 1048.0,881.4 1048.7,864.5 1049.4,846.5 1050.2,881.0 1050.9,898.3 1051.7,898.6 1052.4,900.1 1053.2,874.6 1053.9,880.1 1054.7,848.3 1055.4,866.2 1056.2,878.4 1056.9,869.1 1057.7,848.7 1058.4,857.8 1059.2,885.9 1059.9,871.6 1060.7,852.1 1061.4,858.4 1062.2,876.3 1062.9,883.2 1063.7,855.7 1064.4,867.4 1065.2,873.1 1065.9,841.3 1066.6,877.7 1067.4,856.6 1068.1,803.2 1068.9,840.6 1069.6,826.2 1070.4,870.7 1071.1,891.2 1071.9,890.1 1072.6,873.5 1073.4,861.0 1074.1,819.2 1074.9,831.3 1075.6,852.1 1076.4,887.0 1077.1,868.6 1077.9,879.3 1078.6,888.4 1079.4,892.3 1080.1,850.5 1080.9,817.4 1081.6,824.3 1082.4,866.0 1083.1,886.8 1083.8,891.6 1084.6,885.8 1085.3,883.0 1086.1,871.5 1086.8,869.3 1087.6,872.4 1088.3,856.9 1089.1,892.2 1089.8,861.5 1090.6,865.7 1091.3,886.0 1092.1,881.6 1092.8,886.5 1093.6,869.5 1094.3,883.3 1095.1,888.6 1095.8,883.8 1096.6,893.0 1097.3,845.7 1098.1,882.1 1098.8,872.0 1099.6,882.3 1100.3,890.2 1101.0,877.4 1101.8,896.6 1102.5,871.1 1103.3,871.1 1104.0,879.8 1104.8,891.5 1105.5,900.0 1106.3,893.8 1107.0,871.9 1107.8,887.8 1108.5,879.8 1109.3,890.7 1110.0,878.3 1110.8,885.9 1111.5,874.0 1112.3,835.2 1113.0,839.0 1113.8,842.2 1114.5,869.3 1115.3,824.3 1116.0,855.8 1116.8,889.4 1117.5,893.4 1118.2,877.7 1119.0,890.0 1119.7,896.7 1120.5,851.9 1121.2,871.4 1122.0,839.2 1122.7,857.5 1123.5,878.4 1124.2,884.5 1125.0,876.4 1125.7,850.0 1126.5,883.7 1127.2,861.2 1128.0,884.1 1128.7,899.2 1129.5,883.2 1130.2,869.0 1131.0,877.7 1131.7,884.4 1132.5,886.0 1133.2,888.4 1134.0,898.3 1134.7,898.4 1135.4,880.0 1136.2,895.8 1136.9,895.6 1137.7,895.5 1138.4,901.2 1139.2,873.5 1139.9,852.2 1140.7,884.3 1141.4,900.2 1142.2,865.9 1142.9,861.1 1143.7,874.5 1144.4,839.0 1145.2,874.5 1145.9,894.1 1146.7,870.4 1147.4,853.5 1148.2,819.9 1148.9,873.7 1149.7,861.6 1150.4,881.9 1151.2,882.6 1151.9,889.0 1152.6,898.1 1153.4,900.2 1154.1,890.8 1154.9,862.3 1155.6,883.8 1156.4,868.1 1157.1,886.8 1157.9,837.0 1158.6,874.9 1159.4,880.2 1160.1,833.9 1160.9,859.6 1161.6,864.4 1162.4,888.0 1163.1,889.8 1163.9,868.8 1164.6,829.8 1165.4,832.6 1166.1,876.3 1166.9,886.0 1167.6,895.7 1168.4,874.4 1169.1,883.9 1169.8,851.9 1170.6,831.9 1171.3,866.5 1172.1,843.9 1172.8,866.6 1173.6,889.8 1174.3,881.0 1175.1,888.3 1175.8,889.7 1176.6,865.8 1177.3,877.0 1178.1,826.2 1178.8,859.3 1179.6,897.2 1180.3,826.1 1181.1,845.4 1181.8,840.1 1182.6,849.8 1183.3,886.0 1184.1,832.6 1184.8,871.0 1185.6,877.3 1186.3,845.6 1187.0,870.9 1187.8,896.8 1188.5,857.1 1189.3,803.9 1190.0,841.1 1190.8,846.3 1191.5,869.3 1192.3,888.9 1193.0,878.3 1193.8,856.0 1194.5,889.5 1195.3,869.7 1196.0,871.1 1196.8,877.0 1197.5,895.6 1198.3,898.9 1199.0,899.4 1199.8,892.0 1200.5,877.6 1201.3,861.7 1202.0,886.0 1202.8,874.9 1203.5,881.1 1204.2,889.4 1205.0,844.6 1205.7,881.0 1206.5,867.3 1207.2,874.7 1208.0,858.7 1208.7,806.6 1209.5,843.0 1210.2,892.7 1211.0,893.6 1211.7,892.1 1212.5,895.0 1213.2,900.5 1214.0,906.9 1214.7,880.7 1215.5,881.8 1216.2,878.1 1217.0,877.9 1217.7,893.3 1218.5,895.3 1219.2,881.0 1220.0,894.4 1220.7,902.0 1221.4,892.6 1222.2,890.9 1222.9,893.8 1223.7,887.3 1224.4,899.8 1225.2,890.7 1225.9,828.9 1226.7,858.9 1227.4,852.0 1228.2,866.4 1228.9,855.7 1229.7,885.6 1230.4,896.7 1231.2,896.5 1231.9,897.4 1232.7,890.1 1233.4,906.6 1234.2,880.2 1234.9,902.3 1235.7,856.6 1236.4,873.9 1237.1,858.7 1237.9,806.6 1238.6,843.0 1239.4,869.0 1240.1,877.5 1240.9,893.3 1241.6,894.0 1242.4,877.0 1243.1,873.5 1243.9,884.3 1244.6,901.6 1245.4,892.6 1246.1,848.2 1246.9,884.6 1247.6,883.7 1248.4,880.0 1249.1,889.4 1249.9,890.1 1250.6,874.6 1251.4,826.9 1252.1,835.3 1252.9,847.4 1253.6,862.1 1254.3,885.6 1255.1,865.9 1255.8,888.7 1256.6,879.9 1257.3,871.8 1258.1,842.8 1258.8,866.2 1259.6,880.1 1260.3,880.4 1261.1,873.8 1261.8,882.1 1262.6,867.0 1263.3,885.5 1264.1,873.8 1264.8,895.9 1265.6,886.6 1266.3,867.9 1267.1,874.4 1267.8,893.2 1268.6,898.1 1269.3,883.7 1270.1,826.5 1270.8,870.4 1271.5,860.6 1272.3,857.4 1273.0,889.8 1273.8,868.6 1274.5,874.9 1275.3,874.0 1276.0,849.7 1276.8,854.8 1277.5,887.9 1278.3,901.9 1279.0,852.1 1279.8,846.8 1280.5,819.3 1281.3,852.2 1282.0,891.7 1282.8,896.2 1283.5,901.6 1284.3,894.9 1285.0,899.4 1285.8,879.8 1286.5,882.3 1287.3,854.4 1288.0,841.1 1288.7,876.7 1289.5,871.0 1290.2,868.0 1291.0,901.8 1291.7,894.3 1292.5,858.9 1293.2,889.2 1294.0,882.3 1294.7,899.2 1295.5,885.5 1296.2,886.0 1297.0,901.1 1297.7,907.0 1298.5,875.7 1299.2,899.3 1300.0,885.6 1300.7,866.4 1301.5,834.9 1302.2,865.6 1303.0,881.1 1303.7,881.0 1304.5,867.3 1305.2,864.2 1305.9,866.9 1306.7,874.1 1307.4,891.5 1308.2,884.3 1308.9,840.6 1309.7,821.7 1310.4,834.1 1311.2,788.1 1311.9,829.8 1312.7,889.5 1313.4,885.9 1314.2,864.5 1314.9,862.8 1315.7,874.1 1316.4,893.3 1317.2,875.5 1317.9,893.9 1318.7,888.0 1319.4,873.5 1320.2,882.6 1320.9,886.3 1321.7,880.4 1322.4,880.3 1323.1,880.0 1323.9,891.2 1324.6,886.0 1325.4,875.6 1326.1,883.7 1326.9,873.3 1327.6,872.5 1328.4,899.4 1329.1,892.4 1329.9,899.4 1330.6,891.4 1331.4,876.2 1332.1,894.6 1332.9,875.4 1333.6,892.7 1334.4,891.5 1335.1,833.2 1335.9,828.8 1336.6,873.3 1337.4,836.5 1338.1,769.7 1338.9,816.5 1339.6,900.1 1340.3,872.1 1341.1,823.5 1341.8,867.7 1342.6,850.2 1343.3,869.0 1344.1,892.2 1344.8,891.7 1345.6,873.6 1346.3,868.4 1347.1,893.2 1347.8,898.8 1348.6,865.8 1349.3,869.7 1350.1,878.9 1350.8,877.4 1351.6,881.7 1352.3,895.3 1353.1,902.2 1353.8,889.2 1354.6,876.2 1355.3,881.5 1356.1,887.0 1356.8,875.7 1357.5,872.6 1358.3,831.7 1359.0,867.8 1359.8,872.9 1360.5,881.8 1361.3,892.2 1362.0,884.0 1362.8,873.9 1363.5,883.1 1364.3,883.8 1365.0,897.1 1365.8,887.2 1366.5,883.8 1367.3,885.6 1368.0,847.1 1368.8,870.2 1369.5,855.1 1370.3,876.8 1371.0,853.5 1371.8,861.2 1372.5,891.0 1373.3,886.3 1374.0,883.5 1374.7,889.8 1375.5,899.5 1376.2,892.6 1377.0,862.5 1377.7,878.2 1378.5,873.2 1379.2,878.6 1380.0,838.6 1380.7,838.6 1381.5,883.9 1382.2,873.9 1383.0,885.7 1383.7,882.8 1384.5,902.2 1385.2,878.2 1386.0,853.0 1386.7,883.6 1387.5,889.8 1388.2,823.8 1389.0,859.8 1389.7,879.0 1390.5,891.7 1391.2,876.0 1391.9,896.2 1392.7,899.7 1393.4,910.1 1394.2,878.3 1394.9,828.2 1395.7,823.4 1396.4,865.0 1397.2,889.2 1397.9,897.2 1398.7,857.0 1399.4,870.9 1400.2,865.2 1400.9,838.7 1401.7,879.0 1402.4,867.0 1403.2,876.5 1403.9,878.3 1404.7,893.4 1405.4,836.1 1406.2,876.8 1406.9,872.3 1407.7,878.8 1408.4,847.3 1409.1,874.4 1409.9,851.9 1410.6,875.3 1411.4,865.1 1412.1,878.9 1412.9,891.9 1413.6,891.9 1414.4,893.8 1415.1,888.7 1415.9,871.3 1416.6,884.1 1417.4,900.0 1418.1,874.6 1418.9,896.0 1419.6,895.9 1420.4,890.0 1421.1,845.5 1421.9,841.6 1422.6,862.4 1423.4,868.1 1424.1,889.1 1424.9,893.3 1425.6,892.6 1426.3,860.9 1427.1,884.5 1427.8,888.3 1428.6,874.2 1429.3,897.2 1430.1,890.5 1430.8,882.1 1431.6,884.4 1432.3,897.6 1433.1,892.7 1433.8,890.4 1434.6,894.2 1435.3,857.0 1436.1,867.8 1436.8,818.6 1437.6,847.7 1438.3,887.5 1439.1,867.0 1439.8,889.5 1440.6,885.7 1441.3,893.1 1442.1,885.1 1442.8,855.5 1443.5,890.4 1444.3,900.9 1445.0,883.2 1445.8,868.0 1446.5,882.7 1447.3,892.1 1448.0,855.6 1448.8,881.3 1449.5,857.3 1450.3,877.1 1451.0,846.6 1451.8,826.8 1452.5,829.1 1453.3,867.4 1454.0,872.9 1454.8,872.7 1455.5,873.3 1456.3,889.6 1457.0,894.2 1457.8,888.0 1458.5,882.1 1459.2,866.8 1460.0,874.5 1460.7,860.8 1461.5,833.9 1462.2,840.3 1463.0,848.2 1463.7,870.6 1464.5,874.3 1465.2,893.5 1466.0,871.7 1466.7,848.0 1467.5,873.9 1468.2,861.0 1469.0,882.9 1469.7,866.8 1470.5,869.9 1471.2,878.7 1472.0,877.2 1472.7,884.8 1473.5,897.5 1474.2,889.9 1475.0,885.5 1475.7,877.5 1476.4,901.1 1477.2,893.4 1477.9,867.5 1478.7,871.4 1479.4,876.4 1480.2,882.7 1480.9,866.9 1481.7,889.1 1482.4,877.5 1483.2,889.1 1483.9,870.5 1484.7,889.0 1485.4,886.3 1486.2,891.0 1486.9,844.5 1487.7,837.3 1488.4,849.1 1489.2,845.6 1489.9,866.9 1490.7,893.0 1491.4,897.0 1492.2,876.9 1492.9,864.7 1493.6,891.1 1494.4,857.2 1495.1,859.0 1495.9,881.3 1496.6,881.8 1497.4,891.3 1498.1,869.9 1498.9,893.9 1499.6,891.1 1500.4,891.1 1501.1,846.9 1501.9,871.6 1502.6,859.9 1503.4,876.9 1504.1,844.1 1504.9,865.3 1505.6,877.8 1506.4,849.2 1507.1,871.2 1507.9,851.0 1508.6,893.9 1509.4,860.5 1510.1,865.0 1510.8,832.8 1511.6,877.9 1512.3,889.0 1513.1,891.2 1513.8,874.1 1514.6,892.1 1515.3,840.0 1516.1,881.7 1516.8,882.1 1517.6,874.7 1518.3,885.9 1519.1,852.3 1519.8,867.9 1520.6,872.1 1521.3,877.8 1522.1,876.4 1522.8,873.0 1523.6,847.6 1524.3,882.5 1525.1,858.0 1525.8,883.5 1526.6,882.7 1527.3,880.5 1528.0,878.9 1528.8,884.9 1529.5,891.7 1530.3,881.3 1531.0,859.9 1531.8,883.1 1532.5,885.0 1533.3,884.8 1534.0,904.0 1534.8,893.0 1535.5,872.9 1536.3,898.1 1537.0,871.0 1537.8,823.4 1538.5,872.2 1539.3,888.6 1540.0,871.7 1540.8,873.5 1541.5,862.6 1542.3,870.6 1543.0,851.7 1543.8,795.0 1544.5,834.7 1545.2,862.8 1546.0,897.3 1546.7,897.6 1547.5,896.5 1548.2,895.4 1549.0,894.1 1549.7,893.1 1550.5,879.7 1551.2,857.3 1552.0,888.0 1552.7,862.9 1553.5,890.6 1554.2,861.7 1555.0,886.8 1555.7,900.6 1556.5,886.8 1557.2,857.9 1558.0,874.0 1558.7,894.5 1559.5,894.0 1560.2,893.2 1561.0,868.2 1561.7,868.3 1562.4,887.3 1563.2,837.3 1563.9,878.5 1564.7,872.8 1565.4,878.1 1566.2,897.9 1566.9,879.3 1567.7,888.7 1568.4,877.6 1569.2,841.8 1569.9,885.4 1570.7,892.4 1571.4,861.8 1572.2,874.6 1572.9,861.7 1573.7,864.5 1574.4,887.1 1575.2,879.1 1575.9,894.6 1576.7,882.3 1577.4,856.7 1578.2,874.4 1578.9,862.6" fill="none" stroke="#ff00ff" stroke-width="1.3" stroke-linejoin="round"/>
<line x1="861.0" y1="826.9" x2="1578.9" y2="826.9" stroke="#4a4aff" stroke-width="2.4" stroke-dasharray="8,5"/>
<line x1="861.0" y1="827.4" x2="1578.9" y2="827.4" stroke="#ff00ff" stroke-width="1.9" stroke-dasharray="7,3,2,3" opacity="0.8"/>
<line x1="980.6" y1="762.0" x2="980.6" y2="936.8" stroke="#444" stroke-width="1.2" stroke-dasharray="9,5.5" stroke-dashoffset="6"/>
<path d="M861.0,759.6 V936.8 H1578.9" fill="none" stroke="#6e6e6e" stroke-width="1.5"/>
<line x1="861.0" y1="936.8" x2="866.0" y2="936.8" stroke="#6e6e6e" stroke-width="1.3"/>
<text x="857.5" y="937.3" font-size="21" text-anchor="end" dominant-baseline="central">0</text>
<line x1="861.0" y1="892.5" x2="866.0" y2="892.5" stroke="#6e6e6e" stroke-width="1.3"/>
<text x="857.5" y="893.0" font-size="21" text-anchor="end" dominant-baseline="central">50</text>
<line x1="861.0" y1="848.2" x2="866.0" y2="848.2" stroke="#6e6e6e" stroke-width="1.3"/>
<text x="857.5" y="848.7" font-size="21" text-anchor="end" dominant-baseline="central">100</text>
<line x1="861.0" y1="803.9" x2="866.0" y2="803.9" stroke="#6e6e6e" stroke-width="1.3"/>
<text x="857.5" y="804.4" font-size="21" text-anchor="end" dominant-baseline="central">150</text>
<line x1="861.0" y1="759.6" x2="866.0" y2="759.6" stroke="#6e6e6e" stroke-width="1.3"/>
<text x="857.5" y="760.1" font-size="21" text-anchor="end" dominant-baseline="central">200</text>
<text x="863.0" y="963.8" font-size="21" text-anchor="middle">0</text>
<line x1="935.8" y1="936.8" x2="935.8" y2="931.8" stroke="#6e6e6e" stroke-width="1.3"/>
<text x="935.8" y="963.8" font-size="21" text-anchor="middle">100</text>
<line x1="1010.6" y1="936.8" x2="1010.6" y2="931.8" stroke="#6e6e6e" stroke-width="1.3"/>
<text x="1010.6" y="963.8" font-size="21" text-anchor="middle">200</text>
<line x1="1085.3" y1="936.8" x2="1085.3" y2="931.8" stroke="#6e6e6e" stroke-width="1.3"/>
<text x="1085.3" y="963.8" font-size="21" text-anchor="middle">300</text>
<line x1="1160.1" y1="936.8" x2="1160.1" y2="931.8" stroke="#6e6e6e" stroke-width="1.3"/>
<text x="1160.1" y="963.8" font-size="21" text-anchor="middle">400</text>
<line x1="1234.9" y1="936.8" x2="1234.9" y2="931.8" stroke="#6e6e6e" stroke-width="1.3"/>
<text x="1234.9" y="963.8" font-size="21" text-anchor="middle">500</text>
<line x1="1309.7" y1="936.8" x2="1309.7" y2="931.8" stroke="#6e6e6e" stroke-width="1.3"/>
<text x="1309.7" y="963.8" font-size="21" text-anchor="middle">600</text>
<line x1="1384.5" y1="936.8" x2="1384.5" y2="931.8" stroke="#6e6e6e" stroke-width="1.3"/>
<text x="1384.5" y="963.8" font-size="21" text-anchor="middle">700</text>
<line x1="1459.2" y1="936.8" x2="1459.2" y2="931.8" stroke="#6e6e6e" stroke-width="1.3"/>
<text x="1459.2" y="963.8" font-size="21" text-anchor="middle">800</text>
<line x1="1534.0" y1="936.8" x2="1534.0" y2="931.8" stroke="#6e6e6e" stroke-width="1.3"/>
<text x="1534.0" y="963.8" font-size="21" text-anchor="middle">900</text>
<text x="1577.9" y="963.8" font-size="21" text-anchor="middle">960</text>
<text x="1220.0" y="989.0" font-size="21.5" text-anchor="middle" stroke="#111" stroke-width="0.3">Sample</text>
<text transform="translate(819.0,848.2) rotate(-90)" font-size="21.4" text-anchor="middle">SPE</text>
<rect x="868.9" y="766.4" width="106.4" height="104.5" fill="#fff" stroke="#6a6a6a" stroke-width="1.6"/>
<line x1="873.1" y1="781.5" x2="913.7" y2="781.5" stroke="#5a5ae0" stroke-width="1.4"/>
<line x1="873.1" y1="805.8" x2="913.7" y2="805.8" stroke="#ff40f0" stroke-width="1.4"/>
<line x1="873.1" y1="831.5" x2="913.7" y2="831.5" stroke="#5a5ae0" stroke-width="1.5" stroke-dasharray="11.9,7.5"/>
<line x1="873.1" y1="856.0" x2="913.7" y2="856.0" stroke="#ff50f0" stroke-width="1.4" stroke-dasharray="9,5,2,5"/>
<text x="918.0" y="785.4" font-size="18.2" font-style="italic">SPE</text>
<line x1="918.7" y1="790.2" x2="950.6" y2="790.2" stroke="#3a3a3a" stroke-width="1.4"/>
<line x1="918.7" y1="798.3" x2="950.6" y2="798.3" stroke="#3a3a3a" stroke-width="1.4"/>
<text x="918.0" y="814.1" font-size="18.2" font-style="italic">SPE</text>
<text x="916.8" y="836.0" font-size="18.2" font-style="italic">SPE</text>
<text x="949.0" y="841.0" font-size="11.6" font-style="italic">UCL</text>
<line x1="915.9" y1="840.2" x2="949.5" y2="840.2" stroke="#3a3a3a" stroke-width="1.4"/>
<line x1="915.3" y1="846.7" x2="947.8" y2="846.7" stroke="#3a3a3a" stroke-width="1.4"/>
<text x="915.7" y="862.6" font-size="18.2" font-style="italic">SPE</text>
<text x="947.3" y="867.7" font-size="11.6" font-style="italic">UCL</text>
<text x="1036.5" y="787.0" font-size="21" stroke="#111" stroke-width="0.55">Fault start</text>
<line x1="1030.3" y1="781.5" x2="990.6" y2="817.6" stroke="#222" stroke-width="1.3"/>
<polygon points="981.4,826.0 987.1,813.7 994.1,821.4" fill="#000"/>
<rect x="80" y="1048.5" width="56" height="3" fill="#e4e4ff"/>
<text x="44" y="1062" font-size="18" fill="#777" xml:space="preserve">bl              ble  lthe  afd  ThE  TTHE HTL</text>
<text x="405.2" y="496.8" font-size="33" text-anchor="middle">(a)</text>
<text x="1182.0" y="496.2" font-size="33" text-anchor="middle">(b)</text>
<text x="408.0" y="1038.4" font-size="33" text-anchor="middle">(c)</text>
<text x="1199.4" y="1033.6" font-size="33" text-anchor="middle">(d)</text>
</svg>
</body></html>
